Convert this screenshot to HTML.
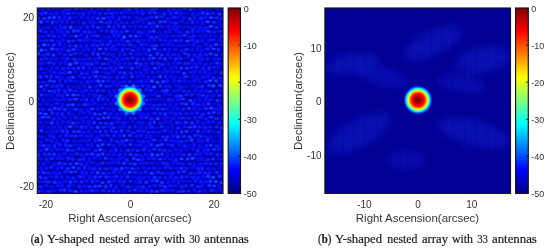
<!DOCTYPE html><html><head><meta charset="utf-8"><title>Figure</title>
<style>html,body{margin:0;padding:0;background:#fff}body{width:550px;height:252px;overflow:hidden}svg{display:block}.t{font-family:"Liberation Sans",sans-serif;font-size:10px;fill:#333333}.c{font-family:"Liberation Sans",sans-serif;font-size:9px;fill:#333333}.l{font-family:"Liberation Sans",sans-serif;font-size:11.45px;fill:#333333}.cap{font-family:"Liberation Serif",serif;font-size:12px;fill:#1c1c1c;stroke:#1c1c1c;stroke-width:0.2px}.cap .b{font-weight:bold}</style></head><body>
<svg width="550" height="252" viewBox="0 0 550 252">
<defs>
<linearGradient id="cb" x1="0" y1="0" x2="0" y2="1"><stop offset="0.0000" stop-color="#800000"/><stop offset="0.0312" stop-color="#9f0000"/><stop offset="0.0625" stop-color="#bf0000"/><stop offset="0.0938" stop-color="#df0000"/><stop offset="0.1250" stop-color="#ff0000"/><stop offset="0.1562" stop-color="#ff2000"/><stop offset="0.1875" stop-color="#ff4000"/><stop offset="0.2188" stop-color="#ff6000"/><stop offset="0.2500" stop-color="#ff8000"/><stop offset="0.2812" stop-color="#ff9f00"/><stop offset="0.3125" stop-color="#ffbf00"/><stop offset="0.3438" stop-color="#ffdf00"/><stop offset="0.3750" stop-color="#ffff00"/><stop offset="0.4062" stop-color="#dfff20"/><stop offset="0.4375" stop-color="#bfff40"/><stop offset="0.4688" stop-color="#9fff60"/><stop offset="0.5000" stop-color="#80ff80"/><stop offset="0.5312" stop-color="#60ff9f"/><stop offset="0.5625" stop-color="#40ffbf"/><stop offset="0.5938" stop-color="#20ffdf"/><stop offset="0.6250" stop-color="#00ffff"/><stop offset="0.6562" stop-color="#00dfff"/><stop offset="0.6875" stop-color="#00bfff"/><stop offset="0.7188" stop-color="#009fff"/><stop offset="0.7500" stop-color="#0080ff"/><stop offset="0.7812" stop-color="#0060ff"/><stop offset="0.8125" stop-color="#0040ff"/><stop offset="0.8438" stop-color="#0020ff"/><stop offset="0.8750" stop-color="#0000ff"/><stop offset="0.9062" stop-color="#0000df"/><stop offset="0.9375" stop-color="#0000bf"/><stop offset="0.9688" stop-color="#00009f"/><stop offset="1.0000" stop-color="#000080"/></linearGradient>
<radialGradient id="bg1" cx="0.5" cy="0.5" r="0.5"><stop offset="0.0000" stop-color="#800000"/><stop offset="0.1419" stop-color="#8c0000"/><stop offset="0.2452" stop-color="#c00000"/><stop offset="0.3484" stop-color="#f00000"/><stop offset="0.4387" stop-color="#ff2000"/><stop offset="0.5226" stop-color="#ff8000"/><stop offset="0.6065" stop-color="#ffff00"/><stop offset="0.6774" stop-color="#80ff80"/><stop offset="0.7484" stop-color="#00ffff"/><stop offset="0.8129" stop-color="#0080ff"/><stop offset="0.8710" stop-color="#0030ff"/><stop offset="0.9226" stop-color="#0a14e6" stop-opacity="0.6"/><stop offset="1" stop-color="#0a14e6" stop-opacity="0"/></radialGradient>
<radialGradient id="bg2" cx="0.5" cy="0.5" r="0.5"><stop offset="0.0000" stop-color="#800000"/><stop offset="0.1419" stop-color="#8c0000"/><stop offset="0.2452" stop-color="#c00000"/><stop offset="0.3484" stop-color="#f00000"/><stop offset="0.4387" stop-color="#ff2000"/><stop offset="0.5226" stop-color="#ff8000"/><stop offset="0.6065" stop-color="#ffff00"/><stop offset="0.6774" stop-color="#80ff80"/><stop offset="0.7484" stop-color="#00ffff"/><stop offset="0.8129" stop-color="#0080ff"/><stop offset="0.8710" stop-color="#0030ff"/><stop offset="0.9226" stop-color="#000094" stop-opacity="0.6"/><stop offset="1" stop-color="#000094" stop-opacity="0"/></radialGradient>
<filter id="bl" x="-5%" y="-5%" width="110%" height="110%"><feGaussianBlur stdDeviation="0.6"/></filter>
<filter id="bl2" x="-5%" y="-5%" width="110%" height="110%"><feGaussianBlur stdDeviation="4"/></filter>
<pattern id="vs" width="2.2" height="10" patternUnits="userSpaceOnUse"><rect width="1.1" height="10" fill="#000094"/></pattern>
<clipPath id="cpa"><rect x="37.3" y="8" width="185.7" height="185.4"/></clipPath>
<clipPath id="cpb"><rect x="324.9" y="8" width="185.6" height="185.4"/></clipPath>
</defs>
<rect width="550" height="252" fill="#fff"/>
<g clip-path="url(#cpa)">
<rect x="36.3" y="7" width="187.7" height="187.4" fill="#0000a8"/>
<g filter="url(#bl)">
<g fill="#0a10ff"><ellipse cx="37.9" cy="8.2" rx="2.7" ry="2.0" opacity="0.77"/><ellipse cx="42.8" cy="8.8" rx="2.4" ry="2.3" opacity="0.86"/><ellipse cx="48.5" cy="9.0" rx="2.7" ry="2.0" opacity="0.90"/><ellipse cx="53.8" cy="8.1" rx="2.3" ry="2.3" opacity="0.88"/><ellipse cx="59.0" cy="8.0" rx="2.6" ry="2.1" opacity="0.85"/><ellipse cx="65.7" cy="9.2" rx="2.6" ry="2.0" opacity="0.85"/><ellipse cx="69.9" cy="8.7" rx="2.0" ry="2.7" opacity="0.86"/><ellipse cx="76.7" cy="8.5" rx="2.9" ry="1.9" opacity="0.94"/><ellipse cx="81.7" cy="8.0" rx="3.0" ry="1.8" opacity="0.89"/><ellipse cx="85.9" cy="8.7" rx="2.2" ry="2.4" opacity="0.76"/><ellipse cx="91.5" cy="8.3" rx="2.2" ry="2.4" opacity="0.88"/><ellipse cx="98.3" cy="8.4" rx="3.0" ry="1.8" opacity="0.84"/><ellipse cx="102.5" cy="8.8" rx="2.3" ry="2.3" opacity="0.85"/><ellipse cx="108.7" cy="8.8" rx="2.2" ry="2.4" opacity="0.88"/><ellipse cx="113.6" cy="8.6" rx="2.4" ry="2.2" opacity="0.84"/><ellipse cx="118.4" cy="7.9" rx="2.1" ry="2.5" opacity="0.77"/><ellipse cx="125.3" cy="9.0" rx="2.5" ry="2.1" opacity="0.83"/><ellipse cx="129.3" cy="9.4" rx="2.8" ry="1.9" opacity="0.94"/><ellipse cx="136.0" cy="8.2" rx="2.7" ry="2.0" opacity="0.94"/><ellipse cx="141.7" cy="9.5" rx="2.1" ry="2.5" opacity="0.80"/><ellipse cx="146.7" cy="8.9" rx="2.4" ry="2.3" opacity="0.80"/><ellipse cx="152.5" cy="9.4" rx="2.9" ry="1.9" opacity="0.90"/><ellipse cx="156.2" cy="8.4" rx="3.2" ry="1.7" opacity="0.91"/><ellipse cx="162.2" cy="8.3" rx="2.4" ry="2.2" opacity="0.81"/><ellipse cx="168.5" cy="9.4" rx="1.9" ry="2.9" opacity="0.85"/><ellipse cx="173.7" cy="8.8" rx="2.5" ry="2.2" opacity="0.87"/><ellipse cx="179.4" cy="9.2" rx="2.3" ry="2.3" opacity="0.79"/><ellipse cx="184.6" cy="8.2" rx="2.9" ry="1.8" opacity="1.00"/><ellipse cx="190.2" cy="9.1" rx="2.7" ry="2.0" opacity="0.97"/><ellipse cx="194.4" cy="8.3" rx="2.1" ry="2.6" opacity="0.81"/><ellipse cx="200.9" cy="8.5" rx="2.9" ry="1.8" opacity="0.83"/><ellipse cx="206.4" cy="8.8" rx="2.2" ry="2.5" opacity="0.84"/><ellipse cx="210.4" cy="7.9" rx="2.7" ry="2.0" opacity="0.83"/><ellipse cx="216.5" cy="8.5" rx="3.0" ry="1.8" opacity="0.89"/><ellipse cx="222.3" cy="8.8" rx="3.0" ry="1.8" opacity="0.88"/><ellipse cx="35.8" cy="13.3" rx="3.0" ry="1.8" opacity="0.83"/><ellipse cx="41.6" cy="14.1" rx="3.0" ry="1.8" opacity="0.89"/><ellipse cx="45.5" cy="12.9" rx="3.1" ry="1.8" opacity="0.93"/><ellipse cx="51.1" cy="14.0" rx="3.0" ry="1.8" opacity="0.85"/><ellipse cx="56.5" cy="13.2" rx="2.4" ry="2.3" opacity="0.81"/><ellipse cx="62.9" cy="12.5" rx="2.2" ry="2.5" opacity="0.81"/><ellipse cx="68.1" cy="13.4" rx="2.9" ry="1.9" opacity="0.92"/><ellipse cx="73.8" cy="12.9" rx="3.2" ry="1.7" opacity="0.87"/><ellipse cx="78.8" cy="13.7" rx="2.9" ry="1.9" opacity="0.78"/><ellipse cx="83.3" cy="14.1" rx="2.2" ry="2.4" opacity="0.87"/><ellipse cx="89.2" cy="13.4" rx="2.3" ry="2.3" opacity="0.79"/><ellipse cx="94.4" cy="12.6" rx="2.4" ry="2.3" opacity="0.79"/><ellipse cx="99.9" cy="13.8" rx="2.5" ry="2.2" opacity="0.91"/><ellipse cx="106.1" cy="13.4" rx="3.1" ry="1.7" opacity="0.89"/><ellipse cx="111.7" cy="13.2" rx="3.0" ry="1.8" opacity="0.88"/><ellipse cx="116.3" cy="13.1" rx="2.2" ry="2.4" opacity="0.76"/><ellipse cx="121.5" cy="12.7" rx="2.9" ry="1.8" opacity="0.88"/><ellipse cx="127.2" cy="12.7" rx="3.1" ry="1.7" opacity="0.84"/><ellipse cx="132.4" cy="13.1" rx="2.7" ry="2.0" opacity="0.85"/><ellipse cx="137.7" cy="12.6" rx="2.2" ry="2.4" opacity="0.76"/><ellipse cx="143.0" cy="13.5" rx="2.8" ry="2.0" opacity="0.86"/><ellipse cx="149.8" cy="12.7" rx="2.2" ry="2.4" opacity="0.87"/><ellipse cx="154.9" cy="12.7" rx="3.0" ry="1.8" opacity="0.91"/><ellipse cx="160.0" cy="13.7" rx="2.4" ry="2.2" opacity="0.84"/><ellipse cx="164.4" cy="14.0" rx="2.7" ry="2.0" opacity="0.89"/><ellipse cx="170.9" cy="13.4" rx="2.2" ry="2.4" opacity="0.85"/><ellipse cx="176.3" cy="12.8" rx="2.6" ry="2.1" opacity="0.90"/><ellipse cx="181.5" cy="13.6" rx="2.5" ry="2.2" opacity="0.80"/><ellipse cx="186.3" cy="13.5" rx="2.6" ry="2.1" opacity="0.81"/><ellipse cx="192.4" cy="13.7" rx="2.6" ry="2.0" opacity="0.85"/><ellipse cx="198.4" cy="14.1" rx="2.9" ry="1.9" opacity="0.81"/><ellipse cx="202.8" cy="12.9" rx="2.4" ry="2.3" opacity="0.90"/><ellipse cx="207.6" cy="13.9" rx="2.8" ry="1.9" opacity="0.94"/><ellipse cx="212.8" cy="13.3" rx="2.5" ry="2.2" opacity="0.89"/><ellipse cx="219.6" cy="14.0" rx="2.9" ry="1.9" opacity="0.94"/><ellipse cx="225.4" cy="13.5" rx="2.2" ry="2.4" opacity="0.82"/><ellipse cx="37.5" cy="18.5" rx="2.4" ry="2.2" opacity="0.93"/><ellipse cx="44.4" cy="18.6" rx="3.1" ry="1.7" opacity="0.98"/><ellipse cx="49.4" cy="17.8" rx="2.6" ry="2.1" opacity="0.97"/><ellipse cx="54.1" cy="17.5" rx="2.4" ry="2.2" opacity="0.95"/><ellipse cx="59.2" cy="17.3" rx="2.1" ry="2.6" opacity="0.88"/><ellipse cx="64.6" cy="17.3" rx="2.3" ry="2.4" opacity="0.79"/><ellipse cx="70.2" cy="18.0" rx="2.7" ry="2.0" opacity="0.89"/><ellipse cx="75.2" cy="17.5" rx="2.8" ry="1.9" opacity="0.80"/><ellipse cx="82.1" cy="17.4" rx="2.6" ry="2.1" opacity="0.78"/><ellipse cx="87.6" cy="18.5" rx="2.2" ry="2.4" opacity="0.75"/><ellipse cx="92.9" cy="17.9" rx="2.5" ry="2.1" opacity="0.78"/><ellipse cx="98.2" cy="18.5" rx="2.4" ry="2.3" opacity="0.90"/><ellipse cx="103.4" cy="18.2" rx="2.9" ry="1.9" opacity="0.95"/><ellipse cx="108.7" cy="17.5" rx="2.8" ry="1.9" opacity="0.84"/><ellipse cx="113.1" cy="17.1" rx="2.1" ry="2.5" opacity="0.85"/><ellipse cx="119.1" cy="18.7" rx="2.1" ry="2.6" opacity="0.87"/><ellipse cx="124.3" cy="17.0" rx="2.6" ry="2.1" opacity="0.86"/><ellipse cx="129.2" cy="17.6" rx="2.5" ry="2.1" opacity="0.89"/><ellipse cx="136.2" cy="17.6" rx="2.4" ry="2.2" opacity="0.79"/><ellipse cx="140.4" cy="18.7" rx="2.4" ry="2.3" opacity="0.76"/><ellipse cx="146.5" cy="18.7" rx="2.4" ry="2.3" opacity="0.81"/><ellipse cx="151.0" cy="17.1" rx="3.0" ry="1.8" opacity="0.85"/><ellipse cx="156.7" cy="17.3" rx="2.4" ry="2.3" opacity="1.00"/><ellipse cx="161.8" cy="17.0" rx="3.1" ry="1.7" opacity="0.88"/><ellipse cx="168.4" cy="18.5" rx="2.6" ry="2.1" opacity="0.78"/><ellipse cx="174.0" cy="17.3" rx="2.2" ry="2.4" opacity="0.88"/><ellipse cx="177.8" cy="17.1" rx="2.8" ry="1.9" opacity="0.78"/><ellipse cx="183.7" cy="17.5" rx="2.6" ry="2.1" opacity="0.88"/><ellipse cx="189.9" cy="18.6" rx="2.3" ry="2.3" opacity="0.92"/><ellipse cx="194.6" cy="17.5" rx="1.8" ry="3.0" opacity="0.81"/><ellipse cx="200.7" cy="18.3" rx="2.7" ry="2.0" opacity="0.87"/><ellipse cx="204.8" cy="17.4" rx="2.4" ry="2.2" opacity="0.83"/><ellipse cx="211.1" cy="17.6" rx="3.2" ry="1.7" opacity="1.00"/><ellipse cx="216.8" cy="17.8" rx="2.9" ry="1.9" opacity="0.91"/><ellipse cx="221.1" cy="18.5" rx="2.5" ry="2.1" opacity="0.88"/><ellipse cx="34.9" cy="23.1" rx="2.5" ry="2.1" opacity="0.82"/><ellipse cx="40.9" cy="22.0" rx="3.1" ry="1.7" opacity="0.94"/><ellipse cx="47.0" cy="21.6" rx="2.5" ry="2.1" opacity="0.87"/><ellipse cx="52.4" cy="22.4" rx="1.8" ry="3.0" opacity="0.92"/><ellipse cx="56.9" cy="21.8" rx="2.7" ry="2.0" opacity="0.79"/><ellipse cx="62.0" cy="21.6" rx="2.3" ry="2.3" opacity="0.84"/><ellipse cx="67.1" cy="21.7" rx="1.9" ry="2.8" opacity="0.84"/><ellipse cx="72.9" cy="22.1" rx="2.9" ry="1.9" opacity="0.85"/><ellipse cx="78.5" cy="21.9" rx="2.2" ry="2.4" opacity="0.80"/><ellipse cx="84.0" cy="23.0" rx="2.1" ry="2.6" opacity="0.88"/><ellipse cx="90.2" cy="21.7" rx="2.0" ry="2.6" opacity="0.81"/><ellipse cx="94.5" cy="22.5" rx="2.6" ry="2.0" opacity="0.83"/><ellipse cx="101.1" cy="21.9" rx="3.2" ry="1.7" opacity="0.98"/><ellipse cx="106.4" cy="22.7" rx="3.0" ry="1.8" opacity="0.88"/><ellipse cx="110.5" cy="21.9" rx="2.1" ry="2.5" opacity="0.85"/><ellipse cx="115.7" cy="22.6" rx="1.9" ry="2.9" opacity="0.75"/><ellipse cx="122.1" cy="22.5" rx="2.6" ry="2.1" opacity="0.79"/><ellipse cx="127.2" cy="22.7" rx="2.3" ry="2.3" opacity="0.85"/><ellipse cx="133.2" cy="22.4" rx="2.4" ry="2.2" opacity="0.86"/><ellipse cx="138.1" cy="21.6" rx="2.8" ry="1.9" opacity="0.76"/><ellipse cx="143.5" cy="21.6" rx="1.8" ry="3.0" opacity="0.80"/><ellipse cx="149.5" cy="23.3" rx="2.4" ry="2.3" opacity="0.91"/><ellipse cx="153.7" cy="23.0" rx="2.6" ry="2.1" opacity="0.87"/><ellipse cx="160.3" cy="21.8" rx="2.5" ry="2.1" opacity="1.00"/><ellipse cx="164.5" cy="21.8" rx="3.0" ry="1.8" opacity="0.92"/><ellipse cx="170.7" cy="22.2" rx="2.7" ry="2.0" opacity="0.84"/><ellipse cx="175.7" cy="23.0" rx="2.7" ry="2.0" opacity="0.89"/><ellipse cx="181.7" cy="21.6" rx="2.8" ry="1.9" opacity="0.81"/><ellipse cx="186.9" cy="22.7" rx="2.4" ry="2.3" opacity="0.79"/><ellipse cx="192.3" cy="22.3" rx="2.3" ry="2.3" opacity="0.90"/><ellipse cx="197.2" cy="21.7" rx="2.7" ry="2.0" opacity="0.77"/><ellipse cx="202.4" cy="22.7" rx="1.8" ry="3.0" opacity="0.78"/><ellipse cx="207.7" cy="21.7" rx="2.9" ry="1.9" opacity="0.96"/><ellipse cx="213.8" cy="22.2" rx="3.2" ry="1.7" opacity="0.94"/><ellipse cx="219.2" cy="22.3" rx="1.8" ry="2.9" opacity="0.82"/><ellipse cx="224.6" cy="23.2" rx="2.7" ry="2.0" opacity="0.79"/><ellipse cx="38.5" cy="27.6" rx="2.2" ry="2.5" opacity="0.81"/><ellipse cx="44.3" cy="27.5" rx="3.1" ry="1.8" opacity="0.83"/><ellipse cx="48.9" cy="27.4" rx="2.4" ry="2.3" opacity="0.85"/><ellipse cx="54.8" cy="27.6" rx="2.7" ry="2.0" opacity="0.81"/><ellipse cx="60.3" cy="27.0" rx="1.8" ry="3.0" opacity="0.84"/><ellipse cx="64.7" cy="27.4" rx="2.5" ry="2.2" opacity="0.88"/><ellipse cx="70.8" cy="27.3" rx="2.7" ry="2.0" opacity="0.97"/><ellipse cx="76.4" cy="27.1" rx="2.9" ry="1.9" opacity="0.85"/><ellipse cx="80.7" cy="27.8" rx="2.4" ry="2.2" opacity="0.79"/><ellipse cx="87.1" cy="27.2" rx="2.2" ry="2.4" opacity="0.86"/><ellipse cx="92.9" cy="26.2" rx="1.8" ry="3.0" opacity="0.90"/><ellipse cx="98.2" cy="27.6" rx="2.8" ry="1.9" opacity="0.93"/><ellipse cx="102.5" cy="26.7" rx="2.6" ry="2.1" opacity="0.83"/><ellipse cx="108.8" cy="26.8" rx="2.7" ry="2.0" opacity="0.93"/><ellipse cx="113.7" cy="27.5" rx="2.0" ry="2.7" opacity="0.85"/><ellipse cx="118.6" cy="26.1" rx="1.8" ry="3.0" opacity="0.86"/><ellipse cx="124.0" cy="27.0" rx="2.5" ry="2.2" opacity="0.92"/><ellipse cx="130.0" cy="26.3" rx="3.1" ry="1.8" opacity="0.85"/><ellipse cx="135.2" cy="26.8" rx="1.8" ry="3.0" opacity="0.82"/><ellipse cx="140.3" cy="26.6" rx="2.5" ry="2.1" opacity="0.83"/><ellipse cx="145.7" cy="26.9" rx="2.8" ry="1.9" opacity="0.86"/><ellipse cx="152.2" cy="27.3" rx="2.6" ry="2.1" opacity="0.81"/><ellipse cx="157.1" cy="26.3" rx="2.6" ry="2.1" opacity="0.96"/><ellipse cx="161.8" cy="26.4" rx="2.7" ry="2.0" opacity="0.85"/><ellipse cx="168.2" cy="26.3" rx="2.5" ry="2.1" opacity="0.78"/><ellipse cx="173.7" cy="27.4" rx="2.0" ry="2.7" opacity="0.77"/><ellipse cx="178.1" cy="26.8" rx="2.9" ry="1.9" opacity="0.82"/><ellipse cx="184.0" cy="27.2" rx="2.9" ry="1.9" opacity="0.84"/><ellipse cx="189.5" cy="27.4" rx="2.9" ry="1.8" opacity="0.84"/><ellipse cx="195.1" cy="27.3" rx="2.0" ry="2.7" opacity="0.81"/><ellipse cx="200.1" cy="27.5" rx="2.4" ry="2.2" opacity="0.84"/><ellipse cx="205.9" cy="27.8" rx="2.9" ry="1.9" opacity="0.86"/><ellipse cx="211.1" cy="26.4" rx="2.8" ry="1.9" opacity="0.97"/><ellipse cx="216.4" cy="27.3" rx="2.7" ry="2.0" opacity="0.91"/><ellipse cx="222.3" cy="26.3" rx="2.2" ry="2.4" opacity="0.83"/><ellipse cx="35.3" cy="30.7" rx="2.8" ry="1.9" opacity="0.80"/><ellipse cx="40.5" cy="31.1" rx="2.7" ry="2.0" opacity="0.91"/><ellipse cx="45.6" cy="32.0" rx="2.8" ry="1.9" opacity="0.90"/><ellipse cx="51.9" cy="32.1" rx="2.5" ry="2.2" opacity="0.84"/><ellipse cx="57.7" cy="31.1" rx="2.1" ry="2.6" opacity="0.78"/><ellipse cx="61.6" cy="31.9" rx="2.5" ry="2.2" opacity="0.79"/><ellipse cx="67.8" cy="31.8" rx="3.0" ry="1.8" opacity="0.87"/><ellipse cx="73.8" cy="30.9" rx="2.3" ry="2.3" opacity="0.98"/><ellipse cx="78.0" cy="30.9" rx="2.6" ry="2.1" opacity="0.93"/><ellipse cx="84.8" cy="31.7" rx="2.9" ry="1.8" opacity="0.88"/><ellipse cx="89.6" cy="32.0" rx="2.0" ry="2.7" opacity="0.88"/><ellipse cx="94.1" cy="31.5" rx="2.6" ry="2.0" opacity="0.83"/><ellipse cx="101.0" cy="30.7" rx="2.8" ry="1.9" opacity="0.87"/><ellipse cx="106.5" cy="30.8" rx="2.3" ry="2.3" opacity="0.88"/><ellipse cx="112.0" cy="31.6" rx="2.2" ry="2.4" opacity="0.88"/><ellipse cx="116.3" cy="31.5" rx="2.4" ry="2.3" opacity="0.87"/><ellipse cx="121.5" cy="32.1" rx="2.4" ry="2.2" opacity="0.86"/><ellipse cx="127.0" cy="31.2" rx="2.9" ry="1.9" opacity="0.93"/><ellipse cx="132.8" cy="30.7" rx="2.5" ry="2.2" opacity="0.84"/><ellipse cx="138.8" cy="31.8" rx="2.8" ry="1.9" opacity="0.89"/><ellipse cx="143.4" cy="32.0" rx="2.2" ry="2.4" opacity="0.77"/><ellipse cx="149.6" cy="31.8" rx="2.9" ry="1.9" opacity="0.87"/><ellipse cx="154.0" cy="31.4" rx="2.3" ry="2.3" opacity="0.92"/><ellipse cx="159.8" cy="32.3" rx="2.7" ry="2.0" opacity="0.79"/><ellipse cx="165.9" cy="32.4" rx="2.3" ry="2.4" opacity="0.82"/><ellipse cx="170.0" cy="30.9" rx="1.9" ry="2.8" opacity="0.75"/><ellipse cx="176.7" cy="30.8" rx="2.2" ry="2.5" opacity="0.79"/><ellipse cx="180.8" cy="32.0" rx="2.9" ry="1.8" opacity="0.82"/><ellipse cx="187.3" cy="32.0" rx="3.0" ry="1.8" opacity="0.93"/><ellipse cx="192.5" cy="30.7" rx="1.8" ry="2.9" opacity="0.89"/><ellipse cx="198.1" cy="31.5" rx="2.7" ry="2.0" opacity="0.81"/><ellipse cx="203.2" cy="30.9" rx="2.7" ry="2.0" opacity="0.80"/><ellipse cx="208.2" cy="31.3" rx="2.9" ry="1.8" opacity="0.91"/><ellipse cx="214.1" cy="32.1" rx="3.2" ry="1.7" opacity="0.89"/><ellipse cx="219.8" cy="31.3" rx="3.0" ry="1.8" opacity="0.86"/><ellipse cx="224.4" cy="31.7" rx="2.2" ry="2.4" opacity="0.88"/><ellipse cx="37.8" cy="36.7" rx="3.0" ry="1.8" opacity="0.85"/><ellipse cx="43.1" cy="36.6" rx="2.9" ry="1.9" opacity="0.82"/><ellipse cx="48.9" cy="35.6" rx="3.0" ry="1.8" opacity="0.89"/><ellipse cx="53.9" cy="36.2" rx="2.6" ry="2.0" opacity="0.88"/><ellipse cx="59.2" cy="36.5" rx="2.5" ry="2.1" opacity="0.83"/><ellipse cx="64.6" cy="35.3" rx="2.3" ry="2.4" opacity="0.86"/><ellipse cx="70.3" cy="36.1" rx="3.1" ry="1.7" opacity="0.83"/><ellipse cx="76.0" cy="36.2" rx="2.7" ry="2.0" opacity="0.97"/><ellipse cx="81.0" cy="35.3" rx="2.4" ry="2.3" opacity="0.82"/><ellipse cx="86.9" cy="36.8" rx="1.8" ry="2.9" opacity="0.90"/><ellipse cx="93.0" cy="35.7" rx="3.0" ry="1.8" opacity="0.83"/><ellipse cx="97.4" cy="36.0" rx="3.1" ry="1.7" opacity="0.91"/><ellipse cx="103.7" cy="36.8" rx="3.0" ry="1.8" opacity="0.80"/><ellipse cx="108.7" cy="37.0" rx="2.9" ry="1.9" opacity="0.77"/><ellipse cx="114.1" cy="35.7" rx="2.3" ry="2.4" opacity="0.85"/><ellipse cx="118.6" cy="35.6" rx="2.2" ry="2.5" opacity="0.86"/><ellipse cx="124.1" cy="36.9" rx="2.4" ry="2.3" opacity="0.98"/><ellipse cx="130.2" cy="36.0" rx="2.8" ry="1.9" opacity="0.99"/><ellipse cx="135.8" cy="36.2" rx="2.5" ry="2.2" opacity="0.94"/><ellipse cx="140.5" cy="35.5" rx="1.8" ry="2.9" opacity="0.81"/><ellipse cx="147.1" cy="35.3" rx="2.4" ry="2.3" opacity="0.84"/><ellipse cx="151.4" cy="37.0" rx="2.3" ry="2.3" opacity="0.89"/><ellipse cx="156.6" cy="37.0" rx="2.7" ry="2.0" opacity="0.91"/><ellipse cx="161.8" cy="36.0" rx="2.8" ry="1.9" opacity="0.80"/><ellipse cx="167.2" cy="36.6" rx="2.4" ry="2.2" opacity="0.77"/><ellipse cx="173.4" cy="36.1" rx="2.7" ry="2.0" opacity="0.78"/><ellipse cx="179.2" cy="36.2" rx="2.8" ry="1.9" opacity="0.80"/><ellipse cx="184.4" cy="35.3" rx="3.1" ry="1.7" opacity="0.93"/><ellipse cx="189.4" cy="36.8" rx="3.0" ry="1.8" opacity="0.87"/><ellipse cx="193.9" cy="36.1" rx="2.3" ry="2.3" opacity="0.86"/><ellipse cx="200.6" cy="35.9" rx="2.9" ry="1.8" opacity="0.75"/><ellipse cx="205.6" cy="36.1" rx="2.2" ry="2.5" opacity="0.82"/><ellipse cx="210.5" cy="35.5" rx="1.8" ry="3.0" opacity="0.81"/><ellipse cx="215.7" cy="36.5" rx="2.9" ry="1.9" opacity="0.78"/><ellipse cx="221.8" cy="36.5" rx="1.9" ry="2.8" opacity="0.88"/><ellipse cx="35.1" cy="40.0" rx="2.7" ry="2.0" opacity="0.76"/><ellipse cx="40.3" cy="40.8" rx="3.0" ry="1.8" opacity="0.81"/><ellipse cx="46.1" cy="40.5" rx="2.7" ry="2.0" opacity="0.90"/><ellipse cx="51.4" cy="40.5" rx="3.0" ry="1.8" opacity="0.90"/><ellipse cx="57.9" cy="41.4" rx="2.7" ry="2.0" opacity="0.81"/><ellipse cx="62.6" cy="39.9" rx="2.5" ry="2.2" opacity="0.83"/><ellipse cx="68.7" cy="41.1" rx="2.9" ry="1.8" opacity="0.91"/><ellipse cx="72.9" cy="41.0" rx="3.2" ry="1.7" opacity="0.92"/><ellipse cx="79.5" cy="40.3" rx="2.4" ry="2.3" opacity="0.91"/><ellipse cx="84.0" cy="40.7" rx="2.3" ry="2.3" opacity="0.77"/><ellipse cx="89.3" cy="40.3" rx="2.7" ry="2.0" opacity="0.75"/><ellipse cx="95.1" cy="40.8" rx="2.8" ry="1.9" opacity="0.79"/><ellipse cx="100.4" cy="40.9" rx="2.6" ry="2.1" opacity="0.85"/><ellipse cx="104.8" cy="40.4" rx="2.8" ry="1.9" opacity="0.83"/><ellipse cx="110.7" cy="41.5" rx="2.3" ry="2.3" opacity="0.87"/><ellipse cx="116.3" cy="40.5" rx="2.4" ry="2.3" opacity="0.76"/><ellipse cx="122.3" cy="40.0" rx="2.8" ry="1.9" opacity="0.83"/><ellipse cx="127.9" cy="41.2" rx="3.0" ry="1.8" opacity="0.95"/><ellipse cx="133.4" cy="40.0" rx="3.0" ry="1.8" opacity="0.85"/><ellipse cx="138.0" cy="41.2" rx="2.5" ry="2.1" opacity="0.88"/><ellipse cx="143.3" cy="40.7" rx="2.9" ry="1.9" opacity="0.79"/><ellipse cx="148.9" cy="40.5" rx="2.3" ry="2.3" opacity="0.79"/><ellipse cx="154.4" cy="39.9" rx="3.0" ry="1.8" opacity="0.85"/><ellipse cx="160.4" cy="39.8" rx="2.8" ry="1.9" opacity="0.88"/><ellipse cx="165.1" cy="40.7" rx="2.5" ry="2.1" opacity="0.82"/><ellipse cx="170.2" cy="41.5" rx="2.3" ry="2.4" opacity="0.82"/><ellipse cx="175.7" cy="40.8" rx="3.0" ry="1.8" opacity="0.90"/><ellipse cx="181.0" cy="40.7" rx="2.5" ry="2.1" opacity="0.86"/><ellipse cx="187.4" cy="41.0" rx="3.1" ry="1.7" opacity="1.00"/><ellipse cx="192.1" cy="40.1" rx="2.8" ry="2.0" opacity="0.89"/><ellipse cx="197.3" cy="41.2" rx="2.2" ry="2.5" opacity="0.86"/><ellipse cx="202.4" cy="40.6" rx="2.7" ry="2.0" opacity="0.78"/><ellipse cx="209.2" cy="40.8" rx="2.4" ry="2.3" opacity="0.79"/><ellipse cx="213.0" cy="39.9" rx="3.1" ry="1.7" opacity="0.88"/><ellipse cx="219.6" cy="40.3" rx="2.4" ry="2.2" opacity="0.84"/><ellipse cx="223.8" cy="41.4" rx="2.6" ry="2.1" opacity="0.80"/><ellipse cx="37.4" cy="45.9" rx="2.6" ry="2.1" opacity="0.93"/><ellipse cx="44.2" cy="44.9" rx="2.6" ry="2.1" opacity="0.98"/><ellipse cx="48.5" cy="45.0" rx="2.6" ry="2.1" opacity="0.87"/><ellipse cx="53.8" cy="44.9" rx="2.4" ry="2.2" opacity="0.92"/><ellipse cx="59.6" cy="44.4" rx="2.2" ry="2.5" opacity="0.87"/><ellipse cx="64.4" cy="45.5" rx="1.9" ry="2.8" opacity="0.77"/><ellipse cx="70.2" cy="45.8" rx="3.0" ry="1.8" opacity="0.86"/><ellipse cx="75.8" cy="46.0" rx="2.8" ry="1.9" opacity="0.95"/><ellipse cx="81.0" cy="45.9" rx="2.4" ry="2.2" opacity="0.82"/><ellipse cx="86.3" cy="45.9" rx="2.0" ry="2.7" opacity="0.82"/><ellipse cx="92.7" cy="45.0" rx="2.5" ry="2.2" opacity="0.85"/><ellipse cx="97.3" cy="45.5" rx="2.6" ry="2.1" opacity="0.89"/><ellipse cx="102.5" cy="44.5" rx="2.7" ry="2.0" opacity="0.90"/><ellipse cx="107.7" cy="44.8" rx="2.8" ry="1.9" opacity="0.88"/><ellipse cx="113.3" cy="45.8" rx="2.3" ry="2.3" opacity="0.85"/><ellipse cx="118.4" cy="44.4" rx="2.5" ry="2.2" opacity="0.77"/><ellipse cx="123.8" cy="44.9" rx="3.0" ry="1.8" opacity="0.81"/><ellipse cx="130.4" cy="44.8" rx="2.7" ry="2.0" opacity="0.92"/><ellipse cx="134.6" cy="45.8" rx="2.5" ry="2.2" opacity="0.79"/><ellipse cx="141.3" cy="44.7" rx="2.3" ry="2.4" opacity="0.86"/><ellipse cx="145.8" cy="44.5" rx="3.0" ry="1.8" opacity="0.82"/><ellipse cx="152.0" cy="45.8" rx="2.2" ry="2.4" opacity="0.87"/><ellipse cx="156.3" cy="45.7" rx="3.1" ry="1.8" opacity="0.93"/><ellipse cx="162.5" cy="44.7" rx="2.6" ry="2.0" opacity="0.85"/><ellipse cx="168.1" cy="44.7" rx="2.6" ry="2.1" opacity="0.84"/><ellipse cx="172.9" cy="44.8" rx="2.7" ry="2.0" opacity="0.77"/><ellipse cx="179.2" cy="45.3" rx="2.8" ry="1.9" opacity="0.79"/><ellipse cx="183.9" cy="45.7" rx="2.6" ry="2.1" opacity="0.83"/><ellipse cx="188.9" cy="44.4" rx="2.9" ry="1.8" opacity="0.82"/><ellipse cx="194.1" cy="44.9" rx="2.3" ry="2.3" opacity="0.81"/><ellipse cx="199.3" cy="46.1" rx="2.8" ry="1.9" opacity="0.76"/><ellipse cx="205.7" cy="44.5" rx="2.4" ry="2.3" opacity="0.84"/><ellipse cx="211.2" cy="46.0" rx="2.5" ry="2.1" opacity="0.88"/><ellipse cx="216.0" cy="44.6" rx="3.1" ry="1.7" opacity="0.97"/><ellipse cx="221.5" cy="44.6" rx="2.5" ry="2.1" opacity="0.84"/><ellipse cx="35.3" cy="50.3" rx="2.7" ry="2.0" opacity="0.77"/><ellipse cx="41.5" cy="50.1" rx="2.7" ry="2.0" opacity="0.99"/><ellipse cx="45.5" cy="50.1" rx="3.2" ry="1.7" opacity="0.92"/><ellipse cx="52.1" cy="48.9" rx="2.9" ry="1.8" opacity="0.97"/><ellipse cx="57.0" cy="49.5" rx="2.9" ry="1.9" opacity="0.86"/><ellipse cx="62.6" cy="49.5" rx="2.5" ry="2.2" opacity="0.75"/><ellipse cx="68.7" cy="50.5" rx="3.0" ry="1.8" opacity="0.90"/><ellipse cx="73.5" cy="49.4" rx="2.8" ry="1.9" opacity="0.94"/><ellipse cx="77.9" cy="49.2" rx="2.3" ry="2.3" opacity="0.83"/><ellipse cx="83.9" cy="49.9" rx="2.7" ry="2.0" opacity="0.82"/><ellipse cx="88.8" cy="49.2" rx="2.3" ry="2.4" opacity="0.84"/><ellipse cx="94.5" cy="49.7" rx="2.0" ry="2.7" opacity="0.84"/><ellipse cx="100.1" cy="49.0" rx="2.8" ry="1.9" opacity="0.99"/><ellipse cx="106.1" cy="49.0" rx="2.4" ry="2.2" opacity="0.92"/><ellipse cx="111.6" cy="49.0" rx="2.2" ry="2.5" opacity="0.83"/><ellipse cx="116.0" cy="49.4" rx="2.9" ry="1.8" opacity="0.81"/><ellipse cx="122.6" cy="49.9" rx="2.3" ry="2.3" opacity="0.88"/><ellipse cx="127.9" cy="49.1" rx="3.1" ry="1.7" opacity="0.89"/><ellipse cx="132.8" cy="50.3" rx="2.9" ry="1.8" opacity="0.92"/><ellipse cx="138.2" cy="49.1" rx="1.9" ry="2.9" opacity="0.76"/><ellipse cx="143.6" cy="49.4" rx="2.3" ry="2.3" opacity="0.80"/><ellipse cx="149.0" cy="50.1" rx="2.2" ry="2.5" opacity="0.93"/><ellipse cx="154.8" cy="48.9" rx="2.9" ry="1.9" opacity="0.95"/><ellipse cx="159.5" cy="50.4" rx="2.6" ry="2.0" opacity="0.88"/><ellipse cx="164.5" cy="49.5" rx="2.5" ry="2.1" opacity="0.89"/><ellipse cx="169.6" cy="49.7" rx="2.3" ry="2.3" opacity="0.77"/><ellipse cx="175.5" cy="49.3" rx="2.7" ry="2.0" opacity="0.78"/><ellipse cx="182.1" cy="50.6" rx="2.9" ry="1.8" opacity="0.85"/><ellipse cx="186.5" cy="49.4" rx="3.2" ry="1.7" opacity="0.92"/><ellipse cx="192.1" cy="50.0" rx="2.1" ry="2.6" opacity="0.84"/><ellipse cx="197.5" cy="49.5" rx="2.2" ry="2.5" opacity="0.77"/><ellipse cx="202.0" cy="50.4" rx="2.7" ry="2.0" opacity="0.83"/><ellipse cx="207.7" cy="49.0" rx="2.9" ry="1.9" opacity="0.86"/><ellipse cx="213.9" cy="49.0" rx="3.2" ry="1.7" opacity="0.94"/><ellipse cx="218.3" cy="49.7" rx="2.2" ry="2.5" opacity="0.89"/><ellipse cx="224.0" cy="49.6" rx="2.9" ry="1.8" opacity="0.85"/><ellipse cx="38.4" cy="53.5" rx="2.2" ry="2.5" opacity="0.94"/><ellipse cx="43.9" cy="55.1" rx="3.0" ry="1.8" opacity="0.89"/><ellipse cx="48.2" cy="54.1" rx="2.6" ry="2.1" opacity="0.92"/><ellipse cx="53.5" cy="55.1" rx="2.2" ry="2.4" opacity="0.94"/><ellipse cx="59.2" cy="53.7" rx="2.9" ry="1.9" opacity="0.76"/><ellipse cx="65.3" cy="54.5" rx="2.7" ry="2.0" opacity="0.84"/><ellipse cx="71.1" cy="54.8" rx="3.1" ry="1.7" opacity="0.90"/><ellipse cx="75.3" cy="53.4" rx="3.0" ry="1.8" opacity="0.89"/><ellipse cx="80.7" cy="53.5" rx="2.6" ry="2.0" opacity="0.76"/><ellipse cx="86.2" cy="55.1" rx="2.3" ry="2.3" opacity="0.76"/><ellipse cx="93.0" cy="53.7" rx="2.4" ry="2.2" opacity="0.88"/><ellipse cx="98.1" cy="54.2" rx="2.3" ry="2.3" opacity="0.96"/><ellipse cx="103.7" cy="53.5" rx="3.2" ry="1.7" opacity="0.93"/><ellipse cx="108.0" cy="54.2" rx="2.9" ry="1.9" opacity="0.83"/><ellipse cx="113.4" cy="55.2" rx="2.3" ry="2.3" opacity="0.84"/><ellipse cx="119.8" cy="53.9" rx="1.8" ry="2.9" opacity="0.81"/><ellipse cx="124.9" cy="54.5" rx="3.0" ry="1.8" opacity="0.85"/><ellipse cx="130.7" cy="53.7" rx="2.6" ry="2.0" opacity="0.95"/><ellipse cx="136.1" cy="53.7" rx="2.4" ry="2.3" opacity="0.78"/><ellipse cx="140.1" cy="54.0" rx="2.9" ry="1.8" opacity="0.85"/><ellipse cx="146.5" cy="53.5" rx="2.1" ry="2.6" opacity="0.79"/><ellipse cx="150.7" cy="55.2" rx="2.3" ry="2.3" opacity="0.94"/><ellipse cx="157.3" cy="53.7" rx="2.4" ry="2.2" opacity="0.95"/><ellipse cx="161.9" cy="55.1" rx="2.5" ry="2.1" opacity="0.96"/><ellipse cx="167.8" cy="54.1" rx="2.2" ry="2.5" opacity="0.83"/><ellipse cx="173.5" cy="54.4" rx="3.0" ry="1.8" opacity="0.85"/><ellipse cx="178.5" cy="55.2" rx="2.1" ry="2.6" opacity="0.81"/><ellipse cx="184.9" cy="53.4" rx="2.6" ry="2.1" opacity="0.93"/><ellipse cx="188.7" cy="54.9" rx="2.3" ry="2.3" opacity="0.92"/><ellipse cx="194.5" cy="55.1" rx="2.9" ry="1.8" opacity="0.86"/><ellipse cx="200.4" cy="54.7" rx="2.5" ry="2.1" opacity="0.85"/><ellipse cx="205.8" cy="54.4" rx="2.4" ry="2.2" opacity="0.87"/><ellipse cx="211.0" cy="53.8" rx="2.8" ry="1.9" opacity="0.97"/><ellipse cx="215.8" cy="54.9" rx="3.1" ry="1.8" opacity="0.95"/><ellipse cx="222.4" cy="54.9" rx="2.2" ry="2.4" opacity="0.80"/><ellipse cx="35.2" cy="59.4" rx="2.3" ry="2.4" opacity="0.82"/><ellipse cx="41.8" cy="59.2" rx="2.9" ry="1.8" opacity="0.87"/><ellipse cx="46.3" cy="58.4" rx="2.7" ry="2.0" opacity="0.88"/><ellipse cx="51.1" cy="59.2" rx="2.4" ry="2.2" opacity="0.84"/><ellipse cx="56.4" cy="59.1" rx="2.6" ry="2.1" opacity="0.79"/><ellipse cx="62.7" cy="58.6" rx="2.5" ry="2.1" opacity="0.81"/><ellipse cx="67.5" cy="58.7" rx="2.5" ry="2.1" opacity="0.91"/><ellipse cx="74.1" cy="59.2" rx="2.7" ry="2.0" opacity="0.92"/><ellipse cx="78.7" cy="59.6" rx="2.8" ry="1.9" opacity="0.81"/><ellipse cx="84.0" cy="59.5" rx="2.9" ry="1.8" opacity="0.82"/><ellipse cx="89.5" cy="58.9" rx="2.8" ry="1.9" opacity="0.85"/><ellipse cx="95.4" cy="59.3" rx="2.3" ry="2.4" opacity="0.80"/><ellipse cx="99.6" cy="58.1" rx="2.4" ry="2.3" opacity="0.92"/><ellipse cx="106.0" cy="58.7" rx="3.0" ry="1.8" opacity="0.97"/><ellipse cx="110.2" cy="59.7" rx="2.5" ry="2.2" opacity="0.80"/><ellipse cx="117.1" cy="59.0" rx="2.2" ry="2.4" opacity="0.81"/><ellipse cx="122.6" cy="59.4" rx="2.3" ry="2.4" opacity="0.81"/><ellipse cx="127.4" cy="58.6" rx="2.8" ry="1.9" opacity="0.89"/><ellipse cx="132.8" cy="58.0" rx="2.7" ry="2.0" opacity="0.89"/><ellipse cx="137.7" cy="59.2" rx="2.6" ry="2.1" opacity="0.86"/><ellipse cx="143.4" cy="59.1" rx="2.2" ry="2.4" opacity="0.87"/><ellipse cx="149.4" cy="58.8" rx="2.2" ry="2.4" opacity="0.87"/><ellipse cx="153.8" cy="58.1" rx="3.1" ry="1.7" opacity="0.92"/><ellipse cx="160.0" cy="58.2" rx="2.4" ry="2.3" opacity="0.92"/><ellipse cx="164.8" cy="59.0" rx="2.5" ry="2.2" opacity="0.91"/><ellipse cx="170.3" cy="58.0" rx="2.4" ry="2.3" opacity="0.84"/><ellipse cx="175.8" cy="59.2" rx="2.3" ry="2.4" opacity="0.87"/><ellipse cx="180.9" cy="58.6" rx="3.0" ry="1.8" opacity="0.88"/><ellipse cx="186.8" cy="58.1" rx="3.1" ry="1.7" opacity="0.85"/><ellipse cx="192.3" cy="59.7" rx="1.9" ry="2.8" opacity="0.92"/><ellipse cx="197.9" cy="58.3" rx="2.2" ry="2.4" opacity="0.80"/><ellipse cx="202.2" cy="58.9" rx="2.1" ry="2.6" opacity="0.85"/><ellipse cx="207.6" cy="59.0" rx="2.8" ry="1.9" opacity="0.85"/><ellipse cx="214.3" cy="59.5" rx="2.4" ry="2.2" opacity="0.85"/><ellipse cx="218.4" cy="58.8" rx="2.7" ry="2.0" opacity="0.87"/><ellipse cx="223.8" cy="58.4" rx="1.8" ry="2.9" opacity="0.84"/><ellipse cx="39.0" cy="63.4" rx="2.8" ry="1.9" opacity="0.84"/><ellipse cx="42.8" cy="63.2" rx="3.1" ry="1.7" opacity="0.84"/><ellipse cx="49.1" cy="62.9" rx="2.9" ry="1.8" opacity="0.91"/><ellipse cx="53.6" cy="63.6" rx="2.5" ry="2.2" opacity="0.87"/><ellipse cx="60.6" cy="63.2" rx="2.4" ry="2.2" opacity="0.76"/><ellipse cx="65.5" cy="62.8" rx="2.4" ry="2.3" opacity="0.79"/><ellipse cx="70.3" cy="64.3" rx="2.7" ry="2.0" opacity="0.99"/><ellipse cx="76.2" cy="62.9" rx="3.0" ry="1.8" opacity="0.99"/><ellipse cx="82.2" cy="63.7" rx="2.9" ry="1.9" opacity="0.82"/><ellipse cx="87.5" cy="63.8" rx="2.7" ry="2.0" opacity="0.88"/><ellipse cx="91.8" cy="64.2" rx="2.3" ry="2.4" opacity="0.89"/><ellipse cx="97.1" cy="62.9" rx="2.7" ry="2.0" opacity="0.81"/><ellipse cx="103.3" cy="63.8" rx="3.1" ry="1.8" opacity="0.92"/><ellipse cx="107.7" cy="63.7" rx="2.7" ry="2.0" opacity="0.81"/><ellipse cx="114.3" cy="62.5" rx="2.3" ry="2.4" opacity="0.75"/><ellipse cx="119.1" cy="63.6" rx="2.4" ry="2.3" opacity="0.81"/><ellipse cx="125.2" cy="63.6" rx="2.5" ry="2.2" opacity="0.82"/><ellipse cx="129.9" cy="63.7" rx="3.0" ry="1.8" opacity="0.89"/><ellipse cx="136.2" cy="63.2" rx="2.8" ry="1.9" opacity="0.94"/><ellipse cx="140.8" cy="64.3" rx="2.3" ry="2.3" opacity="0.88"/><ellipse cx="146.1" cy="64.0" rx="2.3" ry="2.4" opacity="0.79"/><ellipse cx="152.3" cy="63.4" rx="3.0" ry="1.8" opacity="0.90"/><ellipse cx="157.8" cy="63.2" rx="2.7" ry="2.0" opacity="0.90"/><ellipse cx="162.2" cy="64.3" rx="2.9" ry="1.9" opacity="0.90"/><ellipse cx="168.2" cy="63.8" rx="2.3" ry="2.3" opacity="0.79"/><ellipse cx="173.9" cy="62.8" rx="2.2" ry="2.4" opacity="0.84"/><ellipse cx="179.1" cy="63.0" rx="3.0" ry="1.8" opacity="0.86"/><ellipse cx="184.8" cy="63.8" rx="2.5" ry="2.2" opacity="0.90"/><ellipse cx="188.8" cy="63.4" rx="2.9" ry="1.8" opacity="0.88"/><ellipse cx="194.6" cy="64.2" rx="2.5" ry="2.2" opacity="0.82"/><ellipse cx="199.7" cy="63.1" rx="2.4" ry="2.2" opacity="0.76"/><ellipse cx="205.4" cy="64.2" rx="3.0" ry="1.8" opacity="0.78"/><ellipse cx="211.6" cy="63.6" rx="2.4" ry="2.2" opacity="0.84"/><ellipse cx="216.9" cy="63.0" rx="2.8" ry="1.9" opacity="0.93"/><ellipse cx="221.0" cy="64.0" rx="3.0" ry="1.8" opacity="0.80"/><ellipse cx="35.0" cy="67.2" rx="2.8" ry="1.9" opacity="0.85"/><ellipse cx="41.2" cy="68.8" rx="2.9" ry="1.8" opacity="0.87"/><ellipse cx="46.1" cy="68.5" rx="3.1" ry="1.7" opacity="0.81"/><ellipse cx="51.7" cy="68.3" rx="2.1" ry="2.5" opacity="0.78"/><ellipse cx="56.9" cy="68.0" rx="2.7" ry="2.0" opacity="0.84"/><ellipse cx="63.0" cy="68.6" rx="2.8" ry="1.9" opacity="0.86"/><ellipse cx="68.5" cy="68.2" rx="2.8" ry="1.9" opacity="0.85"/><ellipse cx="73.5" cy="68.5" rx="2.5" ry="2.1" opacity="0.89"/><ellipse cx="78.4" cy="68.3" rx="2.1" ry="2.5" opacity="0.94"/><ellipse cx="83.3" cy="67.9" rx="2.2" ry="2.4" opacity="0.90"/><ellipse cx="89.2" cy="67.6" rx="1.9" ry="2.9" opacity="0.77"/><ellipse cx="95.5" cy="68.5" rx="1.9" ry="2.9" opacity="0.75"/><ellipse cx="100.3" cy="67.8" rx="3.0" ry="1.8" opacity="0.88"/><ellipse cx="105.2" cy="68.6" rx="3.1" ry="1.7" opacity="0.90"/><ellipse cx="110.4" cy="67.9" rx="2.6" ry="2.1" opacity="0.85"/><ellipse cx="115.9" cy="68.4" rx="2.4" ry="2.3" opacity="0.81"/><ellipse cx="121.4" cy="67.5" rx="3.0" ry="1.8" opacity="0.90"/><ellipse cx="127.7" cy="67.2" rx="3.1" ry="1.8" opacity="0.84"/><ellipse cx="132.1" cy="68.2" rx="2.3" ry="2.3" opacity="0.93"/><ellipse cx="138.0" cy="67.2" rx="2.9" ry="1.9" opacity="0.80"/><ellipse cx="144.4" cy="68.7" rx="1.9" ry="2.9" opacity="0.82"/><ellipse cx="148.2" cy="68.1" rx="2.2" ry="2.4" opacity="0.77"/><ellipse cx="155.0" cy="68.3" rx="2.7" ry="2.0" opacity="0.92"/><ellipse cx="159.0" cy="67.1" rx="2.0" ry="2.7" opacity="0.87"/><ellipse cx="164.3" cy="68.7" rx="2.5" ry="2.2" opacity="0.76"/><ellipse cx="171.2" cy="67.9" rx="2.4" ry="2.2" opacity="0.77"/><ellipse cx="175.7" cy="67.2" rx="2.4" ry="2.3" opacity="0.79"/><ellipse cx="181.5" cy="68.2" rx="2.3" ry="2.3" opacity="0.91"/><ellipse cx="187.0" cy="68.3" rx="3.0" ry="1.8" opacity="0.95"/><ellipse cx="191.3" cy="67.5" rx="2.6" ry="2.1" opacity="0.87"/><ellipse cx="196.7" cy="67.2" rx="2.4" ry="2.2" opacity="0.89"/><ellipse cx="203.2" cy="68.7" rx="2.2" ry="2.4" opacity="0.88"/><ellipse cx="209.2" cy="68.3" rx="2.4" ry="2.3" opacity="0.88"/><ellipse cx="214.4" cy="67.1" rx="3.1" ry="1.7" opacity="0.87"/><ellipse cx="218.3" cy="67.1" rx="2.1" ry="2.6" opacity="0.80"/><ellipse cx="224.9" cy="67.1" rx="2.1" ry="2.6" opacity="0.86"/><ellipse cx="37.5" cy="73.4" rx="2.3" ry="2.4" opacity="0.81"/><ellipse cx="44.2" cy="73.1" rx="2.6" ry="2.1" opacity="0.85"/><ellipse cx="49.5" cy="71.6" rx="2.9" ry="1.8" opacity="0.80"/><ellipse cx="54.4" cy="72.4" rx="2.8" ry="2.0" opacity="0.84"/><ellipse cx="60.4" cy="72.9" rx="2.9" ry="1.9" opacity="0.85"/><ellipse cx="65.1" cy="72.9" rx="2.5" ry="2.2" opacity="0.81"/><ellipse cx="69.9" cy="72.4" rx="3.1" ry="1.7" opacity="0.96"/><ellipse cx="75.6" cy="72.0" rx="2.5" ry="2.1" opacity="0.84"/><ellipse cx="81.9" cy="73.2" rx="2.3" ry="2.4" opacity="0.88"/><ellipse cx="86.9" cy="73.3" rx="2.7" ry="2.0" opacity="0.83"/><ellipse cx="93.0" cy="72.3" rx="1.8" ry="3.0" opacity="0.85"/><ellipse cx="96.7" cy="72.1" rx="2.4" ry="2.2" opacity="0.94"/><ellipse cx="103.5" cy="72.0" rx="3.0" ry="1.8" opacity="0.80"/><ellipse cx="108.0" cy="73.3" rx="2.8" ry="1.9" opacity="0.86"/><ellipse cx="113.0" cy="71.6" rx="2.3" ry="2.4" opacity="0.76"/><ellipse cx="120.0" cy="72.8" rx="2.3" ry="2.3" opacity="0.87"/><ellipse cx="124.5" cy="72.9" rx="2.5" ry="2.1" opacity="0.94"/><ellipse cx="130.6" cy="73.0" rx="2.3" ry="2.3" opacity="0.90"/><ellipse cx="135.6" cy="72.8" rx="2.3" ry="2.3" opacity="0.82"/><ellipse cx="140.6" cy="72.8" rx="2.4" ry="2.2" opacity="0.79"/><ellipse cx="146.8" cy="71.8" rx="1.9" ry="2.8" opacity="0.80"/><ellipse cx="152.1" cy="72.1" rx="2.3" ry="2.3" opacity="0.84"/><ellipse cx="157.5" cy="72.0" rx="2.7" ry="2.0" opacity="0.83"/><ellipse cx="162.7" cy="72.4" rx="2.8" ry="1.9" opacity="0.79"/><ellipse cx="167.3" cy="71.7" rx="2.6" ry="2.1" opacity="0.76"/><ellipse cx="172.5" cy="71.8" rx="2.4" ry="2.3" opacity="0.77"/><ellipse cx="177.9" cy="71.7" rx="3.0" ry="1.8" opacity="0.86"/><ellipse cx="184.1" cy="73.2" rx="2.4" ry="2.2" opacity="1.00"/><ellipse cx="190.1" cy="72.0" rx="3.1" ry="1.7" opacity="0.86"/><ellipse cx="194.5" cy="72.0" rx="2.3" ry="2.3" opacity="0.83"/><ellipse cx="200.2" cy="71.9" rx="2.0" ry="2.6" opacity="0.84"/><ellipse cx="205.1" cy="72.5" rx="2.3" ry="2.3" opacity="0.85"/><ellipse cx="210.8" cy="73.2" rx="2.8" ry="1.9" opacity="0.82"/><ellipse cx="215.6" cy="72.0" rx="2.4" ry="2.2" opacity="0.86"/><ellipse cx="221.6" cy="72.8" rx="2.4" ry="2.2" opacity="0.90"/><ellipse cx="36.4" cy="77.3" rx="2.4" ry="2.3" opacity="0.88"/><ellipse cx="40.6" cy="76.9" rx="2.2" ry="2.4" opacity="0.90"/><ellipse cx="46.5" cy="76.6" rx="3.0" ry="1.8" opacity="0.92"/><ellipse cx="51.1" cy="76.4" rx="1.8" ry="3.0" opacity="0.89"/><ellipse cx="57.0" cy="76.9" rx="2.9" ry="1.8" opacity="0.86"/><ellipse cx="61.7" cy="77.8" rx="2.4" ry="2.2" opacity="0.75"/><ellipse cx="68.7" cy="77.7" rx="2.9" ry="1.8" opacity="0.86"/><ellipse cx="72.8" cy="77.3" rx="3.1" ry="1.7" opacity="0.94"/><ellipse cx="78.8" cy="76.5" rx="2.5" ry="2.2" opacity="0.83"/><ellipse cx="84.1" cy="77.4" rx="2.7" ry="2.0" opacity="0.86"/><ellipse cx="89.5" cy="77.4" rx="2.3" ry="2.3" opacity="0.85"/><ellipse cx="95.7" cy="76.5" rx="3.0" ry="1.8" opacity="0.93"/><ellipse cx="100.8" cy="76.4" rx="2.6" ry="2.1" opacity="0.86"/><ellipse cx="104.9" cy="77.2" rx="2.6" ry="2.1" opacity="0.93"/><ellipse cx="110.2" cy="77.4" rx="3.0" ry="1.8" opacity="0.82"/><ellipse cx="117.1" cy="77.3" rx="1.8" ry="3.0" opacity="0.85"/><ellipse cx="122.5" cy="77.2" rx="2.7" ry="2.0" opacity="0.90"/><ellipse cx="126.9" cy="76.3" rx="1.8" ry="2.9" opacity="0.82"/><ellipse cx="132.2" cy="76.6" rx="2.3" ry="2.3" opacity="0.96"/><ellipse cx="137.8" cy="77.1" rx="2.6" ry="2.1" opacity="0.82"/><ellipse cx="142.7" cy="76.3" rx="2.7" ry="2.0" opacity="0.76"/><ellipse cx="148.5" cy="77.6" rx="2.1" ry="2.6" opacity="0.82"/><ellipse cx="155.1" cy="77.2" rx="2.9" ry="1.9" opacity="0.83"/><ellipse cx="160.1" cy="76.6" rx="2.4" ry="2.2" opacity="0.97"/><ellipse cx="165.6" cy="76.6" rx="2.0" ry="2.7" opacity="0.87"/><ellipse cx="170.7" cy="76.6" rx="2.6" ry="2.0" opacity="0.81"/><ellipse cx="175.1" cy="77.5" rx="2.7" ry="2.0" opacity="0.79"/><ellipse cx="181.5" cy="77.8" rx="2.8" ry="1.9" opacity="0.83"/><ellipse cx="186.1" cy="76.6" rx="3.0" ry="1.8" opacity="0.95"/><ellipse cx="192.5" cy="76.3" rx="2.2" ry="2.4" opacity="0.79"/><ellipse cx="196.9" cy="77.8" rx="2.3" ry="2.4" opacity="0.82"/><ellipse cx="202.9" cy="77.1" rx="2.6" ry="2.0" opacity="0.86"/><ellipse cx="208.3" cy="76.6" rx="2.5" ry="2.1" opacity="0.84"/><ellipse cx="213.6" cy="77.8" rx="2.4" ry="2.2" opacity="0.95"/><ellipse cx="220.0" cy="77.8" rx="2.8" ry="1.9" opacity="0.86"/><ellipse cx="224.4" cy="76.3" rx="1.8" ry="3.0" opacity="0.77"/><ellipse cx="37.8" cy="82.1" rx="2.4" ry="2.2" opacity="0.80"/><ellipse cx="43.7" cy="82.2" rx="3.0" ry="1.8" opacity="0.86"/><ellipse cx="49.8" cy="80.9" rx="3.1" ry="1.7" opacity="0.95"/><ellipse cx="54.0" cy="81.5" rx="2.3" ry="2.3" opacity="0.91"/><ellipse cx="59.5" cy="81.1" rx="1.8" ry="3.0" opacity="0.82"/><ellipse cx="65.8" cy="81.3" rx="2.2" ry="2.5" opacity="0.85"/><ellipse cx="70.7" cy="80.7" rx="3.1" ry="1.7" opacity="0.87"/><ellipse cx="75.6" cy="81.4" rx="2.7" ry="2.0" opacity="0.84"/><ellipse cx="81.6" cy="82.3" rx="3.0" ry="1.8" opacity="0.78"/><ellipse cx="87.7" cy="82.0" rx="2.4" ry="2.2" opacity="0.87"/><ellipse cx="92.3" cy="81.3" rx="2.9" ry="1.9" opacity="0.83"/><ellipse cx="98.3" cy="81.0" rx="2.9" ry="1.9" opacity="0.97"/><ellipse cx="102.9" cy="81.3" rx="3.1" ry="1.7" opacity="1.00"/><ellipse cx="108.1" cy="80.7" rx="2.4" ry="2.3" opacity="0.86"/><ellipse cx="113.6" cy="82.1" rx="2.7" ry="2.0" opacity="0.81"/><ellipse cx="119.1" cy="82.3" rx="2.9" ry="1.8" opacity="0.79"/><ellipse cx="123.9" cy="81.8" rx="2.7" ry="2.0" opacity="0.84"/><ellipse cx="129.8" cy="81.4" rx="2.5" ry="2.2" opacity="0.90"/><ellipse cx="135.8" cy="81.5" rx="2.9" ry="1.8" opacity="0.84"/><ellipse cx="141.3" cy="81.1" rx="2.6" ry="2.1" opacity="0.89"/><ellipse cx="145.8" cy="81.3" rx="2.7" ry="2.0" opacity="0.79"/><ellipse cx="151.9" cy="81.0" rx="2.7" ry="2.0" opacity="0.98"/><ellipse cx="157.5" cy="82.3" rx="2.5" ry="2.1" opacity="1.00"/><ellipse cx="163.2" cy="81.6" rx="2.4" ry="2.3" opacity="0.94"/><ellipse cx="167.4" cy="81.2" rx="2.1" ry="2.6" opacity="0.85"/><ellipse cx="173.6" cy="81.1" rx="2.3" ry="2.3" opacity="0.82"/><ellipse cx="179.3" cy="81.1" rx="2.8" ry="1.9" opacity="0.86"/><ellipse cx="184.8" cy="80.8" rx="2.4" ry="2.2" opacity="0.86"/><ellipse cx="189.3" cy="81.8" rx="3.0" ry="1.8" opacity="0.83"/><ellipse cx="194.3" cy="81.0" rx="2.2" ry="2.5" opacity="0.83"/><ellipse cx="199.7" cy="80.9" rx="2.0" ry="2.6" opacity="0.79"/><ellipse cx="205.6" cy="81.5" rx="3.0" ry="1.8" opacity="0.88"/><ellipse cx="210.4" cy="80.8" rx="2.7" ry="2.0" opacity="1.00"/><ellipse cx="216.2" cy="81.0" rx="2.3" ry="2.3" opacity="0.97"/><ellipse cx="222.6" cy="81.4" rx="2.7" ry="2.0" opacity="0.84"/><ellipse cx="35.9" cy="87.0" rx="2.9" ry="1.9" opacity="0.81"/><ellipse cx="41.1" cy="86.5" rx="2.7" ry="2.0" opacity="0.96"/><ellipse cx="46.8" cy="85.3" rx="2.8" ry="1.9" opacity="0.93"/><ellipse cx="52.5" cy="86.4" rx="2.6" ry="2.1" opacity="0.87"/><ellipse cx="56.9" cy="85.9" rx="2.4" ry="2.2" opacity="0.85"/><ellipse cx="61.6" cy="85.6" rx="2.3" ry="2.3" opacity="0.86"/><ellipse cx="68.3" cy="86.9" rx="1.8" ry="3.0" opacity="0.84"/><ellipse cx="73.7" cy="86.8" rx="3.1" ry="1.7" opacity="0.80"/><ellipse cx="78.9" cy="87.0" rx="2.3" ry="2.4" opacity="0.77"/><ellipse cx="84.5" cy="86.4" rx="2.3" ry="2.3" opacity="0.76"/><ellipse cx="89.8" cy="87.0" rx="2.6" ry="2.1" opacity="0.90"/><ellipse cx="95.8" cy="86.5" rx="2.3" ry="2.3" opacity="0.82"/><ellipse cx="100.7" cy="85.4" rx="2.3" ry="2.3" opacity="0.97"/><ellipse cx="106.4" cy="86.3" rx="3.1" ry="1.7" opacity="0.90"/><ellipse cx="110.5" cy="85.9" rx="2.9" ry="1.9" opacity="0.78"/><ellipse cx="116.5" cy="85.3" rx="2.8" ry="1.9" opacity="0.81"/><ellipse cx="122.3" cy="86.0" rx="3.0" ry="1.8" opacity="0.89"/><ellipse cx="128.0" cy="86.7" rx="3.2" ry="1.7" opacity="0.91"/><ellipse cx="132.9" cy="85.5" rx="2.6" ry="2.1" opacity="0.86"/><ellipse cx="137.5" cy="86.6" rx="2.7" ry="2.0" opacity="0.88"/><ellipse cx="142.8" cy="85.7" rx="2.6" ry="2.1" opacity="0.87"/><ellipse cx="148.2" cy="86.1" rx="2.8" ry="2.0" opacity="0.82"/><ellipse cx="154.1" cy="86.9" rx="2.7" ry="2.0" opacity="1.00"/><ellipse cx="160.4" cy="86.0" rx="2.4" ry="2.2" opacity="0.96"/><ellipse cx="166.0" cy="86.2" rx="2.8" ry="1.9" opacity="0.83"/><ellipse cx="170.0" cy="86.7" rx="2.3" ry="2.4" opacity="0.82"/><ellipse cx="176.6" cy="85.3" rx="2.8" ry="1.9" opacity="0.81"/><ellipse cx="181.0" cy="86.9" rx="3.0" ry="1.8" opacity="0.79"/><ellipse cx="186.1" cy="86.2" rx="3.2" ry="1.7" opacity="0.81"/><ellipse cx="192.6" cy="85.7" rx="3.0" ry="1.8" opacity="0.79"/><ellipse cx="198.3" cy="86.6" rx="2.9" ry="1.9" opacity="0.82"/><ellipse cx="202.2" cy="86.9" rx="1.9" ry="2.8" opacity="0.87"/><ellipse cx="209.1" cy="85.5" rx="2.6" ry="2.1" opacity="0.91"/><ellipse cx="213.3" cy="85.9" rx="2.9" ry="1.9" opacity="0.99"/><ellipse cx="220.0" cy="85.5" rx="2.6" ry="2.1" opacity="0.98"/><ellipse cx="223.8" cy="85.8" rx="3.0" ry="1.8" opacity="0.86"/><ellipse cx="38.3" cy="91.4" rx="2.7" ry="2.0" opacity="0.83"/><ellipse cx="44.4" cy="90.2" rx="2.3" ry="2.3" opacity="0.86"/><ellipse cx="49.6" cy="91.0" rx="3.2" ry="1.7" opacity="0.97"/><ellipse cx="54.3" cy="91.5" rx="2.2" ry="2.5" opacity="0.85"/><ellipse cx="58.9" cy="90.2" rx="2.3" ry="2.4" opacity="0.87"/><ellipse cx="64.9" cy="91.5" rx="2.2" ry="2.4" opacity="0.86"/><ellipse cx="70.2" cy="90.1" rx="3.1" ry="1.7" opacity="0.90"/><ellipse cx="75.4" cy="91.1" rx="3.1" ry="1.7" opacity="0.87"/><ellipse cx="81.6" cy="91.2" rx="2.7" ry="2.0" opacity="0.84"/><ellipse cx="86.0" cy="90.6" rx="2.4" ry="2.2" opacity="0.86"/><ellipse cx="92.0" cy="90.4" rx="2.8" ry="1.9" opacity="0.80"/><ellipse cx="97.5" cy="90.7" rx="2.4" ry="2.2" opacity="0.92"/><ellipse cx="103.3" cy="90.6" rx="3.2" ry="1.7" opacity="0.91"/><ellipse cx="109.1" cy="91.1" rx="2.4" ry="2.2" opacity="0.81"/><ellipse cx="114.4" cy="91.0" rx="2.2" ry="2.4" opacity="0.84"/><ellipse cx="119.6" cy="90.7" rx="2.6" ry="2.1" opacity="0.85"/><ellipse cx="124.1" cy="90.5" rx="2.8" ry="1.9" opacity="0.79"/><ellipse cx="129.7" cy="90.3" rx="2.7" ry="2.0" opacity="0.86"/><ellipse cx="135.5" cy="91.6" rx="2.7" ry="2.0" opacity="0.81"/><ellipse cx="140.2" cy="91.0" rx="2.4" ry="2.2" opacity="0.87"/><ellipse cx="146.2" cy="90.0" rx="2.7" ry="2.0" opacity="0.86"/><ellipse cx="150.9" cy="90.4" rx="2.8" ry="1.9" opacity="0.87"/><ellipse cx="156.6" cy="91.6" rx="2.4" ry="2.2" opacity="0.83"/><ellipse cx="163.1" cy="90.9" rx="2.9" ry="1.9" opacity="0.93"/><ellipse cx="167.0" cy="90.4" rx="2.5" ry="2.2" opacity="0.92"/><ellipse cx="174.0" cy="91.0" rx="2.4" ry="2.3" opacity="0.83"/><ellipse cx="178.6" cy="90.4" rx="2.7" ry="2.0" opacity="0.84"/><ellipse cx="183.9" cy="91.0" rx="2.6" ry="2.1" opacity="0.89"/><ellipse cx="188.9" cy="91.5" rx="2.6" ry="2.1" opacity="0.86"/><ellipse cx="195.2" cy="90.2" rx="2.5" ry="2.2" opacity="0.81"/><ellipse cx="200.7" cy="91.1" rx="2.8" ry="1.9" opacity="0.78"/><ellipse cx="205.9" cy="90.9" rx="2.2" ry="2.4" opacity="0.81"/><ellipse cx="210.2" cy="91.5" rx="3.1" ry="1.7" opacity="0.93"/><ellipse cx="216.9" cy="91.1" rx="2.6" ry="2.1" opacity="0.88"/><ellipse cx="222.5" cy="90.6" rx="3.0" ry="1.8" opacity="0.82"/><ellipse cx="34.9" cy="94.9" rx="2.5" ry="2.2" opacity="0.87"/><ellipse cx="41.4" cy="95.0" rx="2.6" ry="2.0" opacity="0.91"/><ellipse cx="46.1" cy="95.0" rx="3.0" ry="1.8" opacity="0.85"/><ellipse cx="50.8" cy="95.6" rx="2.4" ry="2.2" opacity="0.81"/><ellipse cx="57.8" cy="94.8" rx="2.2" ry="2.5" opacity="0.83"/><ellipse cx="62.2" cy="95.5" rx="2.4" ry="2.3" opacity="0.84"/><ellipse cx="67.6" cy="95.1" rx="2.3" ry="2.3" opacity="0.94"/><ellipse cx="73.5" cy="95.0" rx="3.1" ry="1.7" opacity="0.95"/><ellipse cx="77.9" cy="95.0" rx="2.9" ry="1.8" opacity="0.91"/><ellipse cx="83.4" cy="94.8" rx="1.8" ry="3.0" opacity="0.84"/><ellipse cx="89.4" cy="94.7" rx="2.3" ry="2.4" opacity="0.75"/><ellipse cx="94.8" cy="95.3" rx="2.7" ry="2.0" opacity="0.86"/><ellipse cx="100.1" cy="95.9" rx="2.7" ry="2.0" opacity="0.93"/><ellipse cx="105.0" cy="96.1" rx="2.9" ry="1.9" opacity="0.80"/><ellipse cx="110.8" cy="94.9" rx="2.6" ry="2.1" opacity="0.80"/><ellipse cx="116.2" cy="95.1" rx="2.8" ry="2.0" opacity="0.85"/><ellipse cx="121.8" cy="95.8" rx="2.2" ry="2.4" opacity="0.89"/><ellipse cx="127.3" cy="95.2" rx="2.9" ry="1.9" opacity="0.85"/><ellipse cx="132.9" cy="94.7" rx="2.8" ry="1.9" opacity="0.89"/><ellipse cx="137.8" cy="95.6" rx="2.9" ry="1.9" opacity="0.88"/><ellipse cx="143.6" cy="95.7" rx="3.0" ry="1.8" opacity="0.81"/><ellipse cx="149.2" cy="94.5" rx="3.0" ry="1.8" opacity="0.75"/><ellipse cx="154.7" cy="94.8" rx="3.0" ry="1.8" opacity="0.82"/><ellipse cx="158.8" cy="96.0" rx="3.0" ry="1.8" opacity="0.92"/><ellipse cx="164.8" cy="94.4" rx="2.3" ry="2.4" opacity="0.77"/><ellipse cx="169.8" cy="94.6" rx="3.0" ry="1.8" opacity="0.78"/><ellipse cx="176.6" cy="96.1" rx="2.4" ry="2.2" opacity="0.89"/><ellipse cx="180.6" cy="96.0" rx="3.0" ry="1.8" opacity="0.92"/><ellipse cx="186.6" cy="94.7" rx="3.0" ry="1.8" opacity="0.92"/><ellipse cx="191.6" cy="94.7" rx="2.7" ry="2.0" opacity="0.88"/><ellipse cx="198.2" cy="95.0" rx="2.8" ry="1.9" opacity="0.80"/><ellipse cx="202.7" cy="95.3" rx="2.6" ry="2.1" opacity="0.88"/><ellipse cx="208.0" cy="95.8" rx="2.8" ry="1.9" opacity="0.81"/><ellipse cx="213.5" cy="95.4" rx="2.3" ry="2.3" opacity="0.86"/><ellipse cx="219.3" cy="95.5" rx="2.5" ry="2.1" opacity="0.89"/><ellipse cx="224.4" cy="95.6" rx="2.3" ry="2.4" opacity="0.77"/><ellipse cx="38.2" cy="99.2" rx="2.1" ry="2.5" opacity="0.88"/><ellipse cx="43.6" cy="99.9" rx="1.8" ry="3.1" opacity="0.86"/><ellipse cx="49.5" cy="99.9" rx="3.0" ry="1.8" opacity="0.81"/><ellipse cx="54.8" cy="99.3" rx="2.5" ry="2.1" opacity="0.84"/><ellipse cx="59.2" cy="99.9" rx="2.9" ry="1.9" opacity="0.76"/><ellipse cx="64.4" cy="99.3" rx="2.3" ry="2.4" opacity="0.81"/><ellipse cx="70.2" cy="99.4" rx="3.0" ry="1.8" opacity="0.91"/><ellipse cx="75.7" cy="99.1" rx="3.2" ry="1.7" opacity="1.00"/><ellipse cx="82.2" cy="99.6" rx="3.0" ry="1.8" opacity="0.80"/><ellipse cx="86.7" cy="99.7" rx="2.1" ry="2.6" opacity="0.88"/><ellipse cx="92.5" cy="99.9" rx="2.4" ry="2.2" opacity="0.82"/><ellipse cx="98.3" cy="99.0" rx="1.7" ry="3.1" opacity="0.90"/><ellipse cx="102.9" cy="99.1" rx="3.0" ry="1.8" opacity="0.89"/><ellipse cx="107.5" cy="99.7" rx="2.1" ry="2.5" opacity="0.84"/><ellipse cx="113.5" cy="99.9" rx="1.9" ry="2.8" opacity="0.76"/><ellipse cx="120.0" cy="98.9" rx="2.3" ry="2.3" opacity="0.83"/><ellipse cx="124.6" cy="99.6" rx="2.5" ry="2.1" opacity="0.89"/><ellipse cx="130.8" cy="99.5" rx="2.7" ry="2.0" opacity="1.00"/><ellipse cx="135.3" cy="100.5" rx="2.9" ry="1.9" opacity="0.88"/><ellipse cx="141.6" cy="100.5" rx="2.1" ry="2.6" opacity="0.85"/><ellipse cx="146.4" cy="100.2" rx="2.3" ry="2.4" opacity="0.88"/><ellipse cx="150.9" cy="99.8" rx="2.2" ry="2.4" opacity="0.77"/><ellipse cx="156.3" cy="99.3" rx="3.1" ry="1.7" opacity="0.81"/><ellipse cx="162.0" cy="99.3" rx="2.9" ry="1.8" opacity="0.77"/><ellipse cx="168.6" cy="99.6" rx="2.4" ry="2.3" opacity="0.87"/><ellipse cx="172.8" cy="99.8" rx="2.4" ry="2.2" opacity="0.81"/><ellipse cx="178.2" cy="99.4" rx="2.9" ry="1.9" opacity="0.82"/><ellipse cx="183.5" cy="99.1" rx="3.0" ry="1.8" opacity="0.94"/><ellipse cx="190.3" cy="100.5" rx="2.5" ry="2.1" opacity="1.00"/><ellipse cx="195.1" cy="100.4" rx="1.8" ry="2.9" opacity="0.80"/><ellipse cx="199.8" cy="100.0" rx="1.9" ry="2.8" opacity="0.81"/><ellipse cx="205.9" cy="99.1" rx="1.9" ry="2.8" opacity="0.84"/><ellipse cx="210.9" cy="99.6" rx="2.9" ry="1.9" opacity="0.89"/><ellipse cx="217.2" cy="100.6" rx="2.7" ry="2.0" opacity="0.93"/><ellipse cx="222.6" cy="100.4" rx="2.9" ry="1.9" opacity="0.78"/><ellipse cx="35.2" cy="104.1" rx="2.9" ry="1.9" opacity="0.87"/><ellipse cx="40.4" cy="104.1" rx="2.9" ry="1.9" opacity="0.79"/><ellipse cx="46.9" cy="104.0" rx="2.6" ry="2.1" opacity="0.85"/><ellipse cx="50.8" cy="105.0" rx="3.0" ry="1.8" opacity="0.77"/><ellipse cx="56.7" cy="103.5" rx="2.7" ry="2.0" opacity="0.85"/><ellipse cx="62.3" cy="105.2" rx="1.9" ry="2.9" opacity="0.78"/><ellipse cx="68.3" cy="104.9" rx="2.9" ry="1.8" opacity="0.90"/><ellipse cx="72.7" cy="104.7" rx="2.9" ry="1.8" opacity="0.98"/><ellipse cx="78.4" cy="105.1" rx="2.6" ry="2.1" opacity="0.83"/><ellipse cx="84.9" cy="104.6" rx="2.8" ry="1.9" opacity="0.91"/><ellipse cx="88.8" cy="104.6" rx="2.8" ry="1.9" opacity="0.78"/><ellipse cx="94.2" cy="103.7" rx="3.0" ry="1.8" opacity="0.81"/><ellipse cx="100.2" cy="104.9" rx="3.2" ry="1.7" opacity="0.83"/><ellipse cx="104.9" cy="104.3" rx="2.7" ry="2.0" opacity="0.85"/><ellipse cx="111.3" cy="103.9" rx="2.5" ry="2.1" opacity="0.82"/><ellipse cx="116.5" cy="104.0" rx="2.4" ry="2.3" opacity="0.90"/><ellipse cx="121.8" cy="105.0" rx="2.9" ry="1.9" opacity="0.94"/><ellipse cx="126.9" cy="104.6" rx="2.7" ry="2.0" opacity="0.91"/><ellipse cx="133.2" cy="104.5" rx="3.1" ry="1.7" opacity="0.92"/><ellipse cx="138.4" cy="103.9" rx="2.9" ry="1.8" opacity="0.92"/><ellipse cx="144.0" cy="104.6" rx="3.0" ry="1.8" opacity="0.83"/><ellipse cx="149.6" cy="104.5" rx="2.6" ry="2.1" opacity="0.75"/><ellipse cx="154.7" cy="105.2" rx="2.8" ry="1.9" opacity="0.86"/><ellipse cx="159.4" cy="105.0" rx="2.3" ry="2.3" opacity="0.91"/><ellipse cx="164.6" cy="104.7" rx="2.5" ry="2.2" opacity="0.85"/><ellipse cx="170.0" cy="104.4" rx="1.9" ry="2.9" opacity="0.79"/><ellipse cx="176.0" cy="104.8" rx="2.4" ry="2.2" opacity="0.78"/><ellipse cx="182.1" cy="103.7" rx="2.7" ry="2.0" opacity="0.90"/><ellipse cx="186.0" cy="104.0" rx="2.4" ry="2.2" opacity="0.95"/><ellipse cx="192.7" cy="103.8" rx="2.2" ry="2.4" opacity="0.95"/><ellipse cx="198.0" cy="104.8" rx="3.0" ry="1.8" opacity="0.89"/><ellipse cx="203.2" cy="104.7" rx="2.2" ry="2.4" opacity="0.83"/><ellipse cx="208.4" cy="103.7" rx="2.4" ry="2.2" opacity="0.91"/><ellipse cx="214.2" cy="104.0" rx="3.0" ry="1.8" opacity="0.84"/><ellipse cx="218.8" cy="105.0" rx="2.9" ry="1.9" opacity="0.78"/><ellipse cx="224.8" cy="103.6" rx="2.9" ry="1.8" opacity="0.84"/><ellipse cx="37.7" cy="109.4" rx="2.7" ry="2.0" opacity="0.90"/><ellipse cx="43.2" cy="109.3" rx="2.6" ry="2.1" opacity="0.87"/><ellipse cx="49.8" cy="109.7" rx="3.1" ry="1.8" opacity="0.91"/><ellipse cx="54.9" cy="108.3" rx="2.6" ry="2.1" opacity="0.92"/><ellipse cx="59.1" cy="109.1" rx="2.8" ry="2.0" opacity="0.89"/><ellipse cx="65.1" cy="109.6" rx="2.6" ry="2.1" opacity="0.90"/><ellipse cx="71.3" cy="108.7" rx="3.0" ry="1.8" opacity="0.82"/><ellipse cx="75.8" cy="109.5" rx="2.8" ry="1.9" opacity="0.92"/><ellipse cx="80.7" cy="109.8" rx="2.6" ry="2.1" opacity="0.82"/><ellipse cx="87.5" cy="109.7" rx="2.4" ry="2.3" opacity="0.80"/><ellipse cx="92.2" cy="109.0" rx="2.6" ry="2.1" opacity="0.91"/><ellipse cx="97.8" cy="109.0" rx="2.5" ry="2.1" opacity="0.85"/><ellipse cx="102.5" cy="108.1" rx="3.0" ry="1.8" opacity="0.87"/><ellipse cx="108.5" cy="109.0" rx="2.8" ry="1.9" opacity="0.79"/><ellipse cx="113.6" cy="109.7" rx="2.2" ry="2.4" opacity="0.80"/><ellipse cx="119.5" cy="108.4" rx="2.2" ry="2.4" opacity="0.82"/><ellipse cx="124.8" cy="108.5" rx="2.4" ry="2.2" opacity="0.82"/><ellipse cx="130.6" cy="108.8" rx="3.1" ry="1.7" opacity="0.88"/><ellipse cx="134.8" cy="109.8" rx="2.8" ry="1.9" opacity="0.87"/><ellipse cx="139.9" cy="108.8" rx="2.8" ry="1.9" opacity="0.87"/><ellipse cx="146.6" cy="108.6" rx="2.9" ry="1.9" opacity="0.84"/><ellipse cx="152.3" cy="108.1" rx="2.9" ry="1.9" opacity="0.85"/><ellipse cx="157.5" cy="108.9" rx="2.5" ry="2.1" opacity="0.94"/><ellipse cx="162.9" cy="109.1" rx="2.9" ry="1.9" opacity="0.92"/><ellipse cx="167.3" cy="108.6" rx="2.5" ry="2.2" opacity="0.77"/><ellipse cx="173.3" cy="108.3" rx="1.9" ry="2.8" opacity="0.76"/><ellipse cx="177.9" cy="108.5" rx="2.9" ry="1.8" opacity="0.81"/><ellipse cx="183.6" cy="109.3" rx="2.6" ry="2.1" opacity="0.91"/><ellipse cx="189.1" cy="108.4" rx="2.3" ry="2.3" opacity="0.94"/><ellipse cx="194.4" cy="108.4" rx="2.3" ry="2.3" opacity="0.81"/><ellipse cx="199.8" cy="109.0" rx="2.6" ry="2.0" opacity="0.79"/><ellipse cx="206.0" cy="108.6" rx="2.7" ry="2.0" opacity="0.90"/><ellipse cx="211.2" cy="108.2" rx="2.3" ry="2.3" opacity="0.98"/><ellipse cx="216.1" cy="108.9" rx="2.9" ry="1.9" opacity="0.86"/><ellipse cx="221.0" cy="108.5" rx="2.0" ry="2.7" opacity="0.79"/><ellipse cx="36.0" cy="112.7" rx="2.3" ry="2.3" opacity="0.90"/><ellipse cx="40.6" cy="113.3" rx="3.1" ry="1.8" opacity="0.90"/><ellipse cx="45.6" cy="114.1" rx="2.9" ry="1.9" opacity="1.00"/><ellipse cx="52.1" cy="113.1" rx="1.9" ry="2.9" opacity="0.89"/><ellipse cx="57.0" cy="114.0" rx="2.2" ry="2.5" opacity="0.84"/><ellipse cx="62.4" cy="114.3" rx="2.2" ry="2.4" opacity="0.89"/><ellipse cx="68.7" cy="113.3" rx="2.2" ry="2.5" opacity="0.88"/><ellipse cx="72.6" cy="114.3" rx="2.5" ry="2.2" opacity="0.83"/><ellipse cx="79.0" cy="113.6" rx="1.8" ry="3.1" opacity="0.83"/><ellipse cx="84.0" cy="112.7" rx="3.0" ry="1.8" opacity="0.75"/><ellipse cx="89.9" cy="112.6" rx="2.1" ry="2.6" opacity="0.83"/><ellipse cx="94.9" cy="114.0" rx="2.6" ry="2.1" opacity="0.92"/><ellipse cx="100.4" cy="114.2" rx="3.2" ry="1.7" opacity="0.94"/><ellipse cx="105.0" cy="113.3" rx="2.7" ry="2.0" opacity="0.96"/><ellipse cx="110.7" cy="113.9" rx="2.7" ry="2.0" opacity="0.86"/><ellipse cx="117.0" cy="114.3" rx="2.3" ry="2.4" opacity="0.77"/><ellipse cx="122.3" cy="113.7" rx="2.7" ry="2.0" opacity="0.82"/><ellipse cx="127.6" cy="113.7" rx="3.0" ry="1.8" opacity="0.86"/><ellipse cx="132.6" cy="113.6" rx="2.7" ry="2.0" opacity="0.84"/><ellipse cx="138.5" cy="113.3" rx="2.5" ry="2.1" opacity="0.83"/><ellipse cx="142.6" cy="114.1" rx="2.6" ry="2.1" opacity="0.79"/><ellipse cx="148.1" cy="114.2" rx="2.4" ry="2.2" opacity="0.82"/><ellipse cx="154.8" cy="113.4" rx="3.0" ry="1.8" opacity="0.87"/><ellipse cx="160.6" cy="113.8" rx="2.4" ry="2.3" opacity="0.88"/><ellipse cx="165.1" cy="114.2" rx="2.3" ry="2.4" opacity="0.91"/><ellipse cx="170.9" cy="112.8" rx="2.7" ry="2.0" opacity="0.80"/><ellipse cx="175.8" cy="114.0" rx="2.5" ry="2.2" opacity="0.85"/><ellipse cx="180.6" cy="113.3" rx="2.1" ry="2.6" opacity="0.87"/><ellipse cx="186.4" cy="113.7" rx="2.6" ry="2.1" opacity="0.87"/><ellipse cx="191.7" cy="113.3" rx="2.4" ry="2.2" opacity="0.78"/><ellipse cx="197.0" cy="113.1" rx="2.5" ry="2.1" opacity="0.85"/><ellipse cx="202.8" cy="114.2" rx="2.6" ry="2.0" opacity="0.91"/><ellipse cx="209.0" cy="113.2" rx="2.7" ry="2.0" opacity="0.90"/><ellipse cx="213.8" cy="112.6" rx="2.4" ry="2.2" opacity="0.94"/><ellipse cx="218.8" cy="113.0" rx="2.6" ry="2.1" opacity="0.86"/><ellipse cx="224.8" cy="112.8" rx="2.4" ry="2.2" opacity="0.78"/><ellipse cx="38.8" cy="118.2" rx="3.0" ry="1.8" opacity="0.83"/><ellipse cx="43.3" cy="117.2" rx="3.1" ry="1.8" opacity="0.92"/><ellipse cx="48.6" cy="117.3" rx="3.1" ry="1.7" opacity="0.96"/><ellipse cx="53.7" cy="118.9" rx="2.1" ry="2.5" opacity="0.87"/><ellipse cx="59.2" cy="118.2" rx="2.3" ry="2.3" opacity="0.83"/><ellipse cx="64.5" cy="117.4" rx="2.6" ry="2.1" opacity="0.82"/><ellipse cx="71.0" cy="118.7" rx="1.8" ry="3.0" opacity="0.78"/><ellipse cx="75.7" cy="117.4" rx="2.4" ry="2.2" opacity="0.91"/><ellipse cx="81.7" cy="118.5" rx="2.8" ry="1.9" opacity="0.77"/><ellipse cx="86.1" cy="117.4" rx="2.5" ry="2.1" opacity="0.76"/><ellipse cx="92.3" cy="117.8" rx="2.5" ry="2.2" opacity="0.79"/><ellipse cx="98.3" cy="118.8" rx="2.9" ry="1.8" opacity="0.93"/><ellipse cx="103.7" cy="117.7" rx="2.4" ry="2.2" opacity="0.94"/><ellipse cx="108.1" cy="117.4" rx="2.5" ry="2.1" opacity="0.93"/><ellipse cx="114.4" cy="117.7" rx="2.8" ry="1.9" opacity="0.83"/><ellipse cx="118.9" cy="118.3" rx="2.8" ry="1.9" opacity="0.87"/><ellipse cx="125.1" cy="117.6" rx="1.8" ry="3.1" opacity="0.79"/><ellipse cx="130.6" cy="118.1" rx="2.7" ry="2.0" opacity="0.87"/><ellipse cx="134.7" cy="118.3" rx="2.8" ry="1.9" opacity="0.89"/><ellipse cx="141.3" cy="117.4" rx="2.3" ry="2.3" opacity="0.86"/><ellipse cx="146.2" cy="117.6" rx="2.8" ry="1.9" opacity="0.88"/><ellipse cx="151.4" cy="118.7" rx="2.7" ry="2.0" opacity="0.89"/><ellipse cx="157.7" cy="118.4" rx="2.5" ry="2.2" opacity="1.00"/><ellipse cx="163.3" cy="118.3" rx="2.3" ry="2.3" opacity="0.83"/><ellipse cx="167.5" cy="117.6" rx="2.9" ry="1.8" opacity="0.78"/><ellipse cx="173.3" cy="117.9" rx="2.5" ry="2.2" opacity="0.83"/><ellipse cx="179.4" cy="118.4" rx="2.3" ry="2.3" opacity="0.76"/><ellipse cx="183.3" cy="117.9" rx="3.2" ry="1.7" opacity="0.92"/><ellipse cx="188.6" cy="118.1" rx="2.8" ry="1.9" opacity="0.88"/><ellipse cx="195.2" cy="117.9" rx="2.2" ry="2.4" opacity="0.78"/><ellipse cx="200.4" cy="117.4" rx="2.9" ry="1.9" opacity="0.88"/><ellipse cx="206.0" cy="118.9" rx="2.5" ry="2.1" opacity="0.78"/><ellipse cx="211.2" cy="117.3" rx="3.1" ry="1.7" opacity="0.92"/><ellipse cx="216.6" cy="118.6" rx="3.0" ry="1.8" opacity="0.92"/><ellipse cx="222.7" cy="118.1" rx="2.2" ry="2.4" opacity="0.85"/><ellipse cx="35.6" cy="123.3" rx="2.4" ry="2.2" opacity="0.90"/><ellipse cx="40.5" cy="122.3" rx="2.9" ry="1.9" opacity="0.84"/><ellipse cx="46.7" cy="122.3" rx="3.2" ry="1.7" opacity="0.84"/><ellipse cx="51.6" cy="123.1" rx="2.7" ry="2.0" opacity="0.96"/><ellipse cx="57.4" cy="123.2" rx="1.9" ry="2.9" opacity="0.84"/><ellipse cx="62.6" cy="121.9" rx="2.3" ry="2.3" opacity="0.82"/><ellipse cx="68.1" cy="122.4" rx="2.8" ry="1.9" opacity="0.78"/><ellipse cx="72.9" cy="123.1" rx="2.5" ry="2.1" opacity="0.96"/><ellipse cx="77.8" cy="122.4" rx="3.1" ry="1.7" opacity="0.87"/><ellipse cx="83.6" cy="122.4" rx="2.5" ry="2.2" opacity="0.80"/><ellipse cx="88.9" cy="122.4" rx="1.9" ry="2.9" opacity="0.80"/><ellipse cx="94.2" cy="122.8" rx="2.3" ry="2.3" opacity="0.92"/><ellipse cx="100.5" cy="123.0" rx="3.0" ry="1.8" opacity="0.91"/><ellipse cx="105.8" cy="123.3" rx="2.6" ry="2.1" opacity="0.92"/><ellipse cx="111.4" cy="123.4" rx="2.6" ry="2.1" opacity="0.91"/><ellipse cx="117.4" cy="121.8" rx="2.8" ry="1.9" opacity="0.82"/><ellipse cx="122.7" cy="122.9" rx="2.2" ry="2.4" opacity="0.76"/><ellipse cx="126.4" cy="122.6" rx="3.1" ry="1.8" opacity="0.84"/><ellipse cx="132.8" cy="122.1" rx="2.5" ry="2.1" opacity="0.81"/><ellipse cx="138.8" cy="122.6" rx="2.7" ry="2.0" opacity="0.80"/><ellipse cx="142.8" cy="123.1" rx="2.6" ry="2.1" opacity="0.82"/><ellipse cx="149.8" cy="123.3" rx="1.9" ry="2.8" opacity="0.89"/><ellipse cx="154.5" cy="122.2" rx="1.9" ry="2.8" opacity="0.95"/><ellipse cx="160.6" cy="123.3" rx="2.7" ry="2.0" opacity="0.85"/><ellipse cx="165.6" cy="121.9" rx="2.9" ry="1.8" opacity="0.78"/><ellipse cx="170.5" cy="122.1" rx="2.2" ry="2.5" opacity="0.77"/><ellipse cx="176.8" cy="122.4" rx="2.7" ry="2.0" opacity="0.87"/><ellipse cx="180.5" cy="123.0" rx="2.6" ry="2.1" opacity="0.83"/><ellipse cx="185.9" cy="122.4" rx="2.8" ry="1.9" opacity="0.96"/><ellipse cx="191.9" cy="123.0" rx="2.5" ry="2.2" opacity="0.92"/><ellipse cx="197.6" cy="121.8" rx="2.4" ry="2.3" opacity="0.79"/><ellipse cx="203.3" cy="123.0" rx="2.8" ry="1.9" opacity="0.79"/><ellipse cx="208.5" cy="122.1" rx="2.5" ry="2.2" opacity="0.86"/><ellipse cx="213.1" cy="122.1" rx="2.6" ry="2.0" opacity="0.85"/><ellipse cx="219.3" cy="122.7" rx="2.2" ry="2.4" opacity="0.87"/><ellipse cx="224.0" cy="122.8" rx="2.1" ry="2.6" opacity="0.75"/><ellipse cx="37.8" cy="126.9" rx="2.4" ry="2.2" opacity="0.75"/><ellipse cx="43.3" cy="126.9" rx="2.3" ry="2.3" opacity="0.84"/><ellipse cx="48.5" cy="127.8" rx="3.0" ry="1.8" opacity="0.82"/><ellipse cx="53.7" cy="127.1" rx="2.5" ry="2.2" opacity="0.77"/><ellipse cx="60.1" cy="127.3" rx="2.4" ry="2.2" opacity="0.80"/><ellipse cx="65.8" cy="127.8" rx="1.9" ry="2.8" opacity="0.80"/><ellipse cx="70.3" cy="126.6" rx="3.0" ry="1.8" opacity="0.98"/><ellipse cx="76.3" cy="126.6" rx="3.0" ry="1.8" opacity="0.85"/><ellipse cx="81.6" cy="127.1" rx="2.4" ry="2.3" opacity="0.91"/><ellipse cx="86.0" cy="126.8" rx="2.4" ry="2.3" opacity="0.85"/><ellipse cx="91.5" cy="127.2" rx="2.8" ry="1.9" opacity="0.76"/><ellipse cx="97.8" cy="127.2" rx="2.6" ry="2.1" opacity="0.93"/><ellipse cx="103.5" cy="127.2" rx="3.2" ry="1.7" opacity="0.91"/><ellipse cx="108.3" cy="126.6" rx="2.8" ry="1.9" opacity="0.80"/><ellipse cx="113.7" cy="127.5" rx="3.0" ry="1.8" opacity="0.89"/><ellipse cx="120.0" cy="127.0" rx="2.6" ry="2.1" opacity="0.76"/><ellipse cx="124.3" cy="126.4" rx="2.4" ry="2.3" opacity="0.82"/><ellipse cx="129.7" cy="127.1" rx="2.5" ry="2.2" opacity="0.91"/><ellipse cx="135.1" cy="126.8" rx="1.8" ry="2.9" opacity="0.90"/><ellipse cx="140.6" cy="126.9" rx="2.7" ry="2.0" opacity="0.83"/><ellipse cx="146.5" cy="127.3" rx="2.2" ry="2.4" opacity="0.79"/><ellipse cx="151.7" cy="127.2" rx="2.5" ry="2.1" opacity="0.87"/><ellipse cx="156.6" cy="127.8" rx="2.8" ry="1.9" opacity="0.84"/><ellipse cx="161.6" cy="126.9" rx="3.0" ry="1.8" opacity="0.90"/><ellipse cx="167.7" cy="127.8" rx="2.3" ry="2.3" opacity="0.78"/><ellipse cx="172.4" cy="126.5" rx="1.8" ry="2.9" opacity="0.84"/><ellipse cx="178.2" cy="127.9" rx="2.7" ry="2.0" opacity="0.87"/><ellipse cx="184.7" cy="126.5" rx="2.8" ry="1.9" opacity="0.85"/><ellipse cx="189.8" cy="127.2" rx="3.1" ry="1.7" opacity="0.95"/><ellipse cx="194.7" cy="126.7" rx="2.3" ry="2.3" opacity="0.92"/><ellipse cx="199.5" cy="127.0" rx="2.3" ry="2.3" opacity="0.87"/><ellipse cx="204.9" cy="127.6" rx="2.4" ry="2.3" opacity="0.89"/><ellipse cx="210.2" cy="126.9" rx="2.9" ry="1.8" opacity="0.86"/><ellipse cx="216.5" cy="127.0" rx="2.9" ry="1.8" opacity="0.92"/><ellipse cx="222.0" cy="127.9" rx="2.3" ry="2.3" opacity="0.89"/><ellipse cx="35.7" cy="131.0" rx="2.7" ry="2.0" opacity="0.76"/><ellipse cx="41.5" cy="130.8" rx="2.5" ry="2.2" opacity="0.91"/><ellipse cx="47.0" cy="131.8" rx="2.9" ry="1.9" opacity="0.79"/><ellipse cx="52.2" cy="131.7" rx="1.9" ry="2.8" opacity="0.79"/><ellipse cx="56.4" cy="131.2" rx="2.5" ry="2.2" opacity="0.82"/><ellipse cx="62.6" cy="131.2" rx="2.5" ry="2.1" opacity="0.89"/><ellipse cx="67.3" cy="131.8" rx="1.9" ry="2.8" opacity="0.88"/><ellipse cx="73.9" cy="131.6" rx="2.6" ry="2.1" opacity="0.92"/><ellipse cx="78.7" cy="131.4" rx="3.0" ry="1.8" opacity="0.95"/><ellipse cx="83.2" cy="132.3" rx="2.6" ry="2.1" opacity="0.83"/><ellipse cx="88.9" cy="131.4" rx="2.0" ry="2.7" opacity="0.84"/><ellipse cx="95.2" cy="131.8" rx="3.0" ry="1.8" opacity="0.83"/><ellipse cx="100.3" cy="131.3" rx="1.9" ry="2.8" opacity="0.93"/><ellipse cx="105.7" cy="131.6" rx="2.3" ry="2.3" opacity="0.89"/><ellipse cx="111.1" cy="130.8" rx="2.0" ry="2.7" opacity="0.87"/><ellipse cx="115.9" cy="132.0" rx="2.7" ry="2.0" opacity="0.88"/><ellipse cx="121.6" cy="131.0" rx="2.5" ry="2.2" opacity="0.91"/><ellipse cx="128.0" cy="130.9" rx="2.6" ry="2.1" opacity="0.89"/><ellipse cx="133.0" cy="132.4" rx="3.1" ry="1.7" opacity="0.89"/><ellipse cx="138.5" cy="131.1" rx="3.0" ry="1.8" opacity="0.89"/><ellipse cx="143.4" cy="131.2" rx="2.3" ry="2.4" opacity="0.86"/><ellipse cx="148.5" cy="132.5" rx="2.2" ry="2.5" opacity="0.86"/><ellipse cx="153.5" cy="132.0" rx="2.9" ry="1.9" opacity="0.85"/><ellipse cx="159.4" cy="132.3" rx="3.0" ry="1.8" opacity="0.86"/><ellipse cx="164.8" cy="130.8" rx="2.8" ry="1.9" opacity="0.89"/><ellipse cx="170.8" cy="131.8" rx="2.9" ry="1.9" opacity="0.78"/><ellipse cx="176.4" cy="132.3" rx="2.1" ry="2.5" opacity="0.83"/><ellipse cx="182.0" cy="132.0" rx="1.8" ry="3.0" opacity="0.92"/><ellipse cx="186.7" cy="131.2" rx="2.7" ry="2.0" opacity="0.96"/><ellipse cx="192.1" cy="130.9" rx="2.7" ry="2.0" opacity="0.82"/><ellipse cx="198.0" cy="131.4" rx="2.2" ry="2.4" opacity="0.90"/><ellipse cx="203.2" cy="131.5" rx="2.6" ry="2.0" opacity="0.83"/><ellipse cx="209.0" cy="131.3" rx="2.8" ry="1.9" opacity="0.87"/><ellipse cx="213.5" cy="131.6" rx="2.9" ry="1.8" opacity="0.82"/><ellipse cx="219.2" cy="132.1" rx="3.1" ry="1.8" opacity="0.88"/><ellipse cx="224.6" cy="132.2" rx="1.9" ry="2.8" opacity="0.83"/><ellipse cx="37.9" cy="135.9" rx="2.5" ry="2.2" opacity="0.87"/><ellipse cx="42.8" cy="137.0" rx="3.1" ry="1.7" opacity="0.85"/><ellipse cx="49.8" cy="135.8" rx="2.4" ry="2.2" opacity="0.86"/><ellipse cx="53.6" cy="137.0" rx="2.2" ry="2.4" opacity="0.88"/><ellipse cx="60.3" cy="136.1" rx="2.0" ry="2.6" opacity="0.81"/><ellipse cx="66.0" cy="135.6" rx="2.5" ry="2.1" opacity="0.85"/><ellipse cx="71.4" cy="135.8" rx="2.8" ry="1.9" opacity="0.88"/><ellipse cx="75.6" cy="136.1" rx="2.9" ry="1.8" opacity="0.96"/><ellipse cx="80.8" cy="135.6" rx="3.0" ry="1.8" opacity="0.85"/><ellipse cx="87.1" cy="136.3" rx="2.8" ry="1.9" opacity="0.87"/><ellipse cx="91.5" cy="136.0" rx="2.0" ry="2.7" opacity="0.80"/><ellipse cx="98.1" cy="136.9" rx="2.7" ry="2.0" opacity="0.83"/><ellipse cx="102.5" cy="135.5" rx="3.2" ry="1.7" opacity="0.88"/><ellipse cx="107.5" cy="135.5" rx="2.8" ry="2.0" opacity="0.90"/><ellipse cx="113.9" cy="135.8" rx="2.7" ry="2.0" opacity="0.87"/><ellipse cx="119.8" cy="135.7" rx="2.2" ry="2.5" opacity="0.85"/><ellipse cx="124.1" cy="135.6" rx="2.4" ry="2.2" opacity="0.93"/><ellipse cx="130.0" cy="135.5" rx="2.7" ry="2.0" opacity="1.00"/><ellipse cx="136.1" cy="136.3" rx="2.4" ry="2.2" opacity="0.85"/><ellipse cx="140.9" cy="135.7" rx="2.3" ry="2.3" opacity="0.87"/><ellipse cx="146.5" cy="136.4" rx="2.0" ry="2.6" opacity="0.84"/><ellipse cx="150.8" cy="136.8" rx="2.1" ry="2.6" opacity="0.79"/><ellipse cx="157.1" cy="135.7" rx="3.0" ry="1.8" opacity="0.83"/><ellipse cx="162.8" cy="137.0" rx="2.6" ry="2.0" opacity="0.88"/><ellipse cx="167.4" cy="136.9" rx="2.5" ry="2.2" opacity="0.89"/><ellipse cx="173.1" cy="136.0" rx="2.7" ry="2.0" opacity="0.85"/><ellipse cx="177.9" cy="136.8" rx="2.2" ry="2.4" opacity="0.91"/><ellipse cx="184.2" cy="136.3" rx="2.8" ry="1.9" opacity="0.95"/><ellipse cx="189.7" cy="137.0" rx="2.6" ry="2.1" opacity="0.94"/><ellipse cx="195.5" cy="135.6" rx="2.6" ry="2.1" opacity="0.91"/><ellipse cx="200.6" cy="136.1" rx="2.5" ry="2.1" opacity="0.88"/><ellipse cx="205.4" cy="136.5" rx="3.0" ry="1.8" opacity="0.75"/><ellipse cx="211.1" cy="137.0" rx="2.5" ry="2.2" opacity="0.79"/><ellipse cx="217.0" cy="136.2" rx="2.8" ry="1.9" opacity="0.83"/><ellipse cx="221.5" cy="136.9" rx="2.0" ry="2.7" opacity="0.79"/><ellipse cx="35.5" cy="141.0" rx="2.5" ry="2.2" opacity="0.83"/><ellipse cx="41.1" cy="141.5" rx="2.4" ry="2.2" opacity="0.83"/><ellipse cx="46.9" cy="140.0" rx="2.8" ry="1.9" opacity="0.87"/><ellipse cx="51.3" cy="141.0" rx="2.7" ry="2.0" opacity="0.86"/><ellipse cx="56.8" cy="141.4" rx="1.8" ry="3.0" opacity="0.81"/><ellipse cx="63.3" cy="140.2" rx="2.3" ry="2.3" opacity="0.86"/><ellipse cx="67.2" cy="140.7" rx="2.7" ry="2.0" opacity="0.89"/><ellipse cx="74.0" cy="140.9" rx="2.6" ry="2.0" opacity="0.85"/><ellipse cx="79.2" cy="140.9" rx="3.0" ry="1.8" opacity="0.82"/><ellipse cx="84.3" cy="140.3" rx="2.8" ry="1.9" opacity="0.82"/><ellipse cx="88.9" cy="140.4" rx="2.7" ry="2.0" opacity="0.75"/><ellipse cx="95.3" cy="140.4" rx="1.9" ry="2.8" opacity="0.85"/><ellipse cx="99.9" cy="140.2" rx="2.7" ry="2.0" opacity="0.96"/><ellipse cx="104.8" cy="141.5" rx="2.8" ry="2.0" opacity="0.83"/><ellipse cx="111.4" cy="140.4" rx="2.2" ry="2.4" opacity="0.86"/><ellipse cx="117.1" cy="141.4" rx="2.4" ry="2.2" opacity="0.87"/><ellipse cx="122.4" cy="141.6" rx="2.8" ry="1.9" opacity="0.86"/><ellipse cx="126.8" cy="140.3" rx="2.9" ry="1.8" opacity="0.95"/><ellipse cx="131.8" cy="140.6" rx="2.7" ry="2.0" opacity="0.86"/><ellipse cx="138.6" cy="141.3" rx="3.0" ry="1.8" opacity="0.81"/><ellipse cx="143.4" cy="141.6" rx="2.4" ry="2.3" opacity="0.85"/><ellipse cx="148.4" cy="141.6" rx="2.8" ry="1.9" opacity="0.79"/><ellipse cx="154.3" cy="140.0" rx="2.8" ry="1.9" opacity="0.95"/><ellipse cx="160.1" cy="140.9" rx="2.8" ry="1.9" opacity="0.85"/><ellipse cx="165.8" cy="140.1" rx="2.5" ry="2.2" opacity="0.91"/><ellipse cx="171.4" cy="140.3" rx="2.6" ry="2.1" opacity="0.80"/><ellipse cx="176.2" cy="141.4" rx="3.0" ry="1.8" opacity="0.78"/><ellipse cx="181.3" cy="141.4" rx="2.9" ry="1.8" opacity="0.88"/><ellipse cx="186.3" cy="140.9" rx="2.8" ry="1.9" opacity="0.89"/><ellipse cx="191.5" cy="140.1" rx="2.3" ry="2.3" opacity="0.93"/><ellipse cx="198.4" cy="140.4" rx="2.0" ry="2.6" opacity="0.78"/><ellipse cx="202.5" cy="140.7" rx="2.3" ry="2.4" opacity="0.78"/><ellipse cx="207.6" cy="140.1" rx="1.8" ry="3.0" opacity="0.90"/><ellipse cx="213.3" cy="141.3" rx="3.2" ry="1.7" opacity="0.82"/><ellipse cx="219.8" cy="141.2" rx="2.8" ry="1.9" opacity="0.80"/><ellipse cx="224.8" cy="141.1" rx="2.4" ry="2.3" opacity="0.82"/><ellipse cx="38.4" cy="145.6" rx="2.9" ry="1.8" opacity="0.80"/><ellipse cx="43.6" cy="145.5" rx="2.8" ry="1.9" opacity="0.97"/><ellipse cx="49.0" cy="146.0" rx="2.8" ry="1.9" opacity="0.89"/><ellipse cx="54.7" cy="146.0" rx="1.9" ry="2.8" opacity="0.91"/><ellipse cx="59.8" cy="144.9" rx="2.5" ry="2.1" opacity="0.86"/><ellipse cx="66.0" cy="145.1" rx="2.2" ry="2.5" opacity="0.87"/><ellipse cx="70.5" cy="145.7" rx="3.0" ry="1.8" opacity="0.92"/><ellipse cx="75.7" cy="144.7" rx="2.9" ry="1.8" opacity="0.81"/><ellipse cx="80.9" cy="145.6" rx="2.9" ry="1.8" opacity="0.75"/><ellipse cx="87.5" cy="144.9" rx="2.3" ry="2.3" opacity="0.85"/><ellipse cx="91.8" cy="145.2" rx="2.0" ry="2.7" opacity="0.80"/><ellipse cx="98.4" cy="145.7" rx="2.4" ry="2.2" opacity="0.96"/><ellipse cx="102.4" cy="144.7" rx="2.6" ry="2.1" opacity="1.00"/><ellipse cx="108.9" cy="144.6" rx="2.9" ry="1.9" opacity="0.90"/><ellipse cx="113.8" cy="145.8" rx="2.4" ry="2.3" opacity="0.79"/><ellipse cx="119.6" cy="144.7" rx="2.1" ry="2.6" opacity="0.75"/><ellipse cx="125.1" cy="145.7" rx="2.3" ry="2.4" opacity="0.79"/><ellipse cx="130.4" cy="144.4" rx="2.7" ry="2.0" opacity="0.94"/><ellipse cx="135.4" cy="145.8" rx="2.7" ry="2.0" opacity="0.77"/><ellipse cx="140.5" cy="145.1" rx="2.8" ry="1.9" opacity="0.79"/><ellipse cx="146.1" cy="145.9" rx="2.8" ry="1.9" opacity="0.83"/><ellipse cx="151.4" cy="144.7" rx="2.8" ry="1.9" opacity="0.92"/><ellipse cx="157.7" cy="145.6" rx="3.0" ry="1.8" opacity="0.96"/><ellipse cx="161.8" cy="144.6" rx="2.9" ry="1.9" opacity="0.96"/><ellipse cx="168.5" cy="144.6" rx="2.7" ry="2.0" opacity="0.78"/><ellipse cx="172.4" cy="145.2" rx="2.2" ry="2.4" opacity="0.87"/><ellipse cx="179.4" cy="145.0" rx="2.4" ry="2.2" opacity="0.77"/><ellipse cx="184.4" cy="146.1" rx="2.7" ry="2.0" opacity="0.94"/><ellipse cx="188.7" cy="145.9" rx="2.8" ry="1.9" opacity="0.82"/><ellipse cx="194.0" cy="144.6" rx="2.3" ry="2.4" opacity="0.80"/><ellipse cx="200.0" cy="146.2" rx="2.2" ry="2.4" opacity="0.77"/><ellipse cx="206.4" cy="145.8" rx="2.5" ry="2.1" opacity="0.86"/><ellipse cx="210.9" cy="145.3" rx="2.4" ry="2.3" opacity="0.93"/><ellipse cx="216.9" cy="145.9" rx="3.0" ry="1.8" opacity="0.93"/><ellipse cx="221.2" cy="145.0" rx="1.8" ry="2.9" opacity="0.80"/><ellipse cx="36.3" cy="150.7" rx="3.0" ry="1.8" opacity="0.90"/><ellipse cx="41.2" cy="150.3" rx="2.7" ry="2.0" opacity="0.82"/><ellipse cx="46.6" cy="149.3" rx="2.6" ry="2.1" opacity="1.00"/><ellipse cx="51.6" cy="149.8" rx="2.5" ry="2.2" opacity="0.82"/><ellipse cx="57.8" cy="149.6" rx="2.9" ry="1.8" opacity="0.86"/><ellipse cx="62.6" cy="149.5" rx="2.7" ry="2.0" opacity="0.75"/><ellipse cx="67.8" cy="149.9" rx="2.5" ry="2.1" opacity="0.91"/><ellipse cx="72.8" cy="150.4" rx="3.2" ry="1.7" opacity="0.90"/><ellipse cx="78.6" cy="149.1" rx="2.6" ry="2.1" opacity="0.91"/><ellipse cx="83.6" cy="149.3" rx="2.2" ry="2.5" opacity="0.88"/><ellipse cx="88.6" cy="149.6" rx="3.0" ry="1.8" opacity="0.80"/><ellipse cx="95.5" cy="150.4" rx="2.6" ry="2.0" opacity="0.89"/><ellipse cx="100.3" cy="149.8" rx="2.7" ry="2.0" opacity="1.00"/><ellipse cx="105.1" cy="150.5" rx="2.7" ry="2.0" opacity="0.85"/><ellipse cx="110.8" cy="150.6" rx="2.5" ry="2.2" opacity="0.80"/><ellipse cx="115.8" cy="150.2" rx="1.9" ry="2.9" opacity="0.89"/><ellipse cx="121.4" cy="150.3" rx="2.2" ry="2.4" opacity="0.76"/><ellipse cx="128.1" cy="150.3" rx="3.2" ry="1.7" opacity="0.93"/><ellipse cx="132.9" cy="149.9" rx="2.6" ry="2.1" opacity="0.86"/><ellipse cx="137.5" cy="150.3" rx="2.8" ry="1.9" opacity="0.87"/><ellipse cx="144.0" cy="149.6" rx="2.2" ry="2.4" opacity="0.88"/><ellipse cx="149.1" cy="150.3" rx="2.2" ry="2.4" opacity="0.82"/><ellipse cx="154.2" cy="149.2" rx="2.5" ry="2.1" opacity="0.89"/><ellipse cx="159.6" cy="149.8" rx="3.0" ry="1.8" opacity="0.91"/><ellipse cx="164.2" cy="150.2" rx="3.0" ry="1.8" opacity="0.86"/><ellipse cx="169.9" cy="150.6" rx="2.5" ry="2.1" opacity="0.79"/><ellipse cx="175.9" cy="149.5" rx="2.8" ry="1.9" opacity="0.83"/><ellipse cx="181.1" cy="150.5" rx="2.3" ry="2.4" opacity="0.78"/><ellipse cx="186.7" cy="149.4" rx="2.4" ry="2.3" opacity="0.79"/><ellipse cx="192.8" cy="149.1" rx="2.7" ry="2.0" opacity="0.83"/><ellipse cx="197.8" cy="150.6" rx="2.3" ry="2.4" opacity="0.88"/><ellipse cx="203.7" cy="150.3" rx="1.9" ry="2.8" opacity="0.84"/><ellipse cx="208.0" cy="150.0" rx="2.8" ry="1.9" opacity="0.89"/><ellipse cx="214.3" cy="149.4" rx="2.9" ry="1.8" opacity="0.92"/><ellipse cx="218.9" cy="149.0" rx="2.3" ry="2.3" opacity="0.91"/><ellipse cx="224.0" cy="149.6" rx="2.6" ry="2.1" opacity="0.80"/><ellipse cx="38.3" cy="154.7" rx="2.0" ry="2.7" opacity="0.89"/><ellipse cx="44.4" cy="154.1" rx="1.9" ry="2.9" opacity="0.89"/><ellipse cx="49.0" cy="154.2" rx="2.9" ry="1.9" opacity="0.93"/><ellipse cx="54.0" cy="154.5" rx="1.8" ry="3.0" opacity="0.92"/><ellipse cx="59.4" cy="154.7" rx="2.5" ry="2.2" opacity="0.76"/><ellipse cx="64.9" cy="153.7" rx="2.8" ry="1.9" opacity="0.81"/><ellipse cx="71.5" cy="154.3" rx="2.8" ry="1.9" opacity="0.82"/><ellipse cx="76.7" cy="153.8" rx="3.0" ry="1.8" opacity="0.94"/><ellipse cx="81.8" cy="154.9" rx="2.8" ry="1.9" opacity="0.76"/><ellipse cx="87.0" cy="154.2" rx="3.0" ry="1.8" opacity="0.87"/><ellipse cx="92.1" cy="154.1" rx="2.6" ry="2.1" opacity="0.92"/><ellipse cx="98.4" cy="154.9" rx="3.1" ry="1.8" opacity="0.95"/><ellipse cx="103.0" cy="154.1" rx="2.6" ry="2.0" opacity="0.97"/><ellipse cx="108.7" cy="154.7" rx="2.9" ry="1.8" opacity="0.81"/><ellipse cx="113.8" cy="154.5" rx="2.6" ry="2.1" opacity="0.83"/><ellipse cx="119.6" cy="154.8" rx="2.5" ry="2.1" opacity="0.86"/><ellipse cx="125.1" cy="154.2" rx="1.9" ry="2.8" opacity="0.84"/><ellipse cx="130.7" cy="154.5" rx="3.0" ry="1.8" opacity="0.94"/><ellipse cx="136.1" cy="154.8" rx="2.7" ry="2.0" opacity="0.85"/><ellipse cx="141.0" cy="155.3" rx="2.8" ry="1.9" opacity="0.77"/><ellipse cx="146.4" cy="154.5" rx="2.8" ry="1.9" opacity="0.80"/><ellipse cx="152.1" cy="154.4" rx="2.2" ry="2.5" opacity="0.95"/><ellipse cx="157.6" cy="155.1" rx="2.7" ry="2.0" opacity="0.99"/><ellipse cx="162.2" cy="154.1" rx="2.3" ry="2.3" opacity="0.94"/><ellipse cx="167.4" cy="154.9" rx="2.0" ry="2.6" opacity="0.83"/><ellipse cx="172.8" cy="155.0" rx="2.0" ry="2.7" opacity="0.81"/><ellipse cx="177.7" cy="154.1" rx="2.7" ry="2.0" opacity="0.79"/><ellipse cx="183.6" cy="154.8" rx="3.0" ry="1.8" opacity="0.92"/><ellipse cx="189.5" cy="154.7" rx="2.3" ry="2.4" opacity="0.94"/><ellipse cx="195.5" cy="154.6" rx="2.6" ry="2.1" opacity="0.84"/><ellipse cx="199.9" cy="154.0" rx="2.4" ry="2.2" opacity="0.76"/><ellipse cx="206.4" cy="153.8" rx="2.7" ry="2.0" opacity="0.83"/><ellipse cx="211.3" cy="153.8" rx="2.9" ry="1.8" opacity="0.90"/><ellipse cx="217.2" cy="154.7" rx="2.4" ry="2.3" opacity="0.88"/><ellipse cx="222.3" cy="154.6" rx="2.8" ry="1.9" opacity="0.86"/><ellipse cx="35.3" cy="159.3" rx="2.6" ry="2.1" opacity="0.80"/><ellipse cx="40.4" cy="158.7" rx="2.7" ry="2.0" opacity="0.81"/><ellipse cx="46.4" cy="159.4" rx="2.5" ry="2.1" opacity="0.87"/><ellipse cx="51.3" cy="158.6" rx="2.9" ry="1.8" opacity="0.91"/><ellipse cx="57.9" cy="158.2" rx="2.9" ry="1.9" opacity="0.77"/><ellipse cx="62.5" cy="158.1" rx="2.9" ry="1.9" opacity="0.84"/><ellipse cx="68.3" cy="158.5" rx="2.2" ry="2.4" opacity="0.88"/><ellipse cx="72.5" cy="159.0" rx="2.4" ry="2.2" opacity="0.88"/><ellipse cx="79.6" cy="159.6" rx="2.8" ry="1.9" opacity="0.89"/><ellipse cx="83.7" cy="159.0" rx="2.2" ry="2.5" opacity="0.85"/><ellipse cx="89.6" cy="159.4" rx="1.8" ry="2.9" opacity="0.84"/><ellipse cx="94.4" cy="158.1" rx="2.7" ry="2.0" opacity="0.78"/><ellipse cx="100.2" cy="158.1" rx="2.4" ry="2.2" opacity="0.84"/><ellipse cx="105.6" cy="158.3" rx="2.6" ry="2.1" opacity="0.93"/><ellipse cx="111.6" cy="158.9" rx="2.8" ry="1.9" opacity="0.77"/><ellipse cx="117.2" cy="159.6" rx="2.9" ry="1.9" opacity="0.82"/><ellipse cx="121.5" cy="158.1" rx="3.0" ry="1.8" opacity="0.79"/><ellipse cx="127.0" cy="159.8" rx="2.4" ry="2.2" opacity="0.91"/><ellipse cx="133.6" cy="158.5" rx="2.4" ry="2.3" opacity="0.95"/><ellipse cx="138.0" cy="159.8" rx="3.0" ry="1.8" opacity="0.93"/><ellipse cx="142.6" cy="159.3" rx="2.4" ry="2.3" opacity="0.78"/><ellipse cx="149.0" cy="158.2" rx="3.0" ry="1.8" opacity="0.82"/><ellipse cx="154.2" cy="158.4" rx="3.0" ry="1.8" opacity="0.88"/><ellipse cx="160.0" cy="159.2" rx="2.9" ry="1.9" opacity="0.94"/><ellipse cx="164.4" cy="158.4" rx="3.0" ry="1.8" opacity="0.81"/><ellipse cx="170.5" cy="159.0" rx="2.9" ry="1.8" opacity="0.79"/><ellipse cx="176.0" cy="159.8" rx="2.0" ry="2.7" opacity="0.88"/><ellipse cx="181.6" cy="158.7" rx="3.0" ry="1.8" opacity="0.94"/><ellipse cx="187.5" cy="159.1" rx="2.4" ry="2.3" opacity="0.97"/><ellipse cx="192.4" cy="158.3" rx="2.8" ry="1.9" opacity="0.97"/><ellipse cx="198.3" cy="159.3" rx="2.8" ry="1.9" opacity="0.81"/><ellipse cx="202.3" cy="158.9" rx="2.3" ry="2.4" opacity="0.81"/><ellipse cx="207.8" cy="159.7" rx="2.8" ry="1.9" opacity="0.86"/><ellipse cx="213.1" cy="158.9" rx="2.6" ry="2.1" opacity="0.91"/><ellipse cx="219.1" cy="158.8" rx="3.0" ry="1.8" opacity="0.79"/><ellipse cx="224.1" cy="158.9" rx="2.9" ry="1.9" opacity="0.75"/><ellipse cx="37.7" cy="163.2" rx="2.7" ry="2.0" opacity="0.79"/><ellipse cx="43.6" cy="164.1" rx="2.3" ry="2.3" opacity="0.87"/><ellipse cx="48.2" cy="162.7" rx="2.8" ry="1.9" opacity="0.84"/><ellipse cx="54.8" cy="164.0" rx="2.6" ry="2.1" opacity="0.77"/><ellipse cx="59.2" cy="163.2" rx="2.2" ry="2.5" opacity="0.90"/><ellipse cx="64.5" cy="163.7" rx="2.8" ry="1.9" opacity="0.89"/><ellipse cx="70.7" cy="163.9" rx="2.9" ry="1.8" opacity="0.91"/><ellipse cx="76.8" cy="163.6" rx="3.0" ry="1.8" opacity="1.00"/><ellipse cx="81.2" cy="164.2" rx="2.3" ry="2.3" opacity="0.87"/><ellipse cx="87.0" cy="163.3" rx="1.9" ry="2.8" opacity="0.84"/><ellipse cx="92.8" cy="162.8" rx="2.8" ry="1.9" opacity="0.79"/><ellipse cx="98.2" cy="164.3" rx="3.1" ry="1.7" opacity="0.83"/><ellipse cx="102.6" cy="163.2" rx="2.4" ry="2.2" opacity="0.92"/><ellipse cx="108.2" cy="163.3" rx="2.8" ry="1.9" opacity="0.82"/><ellipse cx="113.1" cy="162.6" rx="2.9" ry="1.9" opacity="0.77"/><ellipse cx="118.7" cy="162.6" rx="2.4" ry="2.2" opacity="0.86"/><ellipse cx="124.2" cy="163.3" rx="2.5" ry="2.2" opacity="0.93"/><ellipse cx="130.4" cy="163.5" rx="2.9" ry="1.9" opacity="0.90"/><ellipse cx="134.8" cy="164.2" rx="2.3" ry="2.3" opacity="0.94"/><ellipse cx="141.5" cy="163.2" rx="2.9" ry="1.8" opacity="0.79"/><ellipse cx="146.7" cy="163.3" rx="2.7" ry="2.0" opacity="0.84"/><ellipse cx="152.3" cy="163.4" rx="2.8" ry="1.9" opacity="0.77"/><ellipse cx="157.3" cy="163.1" rx="3.0" ry="1.8" opacity="0.83"/><ellipse cx="163.1" cy="163.3" rx="2.5" ry="2.2" opacity="0.89"/><ellipse cx="167.3" cy="163.9" rx="2.9" ry="1.9" opacity="0.87"/><ellipse cx="173.3" cy="162.7" rx="2.0" ry="2.7" opacity="0.78"/><ellipse cx="178.4" cy="163.4" rx="2.8" ry="1.9" opacity="0.82"/><ellipse cx="183.2" cy="164.4" rx="2.6" ry="2.1" opacity="0.87"/><ellipse cx="189.5" cy="163.7" rx="2.7" ry="2.0" opacity="0.89"/><ellipse cx="194.5" cy="164.1" rx="2.0" ry="2.7" opacity="0.84"/><ellipse cx="200.1" cy="164.1" rx="2.5" ry="2.2" opacity="0.82"/><ellipse cx="205.4" cy="163.2" rx="3.0" ry="1.8" opacity="0.85"/><ellipse cx="210.8" cy="163.8" rx="2.5" ry="2.1" opacity="0.86"/><ellipse cx="216.1" cy="163.6" rx="3.0" ry="1.8" opacity="0.89"/><ellipse cx="222.1" cy="163.8" rx="2.7" ry="2.0" opacity="0.86"/><ellipse cx="36.1" cy="168.4" rx="2.9" ry="1.8" opacity="0.89"/><ellipse cx="41.6" cy="168.6" rx="1.8" ry="2.9" opacity="0.84"/><ellipse cx="46.0" cy="168.2" rx="2.4" ry="2.2" opacity="0.86"/><ellipse cx="50.9" cy="167.3" rx="2.3" ry="2.4" opacity="0.90"/><ellipse cx="57.4" cy="168.3" rx="2.2" ry="2.4" opacity="0.75"/><ellipse cx="62.1" cy="167.5" rx="2.4" ry="2.2" opacity="0.87"/><ellipse cx="68.1" cy="168.7" rx="2.6" ry="2.1" opacity="0.91"/><ellipse cx="73.2" cy="167.5" rx="2.9" ry="1.8" opacity="1.00"/><ellipse cx="78.7" cy="168.4" rx="2.2" ry="2.4" opacity="0.88"/><ellipse cx="84.5" cy="167.4" rx="1.8" ry="2.9" opacity="0.89"/><ellipse cx="89.9" cy="167.9" rx="2.6" ry="2.1" opacity="0.81"/><ellipse cx="94.3" cy="168.8" rx="2.3" ry="2.3" opacity="0.89"/><ellipse cx="99.8" cy="168.5" rx="2.4" ry="2.2" opacity="0.90"/><ellipse cx="105.8" cy="168.8" rx="3.0" ry="1.8" opacity="0.88"/><ellipse cx="111.4" cy="168.3" rx="3.0" ry="1.8" opacity="0.81"/><ellipse cx="115.9" cy="168.9" rx="3.0" ry="1.8" opacity="0.89"/><ellipse cx="121.7" cy="168.6" rx="2.4" ry="2.3" opacity="0.93"/><ellipse cx="126.9" cy="167.9" rx="3.0" ry="1.8" opacity="0.88"/><ellipse cx="132.6" cy="168.5" rx="3.2" ry="1.7" opacity="1.00"/><ellipse cx="137.9" cy="168.5" rx="2.7" ry="2.0" opacity="0.81"/><ellipse cx="143.8" cy="167.3" rx="2.9" ry="1.9" opacity="0.78"/><ellipse cx="148.8" cy="168.7" rx="3.0" ry="1.8" opacity="0.81"/><ellipse cx="154.4" cy="168.3" rx="2.7" ry="2.0" opacity="0.87"/><ellipse cx="160.1" cy="167.9" rx="2.6" ry="2.0" opacity="0.84"/><ellipse cx="165.5" cy="167.3" rx="2.2" ry="2.4" opacity="0.86"/><ellipse cx="170.3" cy="167.8" rx="2.6" ry="2.1" opacity="0.86"/><ellipse cx="176.3" cy="168.0" rx="3.0" ry="1.8" opacity="0.83"/><ellipse cx="181.4" cy="168.2" rx="3.0" ry="1.8" opacity="0.90"/><ellipse cx="186.3" cy="168.2" rx="3.1" ry="1.7" opacity="0.88"/><ellipse cx="192.5" cy="167.5" rx="2.8" ry="1.9" opacity="0.83"/><ellipse cx="198.0" cy="168.5" rx="2.3" ry="2.3" opacity="0.85"/><ellipse cx="202.2" cy="168.9" rx="1.9" ry="2.8" opacity="0.88"/><ellipse cx="208.6" cy="168.5" rx="3.0" ry="1.8" opacity="0.80"/><ellipse cx="213.6" cy="168.8" rx="2.5" ry="2.1" opacity="0.86"/><ellipse cx="219.5" cy="167.2" rx="2.9" ry="1.9" opacity="0.83"/><ellipse cx="224.5" cy="167.5" rx="2.5" ry="2.1" opacity="0.87"/><ellipse cx="37.6" cy="172.4" rx="2.9" ry="1.9" opacity="0.90"/><ellipse cx="43.9" cy="172.7" rx="2.5" ry="2.1" opacity="0.93"/><ellipse cx="48.4" cy="173.1" rx="2.7" ry="2.0" opacity="0.89"/><ellipse cx="54.5" cy="172.4" rx="2.8" ry="1.9" opacity="0.79"/><ellipse cx="59.2" cy="173.3" rx="2.3" ry="2.3" opacity="0.78"/><ellipse cx="65.7" cy="171.8" rx="2.9" ry="1.9" opacity="0.88"/><ellipse cx="71.3" cy="172.2" rx="3.1" ry="1.7" opacity="0.95"/><ellipse cx="75.5" cy="171.7" rx="2.5" ry="2.1" opacity="0.91"/><ellipse cx="82.1" cy="172.5" rx="2.2" ry="2.5" opacity="0.85"/><ellipse cx="86.3" cy="173.0" rx="2.0" ry="2.7" opacity="0.80"/><ellipse cx="92.1" cy="172.7" rx="2.0" ry="2.7" opacity="0.85"/><ellipse cx="97.7" cy="172.8" rx="2.8" ry="1.9" opacity="0.94"/><ellipse cx="103.2" cy="173.2" rx="2.5" ry="2.2" opacity="0.90"/><ellipse cx="108.4" cy="173.4" rx="2.6" ry="2.1" opacity="0.78"/><ellipse cx="114.3" cy="172.1" rx="2.4" ry="2.3" opacity="0.85"/><ellipse cx="119.7" cy="172.1" rx="2.3" ry="2.3" opacity="0.76"/><ellipse cx="124.9" cy="172.8" rx="2.3" ry="2.4" opacity="0.83"/><ellipse cx="129.7" cy="172.4" rx="2.6" ry="2.1" opacity="0.96"/><ellipse cx="135.0" cy="172.2" rx="2.8" ry="1.9" opacity="0.89"/><ellipse cx="140.9" cy="172.9" rx="2.9" ry="1.9" opacity="0.75"/><ellipse cx="145.5" cy="172.1" rx="2.5" ry="2.2" opacity="0.87"/><ellipse cx="151.8" cy="173.4" rx="2.5" ry="2.1" opacity="0.93"/><ellipse cx="157.8" cy="172.1" rx="2.9" ry="1.9" opacity="0.94"/><ellipse cx="162.0" cy="173.3" rx="3.0" ry="1.8" opacity="0.93"/><ellipse cx="168.4" cy="173.4" rx="3.0" ry="1.8" opacity="0.80"/><ellipse cx="173.0" cy="173.3" rx="2.2" ry="2.4" opacity="0.85"/><ellipse cx="178.7" cy="172.3" rx="2.1" ry="2.5" opacity="0.90"/><ellipse cx="184.1" cy="171.7" rx="2.8" ry="1.9" opacity="0.92"/><ellipse cx="190.2" cy="173.4" rx="2.7" ry="2.0" opacity="0.89"/><ellipse cx="194.9" cy="173.5" rx="2.5" ry="2.1" opacity="0.76"/><ellipse cx="199.5" cy="172.6" rx="2.5" ry="2.2" opacity="0.87"/><ellipse cx="205.3" cy="172.9" rx="2.8" ry="1.9" opacity="0.87"/><ellipse cx="210.3" cy="172.7" rx="2.6" ry="2.1" opacity="0.85"/><ellipse cx="216.5" cy="172.4" rx="2.8" ry="1.9" opacity="0.95"/><ellipse cx="221.1" cy="172.2" rx="2.0" ry="2.7" opacity="0.82"/><ellipse cx="36.0" cy="177.1" rx="2.9" ry="1.9" opacity="0.83"/><ellipse cx="40.2" cy="177.2" rx="2.6" ry="2.1" opacity="0.93"/><ellipse cx="45.9" cy="177.9" rx="2.8" ry="2.0" opacity="0.90"/><ellipse cx="51.0" cy="176.6" rx="2.8" ry="1.9" opacity="0.84"/><ellipse cx="56.4" cy="176.7" rx="2.1" ry="2.5" opacity="0.86"/><ellipse cx="61.7" cy="177.2" rx="2.4" ry="2.2" opacity="0.75"/><ellipse cx="68.1" cy="177.6" rx="2.5" ry="2.1" opacity="0.83"/><ellipse cx="73.2" cy="177.9" rx="3.0" ry="1.8" opacity="0.89"/><ellipse cx="79.6" cy="176.8" rx="3.0" ry="1.8" opacity="0.92"/><ellipse cx="84.0" cy="177.0" rx="2.0" ry="2.7" opacity="0.81"/><ellipse cx="89.8" cy="177.5" rx="2.2" ry="2.4" opacity="0.79"/><ellipse cx="95.2" cy="177.0" rx="2.4" ry="2.2" opacity="0.89"/><ellipse cx="100.2" cy="176.7" rx="3.0" ry="1.8" opacity="0.94"/><ellipse cx="106.2" cy="177.0" rx="2.3" ry="2.4" opacity="0.92"/><ellipse cx="110.7" cy="177.0" rx="3.0" ry="1.8" opacity="0.78"/><ellipse cx="116.1" cy="176.3" rx="2.8" ry="1.9" opacity="0.89"/><ellipse cx="121.6" cy="177.3" rx="2.2" ry="2.4" opacity="0.78"/><ellipse cx="127.6" cy="176.8" rx="2.4" ry="2.2" opacity="0.92"/><ellipse cx="133.5" cy="176.9" rx="2.6" ry="2.0" opacity="0.84"/><ellipse cx="138.9" cy="178.0" rx="2.8" ry="1.9" opacity="0.82"/><ellipse cx="143.4" cy="177.9" rx="2.5" ry="2.1" opacity="0.79"/><ellipse cx="148.3" cy="176.7" rx="2.9" ry="1.8" opacity="0.78"/><ellipse cx="154.9" cy="177.2" rx="2.7" ry="2.0" opacity="0.96"/><ellipse cx="159.4" cy="177.4" rx="3.1" ry="1.7" opacity="0.88"/><ellipse cx="165.1" cy="177.8" rx="2.6" ry="2.0" opacity="0.84"/><ellipse cx="170.8" cy="177.1" rx="2.2" ry="2.5" opacity="0.83"/><ellipse cx="176.3" cy="177.6" rx="2.9" ry="1.9" opacity="0.86"/><ellipse cx="182.1" cy="177.1" rx="2.3" ry="2.3" opacity="0.89"/><ellipse cx="186.5" cy="176.7" rx="2.6" ry="2.0" opacity="0.90"/><ellipse cx="192.6" cy="177.4" rx="2.6" ry="2.0" opacity="0.87"/><ellipse cx="198.0" cy="177.7" rx="2.6" ry="2.0" opacity="0.85"/><ellipse cx="203.3" cy="176.9" rx="2.8" ry="1.9" opacity="0.76"/><ellipse cx="208.1" cy="176.3" rx="2.5" ry="2.2" opacity="0.95"/><ellipse cx="213.2" cy="177.5" rx="2.8" ry="1.9" opacity="1.00"/><ellipse cx="219.4" cy="176.5" rx="2.7" ry="2.0" opacity="0.94"/><ellipse cx="225.0" cy="177.3" rx="2.3" ry="2.4" opacity="0.82"/><ellipse cx="38.5" cy="181.4" rx="2.6" ry="2.1" opacity="0.84"/><ellipse cx="44.0" cy="181.6" rx="2.4" ry="2.2" opacity="0.89"/><ellipse cx="48.4" cy="181.9" rx="3.0" ry="1.8" opacity="0.95"/><ellipse cx="54.6" cy="182.3" rx="3.0" ry="1.8" opacity="0.93"/><ellipse cx="59.6" cy="182.1" rx="2.0" ry="2.7" opacity="0.81"/><ellipse cx="65.1" cy="181.3" rx="2.8" ry="1.9" opacity="0.82"/><ellipse cx="70.6" cy="182.0" rx="2.2" ry="2.5" opacity="0.92"/><ellipse cx="75.8" cy="181.4" rx="3.1" ry="1.7" opacity="0.90"/><ellipse cx="81.8" cy="181.8" rx="3.0" ry="1.8" opacity="0.89"/><ellipse cx="87.1" cy="181.1" rx="2.3" ry="2.4" opacity="0.75"/><ellipse cx="92.2" cy="181.6" rx="2.4" ry="2.3" opacity="0.91"/><ellipse cx="97.1" cy="181.3" rx="3.0" ry="1.8" opacity="0.86"/><ellipse cx="102.4" cy="182.5" rx="2.6" ry="2.0" opacity="1.00"/><ellipse cx="108.8" cy="181.8" rx="2.9" ry="1.8" opacity="0.95"/><ellipse cx="114.3" cy="181.0" rx="2.2" ry="2.4" opacity="0.83"/><ellipse cx="119.7" cy="181.2" rx="2.0" ry="2.6" opacity="0.85"/><ellipse cx="124.2" cy="181.6" rx="2.6" ry="2.1" opacity="0.88"/><ellipse cx="130.2" cy="181.1" rx="2.5" ry="2.1" opacity="0.92"/><ellipse cx="135.5" cy="182.0" rx="2.5" ry="2.1" opacity="0.84"/><ellipse cx="140.1" cy="181.9" rx="2.4" ry="2.3" opacity="0.88"/><ellipse cx="146.5" cy="182.2" rx="2.6" ry="2.1" opacity="0.91"/><ellipse cx="152.5" cy="180.9" rx="2.7" ry="2.0" opacity="0.87"/><ellipse cx="156.9" cy="180.8" rx="2.4" ry="2.2" opacity="0.98"/><ellipse cx="161.9" cy="182.5" rx="2.8" ry="1.9" opacity="0.93"/><ellipse cx="168.2" cy="182.0" rx="2.0" ry="2.6" opacity="0.83"/><ellipse cx="173.7" cy="181.0" rx="2.3" ry="2.3" opacity="0.78"/><ellipse cx="178.8" cy="182.1" rx="1.8" ry="2.9" opacity="0.83"/><ellipse cx="183.8" cy="181.2" rx="3.1" ry="1.7" opacity="0.84"/><ellipse cx="189.3" cy="181.5" rx="2.9" ry="1.8" opacity="0.80"/><ellipse cx="195.4" cy="180.9" rx="2.4" ry="2.2" opacity="0.87"/><ellipse cx="200.7" cy="181.8" rx="2.1" ry="2.5" opacity="0.85"/><ellipse cx="205.5" cy="182.0" rx="2.7" ry="2.0" opacity="0.82"/><ellipse cx="210.3" cy="181.3" rx="1.7" ry="3.2" opacity="1.00"/><ellipse cx="215.7" cy="181.7" rx="2.7" ry="2.0" opacity="1.00"/><ellipse cx="221.4" cy="182.6" rx="2.6" ry="2.0" opacity="0.92"/><ellipse cx="35.6" cy="187.1" rx="2.3" ry="2.3" opacity="0.90"/><ellipse cx="40.8" cy="186.8" rx="3.0" ry="1.8" opacity="0.86"/><ellipse cx="46.1" cy="185.8" rx="3.1" ry="1.7" opacity="0.86"/><ellipse cx="51.6" cy="187.1" rx="2.4" ry="2.3" opacity="0.84"/><ellipse cx="57.8" cy="186.1" rx="2.6" ry="2.0" opacity="0.77"/><ellipse cx="62.5" cy="185.5" rx="2.2" ry="2.4" opacity="0.82"/><ellipse cx="68.5" cy="186.4" rx="2.3" ry="2.4" opacity="0.86"/><ellipse cx="72.9" cy="185.6" rx="3.0" ry="1.8" opacity="0.84"/><ellipse cx="79.3" cy="186.6" rx="2.4" ry="2.3" opacity="0.88"/><ellipse cx="84.5" cy="185.9" rx="2.9" ry="1.8" opacity="0.81"/><ellipse cx="89.7" cy="186.7" rx="3.0" ry="1.8" opacity="0.90"/><ellipse cx="95.3" cy="186.4" rx="2.5" ry="2.2" opacity="0.92"/><ellipse cx="99.9" cy="186.1" rx="2.9" ry="1.9" opacity="0.95"/><ellipse cx="105.9" cy="186.5" rx="1.9" ry="2.8" opacity="0.96"/><ellipse cx="110.9" cy="185.7" rx="1.9" ry="2.8" opacity="0.90"/><ellipse cx="116.1" cy="186.9" rx="2.1" ry="2.6" opacity="0.77"/><ellipse cx="122.6" cy="185.4" rx="2.2" ry="2.4" opacity="0.81"/><ellipse cx="128.2" cy="186.9" rx="3.1" ry="1.7" opacity="0.93"/><ellipse cx="133.1" cy="186.4" rx="3.1" ry="1.7" opacity="0.84"/><ellipse cx="138.0" cy="186.9" rx="2.7" ry="2.0" opacity="0.81"/><ellipse cx="143.0" cy="186.9" rx="2.4" ry="2.2" opacity="0.89"/><ellipse cx="149.5" cy="186.5" rx="2.6" ry="2.0" opacity="0.80"/><ellipse cx="155.1" cy="185.4" rx="3.0" ry="1.8" opacity="0.86"/><ellipse cx="160.6" cy="185.6" rx="3.0" ry="1.8" opacity="0.89"/><ellipse cx="164.8" cy="186.6" rx="2.8" ry="2.0" opacity="0.92"/><ellipse cx="170.3" cy="185.7" rx="2.2" ry="2.5" opacity="0.86"/><ellipse cx="175.1" cy="185.7" rx="3.0" ry="1.8" opacity="0.79"/><ellipse cx="181.8" cy="186.7" rx="2.4" ry="2.3" opacity="0.88"/><ellipse cx="186.0" cy="185.8" rx="2.6" ry="2.1" opacity="0.87"/><ellipse cx="191.8" cy="185.4" rx="2.9" ry="1.9" opacity="0.90"/><ellipse cx="198.4" cy="186.6" rx="2.7" ry="2.0" opacity="0.88"/><ellipse cx="202.0" cy="185.7" rx="2.3" ry="2.3" opacity="0.84"/><ellipse cx="209.1" cy="185.7" rx="2.5" ry="2.1" opacity="0.92"/><ellipse cx="214.1" cy="185.9" rx="3.1" ry="1.7" opacity="0.96"/><ellipse cx="219.4" cy="186.6" rx="2.0" ry="2.7" opacity="0.86"/><ellipse cx="225.0" cy="185.7" rx="2.4" ry="2.3" opacity="0.86"/><ellipse cx="38.5" cy="191.4" rx="2.8" ry="1.9" opacity="0.89"/><ellipse cx="43.0" cy="190.3" rx="2.7" ry="2.0" opacity="0.81"/><ellipse cx="49.1" cy="191.4" rx="3.0" ry="1.8" opacity="0.93"/><ellipse cx="53.9" cy="190.3" rx="2.9" ry="1.9" opacity="0.75"/><ellipse cx="60.5" cy="190.0" rx="2.5" ry="2.1" opacity="0.87"/><ellipse cx="64.6" cy="190.1" rx="2.2" ry="2.4" opacity="0.91"/><ellipse cx="70.6" cy="190.4" rx="3.0" ry="1.8" opacity="0.88"/><ellipse cx="75.7" cy="191.6" rx="2.6" ry="2.1" opacity="1.00"/><ellipse cx="81.5" cy="190.8" rx="2.3" ry="2.3" opacity="0.85"/><ellipse cx="86.9" cy="191.3" rx="2.4" ry="2.3" opacity="0.83"/><ellipse cx="92.1" cy="190.6" rx="3.0" ry="1.8" opacity="0.88"/><ellipse cx="97.1" cy="190.8" rx="2.9" ry="1.8" opacity="0.82"/><ellipse cx="103.2" cy="190.4" rx="3.0" ry="1.8" opacity="0.92"/><ellipse cx="109.0" cy="191.3" rx="2.3" ry="2.4" opacity="0.87"/><ellipse cx="113.6" cy="191.2" rx="1.8" ry="3.0" opacity="0.88"/><ellipse cx="118.5" cy="191.6" rx="2.2" ry="2.4" opacity="0.83"/><ellipse cx="124.1" cy="191.3" rx="2.4" ry="2.3" opacity="0.84"/><ellipse cx="129.6" cy="190.9" rx="2.5" ry="2.2" opacity="0.89"/><ellipse cx="134.8" cy="190.1" rx="2.8" ry="1.9" opacity="0.91"/><ellipse cx="140.9" cy="190.7" rx="3.0" ry="1.8" opacity="0.81"/><ellipse cx="146.7" cy="190.1" rx="2.4" ry="2.2" opacity="0.79"/><ellipse cx="151.4" cy="191.1" rx="2.3" ry="2.3" opacity="0.90"/><ellipse cx="156.6" cy="191.5" rx="2.8" ry="1.9" opacity="0.92"/><ellipse cx="162.1" cy="190.4" rx="3.0" ry="1.8" opacity="0.92"/><ellipse cx="167.2" cy="190.2" rx="2.5" ry="2.1" opacity="0.81"/><ellipse cx="172.4" cy="190.5" rx="2.6" ry="2.1" opacity="0.76"/><ellipse cx="178.9" cy="191.6" rx="2.4" ry="2.2" opacity="0.87"/><ellipse cx="183.3" cy="191.3" rx="2.4" ry="2.2" opacity="0.91"/><ellipse cx="188.6" cy="191.4" rx="2.6" ry="2.1" opacity="0.88"/><ellipse cx="194.2" cy="189.9" rx="2.1" ry="2.6" opacity="0.82"/><ellipse cx="199.5" cy="191.5" rx="2.7" ry="2.0" opacity="0.90"/><ellipse cx="205.0" cy="191.3" rx="2.3" ry="2.3" opacity="0.80"/><ellipse cx="211.8" cy="190.3" rx="2.5" ry="2.2" opacity="0.89"/><ellipse cx="215.9" cy="190.2" rx="2.7" ry="2.0" opacity="0.83"/><ellipse cx="222.1" cy="190.3" rx="2.3" ry="2.3" opacity="0.82"/><ellipse cx="34.8" cy="194.5" rx="2.6" ry="2.1" opacity="0.75"/><ellipse cx="41.1" cy="195.0" rx="2.1" ry="2.5" opacity="0.83"/><ellipse cx="45.7" cy="194.7" rx="2.4" ry="2.2" opacity="0.84"/><ellipse cx="51.2" cy="195.4" rx="2.9" ry="1.9" opacity="0.83"/><ellipse cx="57.0" cy="194.8" rx="2.5" ry="2.1" opacity="0.84"/><ellipse cx="62.4" cy="196.0" rx="2.4" ry="2.3" opacity="0.80"/><ellipse cx="67.4" cy="195.5" rx="2.6" ry="2.1" opacity="0.91"/><ellipse cx="72.8" cy="194.5" rx="2.8" ry="1.9" opacity="0.98"/><ellipse cx="78.3" cy="194.8" rx="3.1" ry="1.8" opacity="0.98"/><ellipse cx="84.8" cy="195.1" rx="3.0" ry="1.8" opacity="0.84"/><ellipse cx="90.3" cy="195.5" rx="2.6" ry="2.1" opacity="0.86"/><ellipse cx="95.5" cy="196.0" rx="2.8" ry="1.9" opacity="0.80"/><ellipse cx="100.9" cy="194.9" rx="3.1" ry="1.8" opacity="0.82"/><ellipse cx="104.8" cy="194.6" rx="3.0" ry="1.8" opacity="0.86"/><ellipse cx="111.0" cy="194.9" rx="2.9" ry="1.9" opacity="0.77"/><ellipse cx="116.9" cy="195.4" rx="2.8" ry="1.9" opacity="0.79"/><ellipse cx="122.7" cy="194.7" rx="2.4" ry="2.3" opacity="0.80"/><ellipse cx="127.7" cy="196.1" rx="2.7" ry="2.0" opacity="0.88"/><ellipse cx="132.1" cy="194.9" rx="2.9" ry="1.9" opacity="0.98"/><ellipse cx="138.4" cy="196.2" rx="2.2" ry="2.4" opacity="0.80"/><ellipse cx="142.9" cy="195.2" rx="2.4" ry="2.2" opacity="0.85"/><ellipse cx="149.2" cy="196.0" rx="2.9" ry="1.9" opacity="0.88"/><ellipse cx="153.6" cy="195.1" rx="2.6" ry="2.1" opacity="0.82"/><ellipse cx="160.6" cy="195.8" rx="2.3" ry="2.4" opacity="0.91"/><ellipse cx="165.7" cy="195.3" rx="2.5" ry="2.1" opacity="0.82"/><ellipse cx="169.7" cy="195.3" rx="1.8" ry="3.0" opacity="0.89"/><ellipse cx="175.1" cy="194.8" rx="2.8" ry="1.9" opacity="0.87"/><ellipse cx="180.7" cy="194.6" rx="2.3" ry="2.3" opacity="0.98"/><ellipse cx="186.1" cy="194.6" rx="3.1" ry="1.7" opacity="0.95"/><ellipse cx="191.5" cy="195.0" rx="2.8" ry="1.9" opacity="0.94"/><ellipse cx="196.8" cy="196.0" rx="2.7" ry="2.0" opacity="0.79"/><ellipse cx="202.3" cy="194.8" rx="2.6" ry="2.0" opacity="0.77"/><ellipse cx="207.4" cy="195.2" rx="2.7" ry="2.0" opacity="0.78"/><ellipse cx="213.6" cy="195.5" rx="3.2" ry="1.7" opacity="0.92"/><ellipse cx="219.8" cy="194.7" rx="2.4" ry="2.3" opacity="0.78"/><ellipse cx="224.3" cy="195.2" rx="2.6" ry="2.1" opacity="0.88"/></g>
<g fill="#2058ff"><ellipse cx="42.8" cy="8.8" rx="1.6" ry="1.5" opacity="0.13"/><ellipse cx="48.5" cy="9.0" rx="1.5" ry="1.5" opacity="0.34"/><ellipse cx="53.8" cy="8.1" rx="1.6" ry="1.4" opacity="0.27"/><ellipse cx="59.0" cy="8.0" rx="1.7" ry="1.4" opacity="0.08"/><ellipse cx="65.7" cy="9.2" rx="1.8" ry="1.3" opacity="0.15"/><ellipse cx="69.9" cy="8.7" rx="1.6" ry="1.6" opacity="0.17"/><ellipse cx="76.7" cy="8.5" rx="1.9" ry="1.4" opacity="0.60"/><ellipse cx="81.7" cy="8.0" rx="1.7" ry="1.3" opacity="0.35"/><ellipse cx="91.5" cy="8.3" rx="1.6" ry="1.6" opacity="0.32"/><ellipse cx="98.3" cy="8.4" rx="1.6" ry="1.2" opacity="0.05"/><ellipse cx="102.5" cy="8.8" rx="1.5" ry="1.4" opacity="0.15"/><ellipse cx="108.7" cy="8.8" rx="1.7" ry="1.6" opacity="0.28"/><ellipse cx="113.6" cy="8.6" rx="1.5" ry="1.3" opacity="0.04"/><ellipse cx="129.3" cy="9.4" rx="1.5" ry="1.3" opacity="0.54"/><ellipse cx="136.0" cy="8.2" rx="1.7" ry="1.2" opacity="0.60"/><ellipse cx="152.5" cy="9.4" rx="1.7" ry="1.3" opacity="0.30"/><ellipse cx="156.2" cy="8.4" rx="2.0" ry="1.4" opacity="0.56"/><ellipse cx="168.5" cy="9.4" rx="1.5" ry="1.7" opacity="0.10"/><ellipse cx="173.7" cy="8.8" rx="1.8" ry="1.4" opacity="0.19"/><ellipse cx="184.6" cy="8.2" rx="1.8" ry="1.2" opacity="0.73"/><ellipse cx="190.2" cy="9.1" rx="1.8" ry="1.3" opacity="0.70"/><ellipse cx="216.5" cy="8.5" rx="1.8" ry="1.2" opacity="0.29"/><ellipse cx="222.3" cy="8.8" rx="1.8" ry="1.3" opacity="0.25"/><ellipse cx="41.6" cy="14.1" rx="1.6" ry="1.2" opacity="0.31"/><ellipse cx="45.5" cy="12.9" rx="1.6" ry="1.4" opacity="0.61"/><ellipse cx="51.1" cy="14.0" rx="1.8" ry="1.4" opacity="0.15"/><ellipse cx="68.1" cy="13.4" rx="1.5" ry="1.3" opacity="0.37"/><ellipse cx="73.8" cy="12.9" rx="1.7" ry="1.2" opacity="0.23"/><ellipse cx="83.3" cy="14.1" rx="1.4" ry="1.6" opacity="0.21"/><ellipse cx="99.9" cy="13.8" rx="1.4" ry="1.3" opacity="0.34"/><ellipse cx="106.1" cy="13.4" rx="1.9" ry="1.3" opacity="0.31"/><ellipse cx="111.7" cy="13.2" rx="1.9" ry="1.4" opacity="0.26"/><ellipse cx="121.5" cy="12.7" rx="1.6" ry="1.2" opacity="0.25"/><ellipse cx="127.2" cy="12.7" rx="1.8" ry="1.2" opacity="0.05"/><ellipse cx="132.4" cy="13.1" rx="1.6" ry="1.3" opacity="0.07"/><ellipse cx="143.0" cy="13.5" rx="1.9" ry="1.3" opacity="0.14"/><ellipse cx="149.8" cy="12.7" rx="1.7" ry="1.5" opacity="0.26"/><ellipse cx="154.9" cy="12.7" rx="1.9" ry="1.3" opacity="0.50"/><ellipse cx="164.4" cy="14.0" rx="1.7" ry="1.2" opacity="0.36"/><ellipse cx="170.9" cy="13.4" rx="1.5" ry="1.3" opacity="0.10"/><ellipse cx="176.3" cy="12.8" rx="1.7" ry="1.4" opacity="0.42"/><ellipse cx="192.4" cy="13.7" rx="1.5" ry="1.5" opacity="0.07"/><ellipse cx="202.8" cy="12.9" rx="1.5" ry="1.4" opacity="0.46"/><ellipse cx="207.6" cy="13.9" rx="1.9" ry="1.3" opacity="0.48"/><ellipse cx="212.8" cy="13.3" rx="1.5" ry="1.5" opacity="0.26"/><ellipse cx="219.6" cy="14.0" rx="1.6" ry="1.3" opacity="0.58"/><ellipse cx="37.5" cy="18.5" rx="1.6" ry="1.3" opacity="0.53"/><ellipse cx="44.4" cy="18.6" rx="1.8" ry="1.3" opacity="0.63"/><ellipse cx="49.4" cy="17.8" rx="1.8" ry="1.3" opacity="0.77"/><ellipse cx="54.1" cy="17.5" rx="1.5" ry="1.4" opacity="0.62"/><ellipse cx="59.2" cy="17.3" rx="1.7" ry="1.7" opacity="0.28"/><ellipse cx="70.2" cy="18.0" rx="1.7" ry="1.3" opacity="0.31"/><ellipse cx="98.2" cy="18.5" rx="1.6" ry="1.5" opacity="0.49"/><ellipse cx="103.4" cy="18.2" rx="1.9" ry="1.2" opacity="0.85"/><ellipse cx="113.1" cy="17.1" rx="1.6" ry="1.3" opacity="0.08"/><ellipse cx="119.1" cy="18.7" rx="1.4" ry="1.7" opacity="0.25"/><ellipse cx="124.3" cy="17.0" rx="1.7" ry="1.5" opacity="0.15"/><ellipse cx="129.2" cy="17.6" rx="1.7" ry="1.4" opacity="0.29"/><ellipse cx="151.0" cy="17.1" rx="1.9" ry="1.4" opacity="0.15"/><ellipse cx="156.7" cy="17.3" rx="1.5" ry="1.4" opacity="0.88"/><ellipse cx="161.8" cy="17.0" rx="2.0" ry="1.2" opacity="0.26"/><ellipse cx="174.0" cy="17.3" rx="1.7" ry="1.5" opacity="0.20"/><ellipse cx="183.7" cy="17.5" rx="1.6" ry="1.3" opacity="0.21"/><ellipse cx="189.9" cy="18.6" rx="1.6" ry="1.6" opacity="0.62"/><ellipse cx="200.7" cy="18.3" rx="1.6" ry="1.3" opacity="0.23"/><ellipse cx="211.1" cy="17.6" rx="1.6" ry="1.2" opacity="0.96"/><ellipse cx="216.8" cy="17.8" rx="1.8" ry="1.4" opacity="0.47"/><ellipse cx="221.1" cy="18.5" rx="1.5" ry="1.3" opacity="0.21"/><ellipse cx="40.9" cy="22.0" rx="1.8" ry="1.4" opacity="0.70"/><ellipse cx="47.0" cy="21.6" rx="1.7" ry="1.5" opacity="0.19"/><ellipse cx="52.4" cy="22.4" rx="1.5" ry="1.6" opacity="0.46"/><ellipse cx="62.0" cy="21.6" rx="1.5" ry="1.5" opacity="0.06"/><ellipse cx="67.1" cy="21.7" rx="1.4" ry="1.6" opacity="0.06"/><ellipse cx="72.9" cy="22.1" rx="1.7" ry="1.4" opacity="0.12"/><ellipse cx="84.0" cy="23.0" rx="1.4" ry="1.5" opacity="0.26"/><ellipse cx="101.1" cy="21.9" rx="1.6" ry="1.4" opacity="0.80"/><ellipse cx="106.4" cy="22.7" rx="1.7" ry="1.4" opacity="0.32"/><ellipse cx="110.5" cy="21.9" rx="1.4" ry="1.6" opacity="0.15"/><ellipse cx="127.2" cy="22.7" rx="1.6" ry="1.3" opacity="0.14"/><ellipse cx="133.2" cy="22.4" rx="1.6" ry="1.3" opacity="0.13"/><ellipse cx="149.5" cy="23.3" rx="1.6" ry="1.6" opacity="0.52"/><ellipse cx="153.7" cy="23.0" rx="1.5" ry="1.5" opacity="0.20"/><ellipse cx="160.3" cy="21.8" rx="1.6" ry="1.3" opacity="0.73"/><ellipse cx="164.5" cy="21.8" rx="1.9" ry="1.2" opacity="0.50"/><ellipse cx="170.7" cy="22.2" rx="1.5" ry="1.5" opacity="0.05"/><ellipse cx="175.7" cy="23.0" rx="1.8" ry="1.3" opacity="0.28"/><ellipse cx="192.3" cy="22.3" rx="1.6" ry="1.3" opacity="0.28"/><ellipse cx="207.7" cy="21.7" rx="1.6" ry="1.2" opacity="0.76"/><ellipse cx="213.8" cy="22.2" rx="1.7" ry="1.4" opacity="0.47"/><ellipse cx="48.9" cy="27.4" rx="1.4" ry="1.4" opacity="0.11"/><ellipse cx="60.3" cy="27.0" rx="1.6" ry="1.4" opacity="0.05"/><ellipse cx="64.7" cy="27.4" rx="1.6" ry="1.3" opacity="0.35"/><ellipse cx="70.8" cy="27.3" rx="1.8" ry="1.5" opacity="0.75"/><ellipse cx="76.4" cy="27.1" rx="1.9" ry="1.2" opacity="0.07"/><ellipse cx="87.1" cy="27.2" rx="1.5" ry="1.6" opacity="0.19"/><ellipse cx="92.9" cy="26.2" rx="1.4" ry="1.4" opacity="0.30"/><ellipse cx="98.2" cy="27.6" rx="1.5" ry="1.2" opacity="0.66"/><ellipse cx="108.8" cy="26.8" rx="1.7" ry="1.2" opacity="0.52"/><ellipse cx="113.7" cy="27.5" rx="1.6" ry="1.3" opacity="0.15"/><ellipse cx="118.6" cy="26.1" rx="1.4" ry="1.6" opacity="0.21"/><ellipse cx="124.0" cy="27.0" rx="1.5" ry="1.3" opacity="0.53"/><ellipse cx="130.0" cy="26.3" rx="1.9" ry="1.3" opacity="0.07"/><ellipse cx="145.7" cy="26.9" rx="1.6" ry="1.3" opacity="0.15"/><ellipse cx="157.1" cy="26.3" rx="1.6" ry="1.4" opacity="0.87"/><ellipse cx="161.8" cy="26.4" rx="1.6" ry="1.3" opacity="0.10"/><ellipse cx="184.0" cy="27.2" rx="1.8" ry="1.4" opacity="0.06"/><ellipse cx="189.5" cy="27.4" rx="1.9" ry="1.4" opacity="0.08"/><ellipse cx="200.1" cy="27.5" rx="1.6" ry="1.4" opacity="0.06"/><ellipse cx="205.9" cy="27.8" rx="1.7" ry="1.5" opacity="0.12"/><ellipse cx="211.1" cy="26.4" rx="1.7" ry="1.3" opacity="0.87"/><ellipse cx="216.4" cy="27.3" rx="1.5" ry="1.4" opacity="0.43"/><ellipse cx="40.5" cy="31.1" rx="1.8" ry="1.3" opacity="0.41"/><ellipse cx="45.6" cy="32.0" rx="1.6" ry="1.5" opacity="0.35"/><ellipse cx="51.9" cy="32.1" rx="1.5" ry="1.5" opacity="0.04"/><ellipse cx="67.8" cy="31.8" rx="1.5" ry="1.4" opacity="0.28"/><ellipse cx="73.8" cy="30.9" rx="1.8" ry="1.5" opacity="0.72"/><ellipse cx="78.0" cy="30.9" rx="1.8" ry="1.5" opacity="0.49"/><ellipse cx="84.8" cy="31.7" rx="1.9" ry="1.2" opacity="0.28"/><ellipse cx="89.6" cy="32.0" rx="1.4" ry="1.4" opacity="0.25"/><ellipse cx="101.0" cy="30.7" rx="1.9" ry="1.3" opacity="0.20"/><ellipse cx="106.5" cy="30.8" rx="1.6" ry="1.6" opacity="0.25"/><ellipse cx="112.0" cy="31.6" rx="1.6" ry="1.4" opacity="0.33"/><ellipse cx="116.3" cy="31.5" rx="1.6" ry="1.4" opacity="0.22"/><ellipse cx="121.5" cy="32.1" rx="1.8" ry="1.4" opacity="0.19"/><ellipse cx="127.0" cy="31.2" rx="1.5" ry="1.4" opacity="0.65"/><ellipse cx="132.8" cy="30.7" rx="1.7" ry="1.4" opacity="0.05"/><ellipse cx="138.8" cy="31.8" rx="1.8" ry="1.3" opacity="0.34"/><ellipse cx="149.6" cy="31.8" rx="1.6" ry="1.3" opacity="0.20"/><ellipse cx="154.0" cy="31.4" rx="1.4" ry="1.3" opacity="0.61"/><ellipse cx="187.3" cy="32.0" rx="2.0" ry="1.2" opacity="0.71"/><ellipse cx="192.5" cy="30.7" rx="1.4" ry="1.7" opacity="0.28"/><ellipse cx="208.2" cy="31.3" rx="1.6" ry="1.2" opacity="0.56"/><ellipse cx="214.1" cy="32.1" rx="1.9" ry="1.2" opacity="0.30"/><ellipse cx="219.8" cy="31.3" rx="1.6" ry="1.2" opacity="0.15"/><ellipse cx="224.4" cy="31.7" rx="1.7" ry="1.6" opacity="0.27"/><ellipse cx="37.8" cy="36.7" rx="1.5" ry="1.3" opacity="0.11"/><ellipse cx="48.9" cy="35.6" rx="1.5" ry="1.4" opacity="0.38"/><ellipse cx="53.9" cy="36.2" rx="1.7" ry="1.3" opacity="0.21"/><ellipse cx="64.6" cy="35.3" rx="1.7" ry="1.3" opacity="0.15"/><ellipse cx="76.0" cy="36.2" rx="1.8" ry="1.4" opacity="0.96"/><ellipse cx="86.9" cy="36.8" rx="1.5" ry="1.5" opacity="0.30"/><ellipse cx="97.4" cy="36.0" rx="1.5" ry="1.2" opacity="0.43"/><ellipse cx="114.1" cy="35.7" rx="1.5" ry="1.3" opacity="0.12"/><ellipse cx="118.6" cy="35.6" rx="1.4" ry="1.3" opacity="0.21"/><ellipse cx="124.1" cy="36.9" rx="1.4" ry="1.6" opacity="0.99"/><ellipse cx="130.2" cy="36.0" rx="1.5" ry="1.3" opacity="0.69"/><ellipse cx="135.8" cy="36.2" rx="1.5" ry="1.3" opacity="0.74"/><ellipse cx="147.1" cy="35.3" rx="1.5" ry="1.3" opacity="0.04"/><ellipse cx="151.4" cy="37.0" rx="1.7" ry="1.3" opacity="0.40"/><ellipse cx="156.6" cy="37.0" rx="1.4" ry="1.5" opacity="0.43"/><ellipse cx="184.4" cy="35.3" rx="1.8" ry="1.2" opacity="0.70"/><ellipse cx="189.4" cy="36.8" rx="1.6" ry="1.3" opacity="0.20"/><ellipse cx="193.9" cy="36.1" rx="1.7" ry="1.6" opacity="0.15"/><ellipse cx="221.8" cy="36.5" rx="1.4" ry="1.5" opacity="0.25"/><ellipse cx="46.1" cy="40.5" rx="1.8" ry="1.3" opacity="0.32"/><ellipse cx="51.4" cy="40.5" rx="1.9" ry="1.2" opacity="0.41"/><ellipse cx="68.7" cy="41.1" rx="1.9" ry="1.2" opacity="0.49"/><ellipse cx="72.9" cy="41.0" rx="1.7" ry="1.3" opacity="0.49"/><ellipse cx="79.5" cy="40.3" rx="1.8" ry="1.4" opacity="0.39"/><ellipse cx="100.4" cy="40.9" rx="1.6" ry="1.3" opacity="0.12"/><ellipse cx="110.7" cy="41.5" rx="1.7" ry="1.4" opacity="0.15"/><ellipse cx="127.9" cy="41.2" rx="1.7" ry="1.4" opacity="0.75"/><ellipse cx="133.4" cy="40.0" rx="1.8" ry="1.4" opacity="0.13"/><ellipse cx="138.0" cy="41.2" rx="1.6" ry="1.4" opacity="0.26"/><ellipse cx="154.4" cy="39.9" rx="2.0" ry="1.2" opacity="0.09"/><ellipse cx="160.4" cy="39.8" rx="1.8" ry="1.3" opacity="0.36"/><ellipse cx="175.7" cy="40.8" rx="1.7" ry="1.3" opacity="0.48"/><ellipse cx="181.0" cy="40.7" rx="1.8" ry="1.4" opacity="0.11"/><ellipse cx="187.4" cy="41.0" rx="1.6" ry="1.2" opacity="0.97"/><ellipse cx="192.1" cy="40.1" rx="1.9" ry="1.4" opacity="0.24"/><ellipse cx="197.3" cy="41.2" rx="1.7" ry="1.5" opacity="0.16"/><ellipse cx="213.0" cy="39.9" rx="1.9" ry="1.2" opacity="0.21"/><ellipse cx="37.4" cy="45.9" rx="1.5" ry="1.2" opacity="0.67"/><ellipse cx="44.2" cy="44.9" rx="1.9" ry="1.4" opacity="1.00"/><ellipse cx="48.5" cy="45.0" rx="1.6" ry="1.5" opacity="0.21"/><ellipse cx="53.8" cy="44.9" rx="1.5" ry="1.4" opacity="0.45"/><ellipse cx="59.6" cy="44.4" rx="1.4" ry="1.4" opacity="0.19"/><ellipse cx="70.2" cy="45.8" rx="1.6" ry="1.3" opacity="0.16"/><ellipse cx="75.8" cy="46.0" rx="1.7" ry="1.2" opacity="0.72"/><ellipse cx="92.7" cy="45.0" rx="1.4" ry="1.3" opacity="0.14"/><ellipse cx="97.3" cy="45.5" rx="1.6" ry="1.2" opacity="0.29"/><ellipse cx="102.5" cy="44.5" rx="1.8" ry="1.5" opacity="0.43"/><ellipse cx="107.7" cy="44.8" rx="1.7" ry="1.4" opacity="0.33"/><ellipse cx="113.3" cy="45.8" rx="1.7" ry="1.5" opacity="0.09"/><ellipse cx="130.4" cy="44.8" rx="1.8" ry="1.4" opacity="0.43"/><ellipse cx="141.3" cy="44.7" rx="1.5" ry="1.5" opacity="0.21"/><ellipse cx="152.0" cy="45.8" rx="1.5" ry="1.4" opacity="0.25"/><ellipse cx="156.3" cy="45.7" rx="1.8" ry="1.4" opacity="0.60"/><ellipse cx="162.5" cy="44.7" rx="1.6" ry="1.2" opacity="0.14"/><ellipse cx="205.7" cy="44.5" rx="1.4" ry="1.6" opacity="0.05"/><ellipse cx="211.2" cy="46.0" rx="1.4" ry="1.5" opacity="0.29"/><ellipse cx="216.0" cy="44.6" rx="1.9" ry="1.4" opacity="0.89"/><ellipse cx="41.5" cy="50.1" rx="1.5" ry="1.3" opacity="0.97"/><ellipse cx="45.5" cy="50.1" rx="1.6" ry="1.3" opacity="0.41"/><ellipse cx="52.1" cy="48.9" rx="1.6" ry="1.4" opacity="0.79"/><ellipse cx="57.0" cy="49.5" rx="1.6" ry="1.3" opacity="0.17"/><ellipse cx="68.7" cy="50.5" rx="1.9" ry="1.2" opacity="0.45"/><ellipse cx="73.5" cy="49.4" rx="1.6" ry="1.3" opacity="0.70"/><ellipse cx="88.8" cy="49.2" rx="1.5" ry="1.3" opacity="0.06"/><ellipse cx="94.5" cy="49.7" rx="1.5" ry="1.5" opacity="0.04"/><ellipse cx="100.1" cy="49.0" rx="1.8" ry="1.2" opacity="1.00"/><ellipse cx="106.1" cy="49.0" rx="1.6" ry="1.5" opacity="0.43"/><ellipse cx="122.6" cy="49.9" rx="1.5" ry="1.5" opacity="0.28"/><ellipse cx="127.9" cy="49.1" rx="1.5" ry="1.3" opacity="0.27"/><ellipse cx="132.8" cy="50.3" rx="1.6" ry="1.3" opacity="0.58"/><ellipse cx="149.0" cy="50.1" rx="1.4" ry="1.5" opacity="0.70"/><ellipse cx="154.8" cy="48.9" rx="1.7" ry="1.2" opacity="0.82"/><ellipse cx="159.5" cy="50.4" rx="1.8" ry="1.4" opacity="0.22"/><ellipse cx="164.5" cy="49.5" rx="1.4" ry="1.4" opacity="0.31"/><ellipse cx="182.1" cy="50.6" rx="1.9" ry="1.3" opacity="0.10"/><ellipse cx="186.5" cy="49.4" rx="1.7" ry="1.3" opacity="0.59"/><ellipse cx="192.1" cy="50.0" rx="1.5" ry="1.4" opacity="0.05"/><ellipse cx="207.7" cy="49.0" rx="1.9" ry="1.3" opacity="0.19"/><ellipse cx="213.9" cy="49.0" rx="2.0" ry="1.3" opacity="0.72"/><ellipse cx="218.3" cy="49.7" rx="1.4" ry="1.4" opacity="0.37"/><ellipse cx="224.0" cy="49.6" rx="1.6" ry="1.4" opacity="0.15"/><ellipse cx="38.4" cy="53.5" rx="1.4" ry="1.5" opacity="0.71"/><ellipse cx="43.9" cy="55.1" rx="1.7" ry="1.4" opacity="0.29"/><ellipse cx="48.2" cy="54.1" rx="1.7" ry="1.3" opacity="0.50"/><ellipse cx="53.5" cy="55.1" rx="1.6" ry="1.4" opacity="0.49"/><ellipse cx="65.3" cy="54.5" rx="1.8" ry="1.3" opacity="0.07"/><ellipse cx="71.1" cy="54.8" rx="1.7" ry="1.3" opacity="0.45"/><ellipse cx="75.3" cy="53.4" rx="2.0" ry="1.2" opacity="0.37"/><ellipse cx="93.0" cy="53.7" rx="1.6" ry="1.4" opacity="0.25"/><ellipse cx="98.1" cy="54.2" rx="1.4" ry="1.5" opacity="0.72"/><ellipse cx="103.7" cy="53.5" rx="1.9" ry="1.2" opacity="0.48"/><ellipse cx="113.4" cy="55.2" rx="1.7" ry="1.3" opacity="0.05"/><ellipse cx="124.9" cy="54.5" rx="1.9" ry="1.3" opacity="0.13"/><ellipse cx="130.7" cy="53.7" rx="1.5" ry="1.5" opacity="0.51"/><ellipse cx="140.1" cy="54.0" rx="1.5" ry="1.2" opacity="0.11"/><ellipse cx="150.7" cy="55.2" rx="1.4" ry="1.4" opacity="0.50"/><ellipse cx="157.3" cy="53.7" rx="1.6" ry="1.5" opacity="0.64"/><ellipse cx="161.9" cy="55.1" rx="1.5" ry="1.2" opacity="0.59"/><ellipse cx="173.5" cy="54.4" rx="1.9" ry="1.3" opacity="0.08"/><ellipse cx="184.9" cy="53.4" rx="1.6" ry="1.3" opacity="0.49"/><ellipse cx="188.7" cy="54.9" rx="1.5" ry="1.5" opacity="0.53"/><ellipse cx="194.5" cy="55.1" rx="1.8" ry="1.5" opacity="0.12"/><ellipse cx="200.4" cy="54.7" rx="1.7" ry="1.4" opacity="0.11"/><ellipse cx="205.8" cy="54.4" rx="1.6" ry="1.5" opacity="0.22"/><ellipse cx="211.0" cy="53.8" rx="1.7" ry="1.4" opacity="0.69"/><ellipse cx="215.8" cy="54.9" rx="2.0" ry="1.2" opacity="0.63"/><ellipse cx="41.8" cy="59.2" rx="1.6" ry="1.4" opacity="0.21"/><ellipse cx="46.3" cy="58.4" rx="1.5" ry="1.4" opacity="0.21"/><ellipse cx="67.5" cy="58.7" rx="1.7" ry="1.5" opacity="0.37"/><ellipse cx="74.1" cy="59.2" rx="1.8" ry="1.3" opacity="0.52"/><ellipse cx="89.5" cy="58.9" rx="1.5" ry="1.4" opacity="0.12"/><ellipse cx="99.6" cy="58.1" rx="1.7" ry="1.4" opacity="0.41"/><ellipse cx="106.0" cy="58.7" rx="1.6" ry="1.3" opacity="0.79"/><ellipse cx="127.4" cy="58.6" rx="1.9" ry="1.2" opacity="0.39"/><ellipse cx="132.8" cy="58.0" rx="1.6" ry="1.3" opacity="0.38"/><ellipse cx="137.7" cy="59.2" rx="1.6" ry="1.5" opacity="0.12"/><ellipse cx="143.4" cy="59.1" rx="1.4" ry="1.6" opacity="0.25"/><ellipse cx="149.4" cy="58.8" rx="1.7" ry="1.3" opacity="0.25"/><ellipse cx="153.8" cy="58.1" rx="1.9" ry="1.2" opacity="0.61"/><ellipse cx="160.0" cy="58.2" rx="1.5" ry="1.3" opacity="0.52"/><ellipse cx="164.8" cy="59.0" rx="1.5" ry="1.5" opacity="0.56"/><ellipse cx="170.3" cy="58.0" rx="1.4" ry="1.4" opacity="0.08"/><ellipse cx="175.8" cy="59.2" rx="1.8" ry="1.6" opacity="0.25"/><ellipse cx="180.9" cy="58.6" rx="1.8" ry="1.4" opacity="0.28"/><ellipse cx="186.8" cy="58.1" rx="1.6" ry="1.4" opacity="0.09"/><ellipse cx="192.3" cy="59.7" rx="1.4" ry="1.5" opacity="0.46"/><ellipse cx="202.2" cy="58.9" rx="1.5" ry="1.3" opacity="0.08"/><ellipse cx="207.6" cy="59.0" rx="1.6" ry="1.5" opacity="0.07"/><ellipse cx="214.3" cy="59.5" rx="1.5" ry="1.4" opacity="0.13"/><ellipse cx="218.4" cy="58.8" rx="1.5" ry="1.3" opacity="0.19"/><ellipse cx="39.0" cy="63.4" rx="1.8" ry="1.2" opacity="0.04"/><ellipse cx="49.1" cy="62.9" rx="1.6" ry="1.3" opacity="0.55"/><ellipse cx="53.6" cy="63.6" rx="1.6" ry="1.5" opacity="0.18"/><ellipse cx="70.3" cy="64.3" rx="1.8" ry="1.5" opacity="0.99"/><ellipse cx="76.2" cy="62.9" rx="1.9" ry="1.3" opacity="0.74"/><ellipse cx="87.5" cy="63.8" rx="1.8" ry="1.4" opacity="0.30"/><ellipse cx="91.8" cy="64.2" rx="1.7" ry="1.3" opacity="0.37"/><ellipse cx="103.3" cy="63.8" rx="2.0" ry="1.4" opacity="0.46"/><ellipse cx="129.9" cy="63.7" rx="1.9" ry="1.2" opacity="0.31"/><ellipse cx="136.2" cy="63.2" rx="1.6" ry="1.3" opacity="0.77"/><ellipse cx="140.8" cy="64.3" rx="1.4" ry="1.3" opacity="0.36"/><ellipse cx="152.3" cy="63.4" rx="1.5" ry="1.3" opacity="0.39"/><ellipse cx="157.8" cy="63.2" rx="1.8" ry="1.5" opacity="0.37"/><ellipse cx="162.2" cy="64.3" rx="1.7" ry="1.4" opacity="0.46"/><ellipse cx="173.9" cy="62.8" rx="1.6" ry="1.5" opacity="0.04"/><ellipse cx="179.1" cy="63.0" rx="1.9" ry="1.3" opacity="0.14"/><ellipse cx="184.8" cy="63.8" rx="1.8" ry="1.5" opacity="0.38"/><ellipse cx="188.8" cy="63.4" rx="1.6" ry="1.2" opacity="0.26"/><ellipse cx="211.6" cy="63.6" rx="1.6" ry="1.4" opacity="0.05"/><ellipse cx="216.9" cy="63.0" rx="1.8" ry="1.3" opacity="0.64"/><ellipse cx="35.0" cy="67.2" rx="1.8" ry="1.2" opacity="0.10"/><ellipse cx="41.2" cy="68.8" rx="2.0" ry="1.4" opacity="0.18"/><ellipse cx="56.9" cy="68.0" rx="1.7" ry="1.3" opacity="0.05"/><ellipse cx="63.0" cy="68.6" rx="1.9" ry="1.4" opacity="0.16"/><ellipse cx="68.5" cy="68.2" rx="1.8" ry="1.3" opacity="0.10"/><ellipse cx="73.5" cy="68.5" rx="1.7" ry="1.5" opacity="0.37"/><ellipse cx="78.4" cy="68.3" rx="1.6" ry="1.3" opacity="0.56"/><ellipse cx="83.3" cy="67.9" rx="1.4" ry="1.3" opacity="0.39"/><ellipse cx="100.3" cy="67.8" rx="1.7" ry="1.3" opacity="0.27"/><ellipse cx="105.2" cy="68.6" rx="2.0" ry="1.2" opacity="0.37"/><ellipse cx="110.4" cy="67.9" rx="1.5" ry="1.3" opacity="0.07"/><ellipse cx="121.4" cy="67.5" rx="2.0" ry="1.4" opacity="0.45"/><ellipse cx="127.7" cy="67.2" rx="1.8" ry="1.2" opacity="0.05"/><ellipse cx="132.1" cy="68.2" rx="1.5" ry="1.6" opacity="0.67"/><ellipse cx="155.0" cy="68.3" rx="1.6" ry="1.4" opacity="0.62"/><ellipse cx="159.0" cy="67.1" rx="1.6" ry="1.6" opacity="0.22"/><ellipse cx="181.5" cy="68.2" rx="1.4" ry="1.4" opacity="0.44"/><ellipse cx="187.0" cy="68.3" rx="1.6" ry="1.4" opacity="0.73"/><ellipse cx="191.3" cy="67.5" rx="1.8" ry="1.4" opacity="0.27"/><ellipse cx="196.7" cy="67.2" rx="1.5" ry="1.5" opacity="0.29"/><ellipse cx="203.2" cy="68.7" rx="1.4" ry="1.5" opacity="0.21"/><ellipse cx="209.2" cy="68.3" rx="1.4" ry="1.5" opacity="0.32"/><ellipse cx="214.4" cy="67.1" rx="1.8" ry="1.3" opacity="0.28"/><ellipse cx="224.9" cy="67.1" rx="1.6" ry="1.4" opacity="0.16"/><ellipse cx="44.2" cy="73.1" rx="1.5" ry="1.4" opacity="0.10"/><ellipse cx="54.4" cy="72.4" rx="1.8" ry="1.4" opacity="0.08"/><ellipse cx="60.4" cy="72.9" rx="1.9" ry="1.2" opacity="0.10"/><ellipse cx="69.9" cy="72.4" rx="2.0" ry="1.4" opacity="0.80"/><ellipse cx="75.6" cy="72.0" rx="1.8" ry="1.3" opacity="0.08"/><ellipse cx="81.9" cy="73.2" rx="1.5" ry="1.5" opacity="0.25"/><ellipse cx="93.0" cy="72.3" rx="1.4" ry="1.5" opacity="0.14"/><ellipse cx="96.7" cy="72.1" rx="1.7" ry="1.5" opacity="0.68"/><ellipse cx="108.0" cy="73.3" rx="1.8" ry="1.3" opacity="0.11"/><ellipse cx="120.0" cy="72.8" rx="1.5" ry="1.4" opacity="0.26"/><ellipse cx="124.5" cy="72.9" rx="1.4" ry="1.5" opacity="0.53"/><ellipse cx="130.6" cy="73.0" rx="1.7" ry="1.3" opacity="0.44"/><ellipse cx="152.1" cy="72.1" rx="1.7" ry="1.3" opacity="0.06"/><ellipse cx="177.9" cy="71.7" rx="1.5" ry="1.2" opacity="0.16"/><ellipse cx="184.1" cy="73.2" rx="1.6" ry="1.3" opacity="0.80"/><ellipse cx="190.1" cy="72.0" rx="1.9" ry="1.2" opacity="0.13"/><ellipse cx="200.2" cy="71.9" rx="1.5" ry="1.6" opacity="0.05"/><ellipse cx="205.1" cy="72.5" rx="1.8" ry="1.5" opacity="0.13"/><ellipse cx="215.6" cy="72.0" rx="1.7" ry="1.4" opacity="0.17"/><ellipse cx="221.6" cy="72.8" rx="1.6" ry="1.6" opacity="0.36"/><ellipse cx="36.4" cy="77.3" rx="1.6" ry="1.3" opacity="0.34"/><ellipse cx="40.6" cy="76.9" rx="1.4" ry="1.6" opacity="0.30"/><ellipse cx="46.5" cy="76.6" rx="1.6" ry="1.2" opacity="0.65"/><ellipse cx="51.1" cy="76.4" rx="1.4" ry="1.4" opacity="0.34"/><ellipse cx="57.0" cy="76.9" rx="1.6" ry="1.4" opacity="0.15"/><ellipse cx="68.7" cy="77.7" rx="1.8" ry="1.3" opacity="0.11"/><ellipse cx="72.8" cy="77.3" rx="1.6" ry="1.2" opacity="0.75"/><ellipse cx="84.1" cy="77.4" rx="1.8" ry="1.4" opacity="0.12"/><ellipse cx="89.5" cy="77.4" rx="1.7" ry="1.3" opacity="0.10"/><ellipse cx="95.7" cy="76.5" rx="1.9" ry="1.3" opacity="0.60"/><ellipse cx="100.8" cy="76.4" rx="1.5" ry="1.3" opacity="0.14"/><ellipse cx="104.9" cy="77.2" rx="1.6" ry="1.3" opacity="0.53"/><ellipse cx="117.1" cy="77.3" rx="1.5" ry="1.5" opacity="0.11"/><ellipse cx="122.5" cy="77.2" rx="1.5" ry="1.4" opacity="0.42"/><ellipse cx="132.2" cy="76.6" rx="1.7" ry="1.6" opacity="0.62"/><ellipse cx="160.1" cy="76.6" rx="1.5" ry="1.5" opacity="0.92"/><ellipse cx="165.6" cy="76.6" rx="1.4" ry="1.5" opacity="0.20"/><ellipse cx="186.1" cy="76.6" rx="1.9" ry="1.3" opacity="0.61"/><ellipse cx="202.9" cy="77.1" rx="1.5" ry="1.2" opacity="0.16"/><ellipse cx="208.3" cy="76.6" rx="1.7" ry="1.5" opacity="0.04"/><ellipse cx="213.6" cy="77.8" rx="1.7" ry="1.3" opacity="0.54"/><ellipse cx="220.0" cy="77.8" rx="1.5" ry="1.4" opacity="0.21"/><ellipse cx="43.7" cy="82.2" rx="1.7" ry="1.2" opacity="0.16"/><ellipse cx="49.8" cy="80.9" rx="1.8" ry="1.4" opacity="0.72"/><ellipse cx="54.0" cy="81.5" rx="1.8" ry="1.3" opacity="0.49"/><ellipse cx="65.8" cy="81.3" rx="1.5" ry="1.6" opacity="0.15"/><ellipse cx="70.7" cy="80.7" rx="1.7" ry="1.4" opacity="0.26"/><ellipse cx="75.6" cy="81.4" rx="1.6" ry="1.5" opacity="0.04"/><ellipse cx="87.7" cy="82.0" rx="1.6" ry="1.5" opacity="0.16"/><ellipse cx="98.3" cy="81.0" rx="1.5" ry="1.4" opacity="0.83"/><ellipse cx="102.9" cy="81.3" rx="1.7" ry="1.2" opacity="0.77"/><ellipse cx="108.1" cy="80.7" rx="1.7" ry="1.3" opacity="0.15"/><ellipse cx="123.9" cy="81.8" rx="1.8" ry="1.4" opacity="0.05"/><ellipse cx="129.8" cy="81.4" rx="1.4" ry="1.4" opacity="0.38"/><ellipse cx="135.8" cy="81.5" rx="1.7" ry="1.2" opacity="0.04"/><ellipse cx="141.3" cy="81.1" rx="1.7" ry="1.5" opacity="0.28"/><ellipse cx="151.9" cy="81.0" rx="1.5" ry="1.5" opacity="0.89"/><ellipse cx="157.5" cy="82.3" rx="1.6" ry="1.5" opacity="1.00"/><ellipse cx="163.2" cy="81.6" rx="1.7" ry="1.4" opacity="0.68"/><ellipse cx="167.4" cy="81.2" rx="1.3" ry="1.4" opacity="0.11"/><ellipse cx="179.3" cy="81.1" rx="1.8" ry="1.3" opacity="0.17"/><ellipse cx="184.8" cy="80.8" rx="1.7" ry="1.5" opacity="0.11"/><ellipse cx="205.6" cy="81.5" rx="1.6" ry="1.3" opacity="0.21"/><ellipse cx="210.4" cy="80.8" rx="1.6" ry="1.3" opacity="1.00"/><ellipse cx="216.2" cy="81.0" rx="1.7" ry="1.4" opacity="0.82"/><ellipse cx="41.1" cy="86.5" rx="1.5" ry="1.2" opacity="0.91"/><ellipse cx="46.8" cy="85.3" rx="1.9" ry="1.3" opacity="0.56"/><ellipse cx="52.5" cy="86.4" rx="1.8" ry="1.3" opacity="0.20"/><ellipse cx="56.9" cy="85.9" rx="1.7" ry="1.3" opacity="0.12"/><ellipse cx="61.6" cy="85.6" rx="1.4" ry="1.3" opacity="0.18"/><ellipse cx="68.3" cy="86.9" rx="1.6" ry="1.5" opacity="0.05"/><ellipse cx="89.8" cy="87.0" rx="1.5" ry="1.3" opacity="0.49"/><ellipse cx="100.7" cy="85.4" rx="1.7" ry="1.4" opacity="0.75"/><ellipse cx="106.4" cy="86.3" rx="2.0" ry="1.3" opacity="0.30"/><ellipse cx="122.3" cy="86.0" rx="1.7" ry="1.3" opacity="0.30"/><ellipse cx="128.0" cy="86.7" rx="1.7" ry="1.3" opacity="0.40"/><ellipse cx="132.9" cy="85.5" rx="1.5" ry="1.5" opacity="0.18"/><ellipse cx="137.5" cy="86.6" rx="1.9" ry="1.2" opacity="0.33"/><ellipse cx="142.8" cy="85.7" rx="1.5" ry="1.4" opacity="0.26"/><ellipse cx="154.1" cy="86.9" rx="1.8" ry="1.4" opacity="0.94"/><ellipse cx="160.4" cy="86.0" rx="1.5" ry="1.5" opacity="0.57"/><ellipse cx="202.2" cy="86.9" rx="1.5" ry="1.7" opacity="0.28"/><ellipse cx="209.1" cy="85.5" rx="1.5" ry="1.4" opacity="0.46"/><ellipse cx="213.3" cy="85.9" rx="1.9" ry="1.3" opacity="1.00"/><ellipse cx="220.0" cy="85.5" rx="1.6" ry="1.2" opacity="0.72"/><ellipse cx="223.8" cy="85.8" rx="1.7" ry="1.4" opacity="0.14"/><ellipse cx="44.4" cy="90.2" rx="1.5" ry="1.4" opacity="0.11"/><ellipse cx="49.6" cy="91.0" rx="1.9" ry="1.2" opacity="0.62"/><ellipse cx="54.3" cy="91.5" rx="1.7" ry="1.5" opacity="0.14"/><ellipse cx="58.9" cy="90.2" rx="1.5" ry="1.6" opacity="0.22"/><ellipse cx="64.9" cy="91.5" rx="1.7" ry="1.3" opacity="0.20"/><ellipse cx="70.2" cy="90.1" rx="2.0" ry="1.3" opacity="0.43"/><ellipse cx="75.4" cy="91.1" rx="1.6" ry="1.2" opacity="0.18"/><ellipse cx="81.6" cy="91.2" rx="1.6" ry="1.4" opacity="0.03"/><ellipse cx="86.0" cy="90.6" rx="1.5" ry="1.3" opacity="0.15"/><ellipse cx="97.5" cy="90.7" rx="1.4" ry="1.3" opacity="0.39"/><ellipse cx="103.3" cy="90.6" rx="1.6" ry="1.2" opacity="0.39"/><ellipse cx="114.4" cy="91.0" rx="1.5" ry="1.3" opacity="0.06"/><ellipse cx="119.6" cy="90.7" rx="1.5" ry="1.5" opacity="0.07"/><ellipse cx="129.7" cy="90.3" rx="1.7" ry="1.2" opacity="0.12"/><ellipse cx="140.2" cy="91.0" rx="1.7" ry="1.4" opacity="0.19"/><ellipse cx="146.2" cy="90.0" rx="1.5" ry="1.4" opacity="0.17"/><ellipse cx="150.9" cy="90.4" rx="1.8" ry="1.3" opacity="0.21"/><ellipse cx="163.1" cy="90.9" rx="1.7" ry="1.4" opacity="0.43"/><ellipse cx="167.0" cy="90.4" rx="1.7" ry="1.5" opacity="0.51"/><ellipse cx="178.6" cy="90.4" rx="1.6" ry="1.3" opacity="0.06"/><ellipse cx="183.9" cy="91.0" rx="1.7" ry="1.5" opacity="0.32"/><ellipse cx="188.9" cy="91.5" rx="1.7" ry="1.5" opacity="0.17"/><ellipse cx="210.2" cy="91.5" rx="1.6" ry="1.2" opacity="0.44"/><ellipse cx="216.9" cy="91.1" rx="1.7" ry="1.5" opacity="0.35"/><ellipse cx="34.9" cy="94.9" rx="1.8" ry="1.4" opacity="0.21"/><ellipse cx="41.4" cy="95.0" rx="1.7" ry="1.3" opacity="0.33"/><ellipse cx="46.1" cy="95.0" rx="1.9" ry="1.3" opacity="0.09"/><ellipse cx="67.6" cy="95.1" rx="1.5" ry="1.5" opacity="0.53"/><ellipse cx="73.5" cy="95.0" rx="1.9" ry="1.3" opacity="0.86"/><ellipse cx="77.9" cy="95.0" rx="1.8" ry="1.3" opacity="0.49"/><ellipse cx="94.8" cy="95.3" rx="1.5" ry="1.4" opacity="0.18"/><ellipse cx="100.1" cy="95.9" rx="1.7" ry="1.4" opacity="0.49"/><ellipse cx="116.2" cy="95.1" rx="1.7" ry="1.3" opacity="0.09"/><ellipse cx="121.8" cy="95.8" rx="1.7" ry="1.5" opacity="0.37"/><ellipse cx="127.3" cy="95.2" rx="1.6" ry="1.4" opacity="0.11"/><ellipse cx="132.9" cy="94.7" rx="1.7" ry="1.4" opacity="0.28"/><ellipse cx="137.8" cy="95.6" rx="1.6" ry="1.3" opacity="0.31"/><ellipse cx="158.8" cy="96.0" rx="1.9" ry="1.2" opacity="0.64"/><ellipse cx="176.6" cy="96.1" rx="1.7" ry="1.5" opacity="0.27"/><ellipse cx="180.6" cy="96.0" rx="1.9" ry="1.3" opacity="0.57"/><ellipse cx="186.6" cy="94.7" rx="1.6" ry="1.4" opacity="0.49"/><ellipse cx="191.6" cy="94.7" rx="1.5" ry="1.4" opacity="0.30"/><ellipse cx="202.7" cy="95.3" rx="1.8" ry="1.3" opacity="0.31"/><ellipse cx="213.5" cy="95.4" rx="1.5" ry="1.5" opacity="0.19"/><ellipse cx="219.3" cy="95.5" rx="1.8" ry="1.4" opacity="0.37"/><ellipse cx="38.2" cy="99.2" rx="1.4" ry="1.5" opacity="0.21"/><ellipse cx="43.6" cy="99.9" rx="1.6" ry="1.5" opacity="0.11"/><ellipse cx="54.8" cy="99.3" rx="1.5" ry="1.4" opacity="0.04"/><ellipse cx="70.2" cy="99.4" rx="1.6" ry="1.2" opacity="0.32"/><ellipse cx="75.7" cy="99.1" rx="1.6" ry="1.3" opacity="0.89"/><ellipse cx="86.7" cy="99.7" rx="1.5" ry="1.6" opacity="0.27"/><ellipse cx="98.3" cy="99.0" rx="1.5" ry="1.7" opacity="0.46"/><ellipse cx="102.9" cy="99.1" rx="1.8" ry="1.3" opacity="0.38"/><ellipse cx="107.5" cy="99.7" rx="1.6" ry="1.4" opacity="0.06"/><ellipse cx="124.6" cy="99.6" rx="1.6" ry="1.4" opacity="0.28"/><ellipse cx="130.8" cy="99.5" rx="1.6" ry="1.2" opacity="0.74"/><ellipse cx="135.3" cy="100.5" rx="1.6" ry="1.3" opacity="0.26"/><ellipse cx="141.6" cy="100.5" rx="1.5" ry="1.6" opacity="0.07"/><ellipse cx="146.4" cy="100.2" rx="1.7" ry="1.3" opacity="0.25"/><ellipse cx="168.6" cy="99.6" rx="1.7" ry="1.4" opacity="0.23"/><ellipse cx="183.5" cy="99.1" rx="1.7" ry="1.4" opacity="0.55"/><ellipse cx="190.3" cy="100.5" rx="1.7" ry="1.3" opacity="1.00"/><ellipse cx="205.9" cy="99.1" rx="1.4" ry="1.7" opacity="0.04"/><ellipse cx="210.9" cy="99.6" rx="1.8" ry="1.3" opacity="0.28"/><ellipse cx="217.2" cy="100.6" rx="1.6" ry="1.4" opacity="0.64"/><ellipse cx="35.2" cy="104.1" rx="1.6" ry="1.2" opacity="0.24"/><ellipse cx="46.9" cy="104.0" rx="1.4" ry="1.3" opacity="0.12"/><ellipse cx="56.7" cy="103.5" rx="1.6" ry="1.3" opacity="0.12"/><ellipse cx="68.3" cy="104.9" rx="1.8" ry="1.2" opacity="0.36"/><ellipse cx="72.7" cy="104.7" rx="1.9" ry="1.4" opacity="0.86"/><ellipse cx="84.9" cy="104.6" rx="1.7" ry="1.4" opacity="0.42"/><ellipse cx="104.9" cy="104.3" rx="1.6" ry="1.5" opacity="0.13"/><ellipse cx="116.5" cy="104.0" rx="1.4" ry="1.3" opacity="0.30"/><ellipse cx="121.8" cy="105.0" rx="1.8" ry="1.2" opacity="0.57"/><ellipse cx="126.9" cy="104.6" rx="1.6" ry="1.2" opacity="0.47"/><ellipse cx="133.2" cy="104.5" rx="1.9" ry="1.2" opacity="0.57"/><ellipse cx="138.4" cy="103.9" rx="1.8" ry="1.3" opacity="0.46"/><ellipse cx="154.7" cy="105.2" rx="1.8" ry="1.5" opacity="0.12"/><ellipse cx="159.4" cy="105.0" rx="1.7" ry="1.3" opacity="0.43"/><ellipse cx="164.6" cy="104.7" rx="1.8" ry="1.5" opacity="0.13"/><ellipse cx="182.1" cy="103.7" rx="1.5" ry="1.3" opacity="0.31"/><ellipse cx="186.0" cy="104.0" rx="1.6" ry="1.3" opacity="0.81"/><ellipse cx="192.7" cy="103.8" rx="1.7" ry="1.6" opacity="0.52"/><ellipse cx="198.0" cy="104.8" rx="1.9" ry="1.4" opacity="0.28"/><ellipse cx="208.4" cy="103.7" rx="1.7" ry="1.3" opacity="0.50"/><ellipse cx="214.2" cy="104.0" rx="1.9" ry="1.2" opacity="0.03"/><ellipse cx="224.8" cy="103.6" rx="1.7" ry="1.2" opacity="0.06"/><ellipse cx="37.7" cy="109.4" rx="1.5" ry="1.3" opacity="0.35"/><ellipse cx="43.2" cy="109.3" rx="1.7" ry="1.4" opacity="0.19"/><ellipse cx="49.8" cy="109.7" rx="1.6" ry="1.2" opacity="0.44"/><ellipse cx="54.9" cy="108.3" rx="1.8" ry="1.5" opacity="0.47"/><ellipse cx="59.1" cy="109.1" rx="1.7" ry="1.3" opacity="0.31"/><ellipse cx="65.1" cy="109.6" rx="1.5" ry="1.5" opacity="0.44"/><ellipse cx="75.8" cy="109.5" rx="1.6" ry="1.4" opacity="0.57"/><ellipse cx="92.2" cy="109.0" rx="1.6" ry="1.3" opacity="0.54"/><ellipse cx="97.8" cy="109.0" rx="1.6" ry="1.5" opacity="0.08"/><ellipse cx="102.5" cy="108.1" rx="1.6" ry="1.4" opacity="0.24"/><ellipse cx="130.6" cy="108.8" rx="1.9" ry="1.3" opacity="0.28"/><ellipse cx="134.8" cy="109.8" rx="1.6" ry="1.3" opacity="0.26"/><ellipse cx="139.9" cy="108.8" rx="1.6" ry="1.4" opacity="0.20"/><ellipse cx="146.6" cy="108.6" rx="1.7" ry="1.5" opacity="0.03"/><ellipse cx="152.3" cy="108.1" rx="1.6" ry="1.4" opacity="0.10"/><ellipse cx="157.5" cy="108.9" rx="1.4" ry="1.3" opacity="0.64"/><ellipse cx="162.9" cy="109.1" rx="1.7" ry="1.4" opacity="0.56"/><ellipse cx="183.6" cy="109.3" rx="1.8" ry="1.2" opacity="0.39"/><ellipse cx="189.1" cy="108.4" rx="1.5" ry="1.3" opacity="0.75"/><ellipse cx="206.0" cy="108.6" rx="1.6" ry="1.2" opacity="0.46"/><ellipse cx="211.2" cy="108.2" rx="1.5" ry="1.4" opacity="0.96"/><ellipse cx="216.1" cy="108.9" rx="2.0" ry="1.2" opacity="0.20"/><ellipse cx="36.0" cy="112.7" rx="1.7" ry="1.4" opacity="0.48"/><ellipse cx="40.6" cy="113.3" rx="1.6" ry="1.3" opacity="0.48"/><ellipse cx="45.6" cy="114.1" rx="2.0" ry="1.2" opacity="1.00"/><ellipse cx="52.1" cy="113.1" rx="1.6" ry="1.5" opacity="0.38"/><ellipse cx="57.0" cy="114.0" rx="1.4" ry="1.6" opacity="0.06"/><ellipse cx="62.4" cy="114.3" rx="1.7" ry="1.5" opacity="0.23"/><ellipse cx="68.7" cy="113.3" rx="1.7" ry="1.4" opacity="0.22"/><ellipse cx="94.9" cy="114.0" rx="1.5" ry="1.4" opacity="0.55"/><ellipse cx="100.4" cy="114.2" rx="1.5" ry="1.2" opacity="0.56"/><ellipse cx="105.0" cy="113.3" rx="1.8" ry="1.4" opacity="0.83"/><ellipse cx="110.7" cy="113.9" rx="1.5" ry="1.3" opacity="0.16"/><ellipse cx="127.6" cy="113.7" rx="1.6" ry="1.3" opacity="0.15"/><ellipse cx="132.6" cy="113.6" rx="1.9" ry="1.2" opacity="0.04"/><ellipse cx="154.8" cy="113.4" rx="1.9" ry="1.2" opacity="0.25"/><ellipse cx="160.6" cy="113.8" rx="1.4" ry="1.5" opacity="0.30"/><ellipse cx="165.1" cy="114.2" rx="1.5" ry="1.3" opacity="0.56"/><ellipse cx="175.8" cy="114.0" rx="1.8" ry="1.3" opacity="0.10"/><ellipse cx="180.6" cy="113.3" rx="1.4" ry="1.5" opacity="0.16"/><ellipse cx="186.4" cy="113.7" rx="1.6" ry="1.5" opacity="0.20"/><ellipse cx="197.0" cy="113.1" rx="1.6" ry="1.5" opacity="0.15"/><ellipse cx="202.8" cy="114.2" rx="1.6" ry="1.3" opacity="0.35"/><ellipse cx="209.0" cy="113.2" rx="1.5" ry="1.3" opacity="0.41"/><ellipse cx="213.8" cy="112.6" rx="1.5" ry="1.5" opacity="0.66"/><ellipse cx="218.8" cy="113.0" rx="1.8" ry="1.4" opacity="0.19"/><ellipse cx="43.3" cy="117.2" rx="1.9" ry="1.3" opacity="0.63"/><ellipse cx="48.6" cy="117.3" rx="1.9" ry="1.2" opacity="0.64"/><ellipse cx="53.7" cy="118.9" rx="1.5" ry="1.6" opacity="0.17"/><ellipse cx="75.7" cy="117.4" rx="1.8" ry="1.5" opacity="0.34"/><ellipse cx="98.3" cy="118.8" rx="1.6" ry="1.2" opacity="0.46"/><ellipse cx="103.7" cy="117.7" rx="1.7" ry="1.5" opacity="0.75"/><ellipse cx="108.1" cy="117.4" rx="1.5" ry="1.5" opacity="0.54"/><ellipse cx="118.9" cy="118.3" rx="1.6" ry="1.3" opacity="0.25"/><ellipse cx="130.6" cy="118.1" rx="1.5" ry="1.5" opacity="0.19"/><ellipse cx="134.7" cy="118.3" rx="1.5" ry="1.2" opacity="0.26"/><ellipse cx="141.3" cy="117.4" rx="1.7" ry="1.5" opacity="0.13"/><ellipse cx="146.2" cy="117.6" rx="1.8" ry="1.3" opacity="0.34"/><ellipse cx="151.4" cy="118.7" rx="1.7" ry="1.5" opacity="0.24"/><ellipse cx="157.7" cy="118.4" rx="1.7" ry="1.5" opacity="0.88"/><ellipse cx="183.3" cy="117.9" rx="1.6" ry="1.2" opacity="0.43"/><ellipse cx="188.6" cy="118.1" rx="1.6" ry="1.4" opacity="0.29"/><ellipse cx="200.4" cy="117.4" rx="1.7" ry="1.2" opacity="0.26"/><ellipse cx="211.2" cy="117.3" rx="1.7" ry="1.2" opacity="0.64"/><ellipse cx="216.6" cy="118.6" rx="2.0" ry="1.2" opacity="0.45"/><ellipse cx="222.7" cy="118.1" rx="1.5" ry="1.5" opacity="0.09"/><ellipse cx="35.6" cy="123.3" rx="1.4" ry="1.4" opacity="0.46"/><ellipse cx="40.5" cy="122.3" rx="1.5" ry="1.4" opacity="0.06"/><ellipse cx="51.6" cy="123.1" rx="1.7" ry="1.5" opacity="0.79"/><ellipse cx="57.4" cy="123.2" rx="1.6" ry="1.3" opacity="0.04"/><ellipse cx="72.9" cy="123.1" rx="1.7" ry="1.4" opacity="0.69"/><ellipse cx="77.8" cy="122.4" rx="1.6" ry="1.3" opacity="0.19"/><ellipse cx="94.2" cy="122.8" rx="1.6" ry="1.4" opacity="0.43"/><ellipse cx="100.5" cy="123.0" rx="1.7" ry="1.2" opacity="0.42"/><ellipse cx="105.8" cy="123.3" rx="1.7" ry="1.4" opacity="0.46"/><ellipse cx="111.4" cy="123.4" rx="1.8" ry="1.3" opacity="0.40"/><ellipse cx="126.4" cy="122.6" rx="2.0" ry="1.3" opacity="0.05"/><ellipse cx="149.8" cy="123.3" rx="1.3" ry="1.7" opacity="0.34"/><ellipse cx="154.5" cy="122.2" rx="1.4" ry="1.5" opacity="0.54"/><ellipse cx="160.6" cy="123.3" rx="1.8" ry="1.4" opacity="0.12"/><ellipse cx="176.8" cy="122.4" rx="1.8" ry="1.5" opacity="0.30"/><ellipse cx="185.9" cy="122.4" rx="1.7" ry="1.4" opacity="0.67"/><ellipse cx="191.9" cy="123.0" rx="1.7" ry="1.4" opacity="0.46"/><ellipse cx="208.5" cy="122.1" rx="1.8" ry="1.4" opacity="0.20"/><ellipse cx="213.1" cy="122.1" rx="1.7" ry="1.5" opacity="0.11"/><ellipse cx="219.3" cy="122.7" rx="1.7" ry="1.3" opacity="0.18"/><ellipse cx="43.3" cy="126.9" rx="1.7" ry="1.4" opacity="0.05"/><ellipse cx="70.3" cy="126.6" rx="2.0" ry="1.2" opacity="0.85"/><ellipse cx="76.3" cy="126.6" rx="1.6" ry="1.2" opacity="0.14"/><ellipse cx="81.6" cy="127.1" rx="1.5" ry="1.3" opacity="0.39"/><ellipse cx="86.0" cy="126.8" rx="1.6" ry="1.4" opacity="0.09"/><ellipse cx="97.8" cy="127.2" rx="1.7" ry="1.5" opacity="0.66"/><ellipse cx="103.5" cy="127.2" rx="1.9" ry="1.2" opacity="0.44"/><ellipse cx="113.7" cy="127.5" rx="1.6" ry="1.3" opacity="0.36"/><ellipse cx="129.7" cy="127.1" rx="1.6" ry="1.5" opacity="0.41"/><ellipse cx="135.1" cy="126.8" rx="1.3" ry="1.4" opacity="0.35"/><ellipse cx="151.7" cy="127.2" rx="1.5" ry="1.5" opacity="0.22"/><ellipse cx="156.6" cy="127.8" rx="1.5" ry="1.2" opacity="0.05"/><ellipse cx="161.6" cy="126.9" rx="1.9" ry="1.3" opacity="0.42"/><ellipse cx="172.4" cy="126.5" rx="1.5" ry="1.5" opacity="0.04"/><ellipse cx="178.2" cy="127.9" rx="1.9" ry="1.4" opacity="0.18"/><ellipse cx="184.7" cy="126.5" rx="1.7" ry="1.3" opacity="0.10"/><ellipse cx="189.8" cy="127.2" rx="2.0" ry="1.2" opacity="0.65"/><ellipse cx="194.7" cy="126.7" rx="1.8" ry="1.6" opacity="0.49"/><ellipse cx="199.5" cy="127.0" rx="1.8" ry="1.3" opacity="0.20"/><ellipse cx="204.9" cy="127.6" rx="1.5" ry="1.3" opacity="0.27"/><ellipse cx="210.2" cy="126.9" rx="1.7" ry="1.3" opacity="0.11"/><ellipse cx="216.5" cy="127.0" rx="1.5" ry="1.2" opacity="0.45"/><ellipse cx="222.0" cy="127.9" rx="1.7" ry="1.4" opacity="0.42"/><ellipse cx="41.5" cy="130.8" rx="1.8" ry="1.3" opacity="0.50"/><ellipse cx="62.6" cy="131.2" rx="1.7" ry="1.5" opacity="0.37"/><ellipse cx="67.3" cy="131.8" rx="1.5" ry="1.5" opacity="0.30"/><ellipse cx="73.9" cy="131.6" rx="1.7" ry="1.3" opacity="0.58"/><ellipse cx="78.7" cy="131.4" rx="1.6" ry="1.2" opacity="0.73"/><ellipse cx="88.9" cy="131.4" rx="1.4" ry="1.4" opacity="0.05"/><ellipse cx="100.3" cy="131.3" rx="1.4" ry="1.4" opacity="0.58"/><ellipse cx="105.7" cy="131.6" rx="1.7" ry="1.5" opacity="0.36"/><ellipse cx="111.1" cy="130.8" rx="1.4" ry="1.7" opacity="0.20"/><ellipse cx="115.9" cy="132.0" rx="1.5" ry="1.3" opacity="0.34"/><ellipse cx="121.6" cy="131.0" rx="1.6" ry="1.5" opacity="0.49"/><ellipse cx="128.0" cy="130.9" rx="1.6" ry="1.2" opacity="0.36"/><ellipse cx="133.0" cy="132.4" rx="2.0" ry="1.3" opacity="0.24"/><ellipse cx="138.5" cy="131.1" rx="1.7" ry="1.4" opacity="0.38"/><ellipse cx="143.4" cy="131.2" rx="1.6" ry="1.5" opacity="0.11"/><ellipse cx="148.5" cy="132.5" rx="1.5" ry="1.6" opacity="0.16"/><ellipse cx="153.5" cy="132.0" rx="1.6" ry="1.4" opacity="0.06"/><ellipse cx="159.4" cy="132.3" rx="1.7" ry="1.3" opacity="0.13"/><ellipse cx="164.8" cy="130.8" rx="1.9" ry="1.3" opacity="0.36"/><ellipse cx="182.0" cy="132.0" rx="1.4" ry="1.7" opacity="0.50"/><ellipse cx="186.7" cy="131.2" rx="1.9" ry="1.5" opacity="0.63"/><ellipse cx="198.0" cy="131.4" rx="1.7" ry="1.3" opacity="0.47"/><ellipse cx="209.0" cy="131.3" rx="1.5" ry="1.2" opacity="0.29"/><ellipse cx="219.2" cy="132.1" rx="1.9" ry="1.4" opacity="0.28"/><ellipse cx="37.9" cy="135.9" rx="1.4" ry="1.2" opacity="0.21"/><ellipse cx="42.8" cy="137.0" rx="1.8" ry="1.3" opacity="0.10"/><ellipse cx="49.8" cy="135.8" rx="1.6" ry="1.5" opacity="0.16"/><ellipse cx="53.6" cy="137.0" rx="1.4" ry="1.4" opacity="0.27"/><ellipse cx="66.0" cy="135.6" rx="1.4" ry="1.4" opacity="0.11"/><ellipse cx="71.4" cy="135.8" rx="1.8" ry="1.3" opacity="0.33"/><ellipse cx="75.6" cy="136.1" rx="1.5" ry="1.2" opacity="0.62"/><ellipse cx="80.8" cy="135.6" rx="1.6" ry="1.2" opacity="0.09"/><ellipse cx="87.1" cy="136.3" rx="1.7" ry="1.4" opacity="0.22"/><ellipse cx="102.5" cy="135.5" rx="2.0" ry="1.4" opacity="0.31"/><ellipse cx="107.5" cy="135.5" rx="1.7" ry="1.3" opacity="0.31"/><ellipse cx="113.9" cy="135.8" rx="1.6" ry="1.4" opacity="0.21"/><ellipse cx="119.8" cy="135.7" rx="1.5" ry="1.5" opacity="0.11"/><ellipse cx="124.1" cy="135.6" rx="1.4" ry="1.3" opacity="0.63"/><ellipse cx="130.0" cy="135.5" rx="1.6" ry="1.3" opacity="0.74"/><ellipse cx="136.1" cy="136.3" rx="1.7" ry="1.4" opacity="0.13"/><ellipse cx="140.9" cy="135.7" rx="1.4" ry="1.3" opacity="0.16"/><ellipse cx="146.5" cy="136.4" rx="1.7" ry="1.5" opacity="0.08"/><ellipse cx="162.8" cy="137.0" rx="1.8" ry="1.4" opacity="0.28"/><ellipse cx="167.4" cy="136.9" rx="1.7" ry="1.5" opacity="0.38"/><ellipse cx="173.1" cy="136.0" rx="1.5" ry="1.2" opacity="0.12"/><ellipse cx="177.9" cy="136.8" rx="1.7" ry="1.5" opacity="0.45"/><ellipse cx="184.2" cy="136.3" rx="1.7" ry="1.4" opacity="0.56"/><ellipse cx="189.7" cy="137.0" rx="1.5" ry="1.4" opacity="0.71"/><ellipse cx="195.5" cy="135.6" rx="1.5" ry="1.3" opacity="0.44"/><ellipse cx="200.6" cy="136.1" rx="1.5" ry="1.4" opacity="0.28"/><ellipse cx="46.9" cy="140.0" rx="1.7" ry="1.4" opacity="0.27"/><ellipse cx="51.3" cy="141.0" rx="1.5" ry="1.4" opacity="0.14"/><ellipse cx="63.3" cy="140.2" rx="1.4" ry="1.3" opacity="0.15"/><ellipse cx="67.2" cy="140.7" rx="1.8" ry="1.3" opacity="0.41"/><ellipse cx="74.0" cy="140.9" rx="1.5" ry="1.4" opacity="0.10"/><ellipse cx="95.3" cy="140.4" rx="1.5" ry="1.4" opacity="0.11"/><ellipse cx="99.9" cy="140.2" rx="1.8" ry="1.3" opacity="0.73"/><ellipse cx="111.4" cy="140.4" rx="1.7" ry="1.4" opacity="0.20"/><ellipse cx="117.1" cy="141.4" rx="1.7" ry="1.4" opacity="0.26"/><ellipse cx="122.4" cy="141.6" rx="1.7" ry="1.3" opacity="0.16"/><ellipse cx="126.8" cy="140.3" rx="1.7" ry="1.3" opacity="0.76"/><ellipse cx="131.8" cy="140.6" rx="1.6" ry="1.4" opacity="0.12"/><ellipse cx="143.4" cy="141.6" rx="1.5" ry="1.3" opacity="0.12"/><ellipse cx="154.3" cy="140.0" rx="1.6" ry="1.2" opacity="0.59"/><ellipse cx="160.1" cy="140.9" rx="1.5" ry="1.3" opacity="0.09"/><ellipse cx="165.8" cy="140.1" rx="1.8" ry="1.4" opacity="0.40"/><ellipse cx="181.3" cy="141.4" rx="1.8" ry="1.2" opacity="0.26"/><ellipse cx="186.3" cy="140.9" rx="1.9" ry="1.3" opacity="0.30"/><ellipse cx="191.5" cy="140.1" rx="1.7" ry="1.5" opacity="0.70"/><ellipse cx="207.6" cy="140.1" rx="1.5" ry="1.7" opacity="0.45"/><ellipse cx="43.6" cy="145.5" rx="1.7" ry="1.2" opacity="0.59"/><ellipse cx="49.0" cy="146.0" rx="1.7" ry="1.3" opacity="0.35"/><ellipse cx="54.7" cy="146.0" rx="1.4" ry="1.4" opacity="0.39"/><ellipse cx="59.8" cy="144.9" rx="1.8" ry="1.3" opacity="0.18"/><ellipse cx="66.0" cy="145.1" rx="1.7" ry="1.4" opacity="0.18"/><ellipse cx="70.5" cy="145.7" rx="1.7" ry="1.2" opacity="0.45"/><ellipse cx="87.5" cy="144.9" rx="1.6" ry="1.4" opacity="0.07"/><ellipse cx="98.4" cy="145.7" rx="1.4" ry="1.4" opacity="0.60"/><ellipse cx="102.4" cy="144.7" rx="1.5" ry="1.3" opacity="0.90"/><ellipse cx="108.9" cy="144.6" rx="1.5" ry="1.2" opacity="0.46"/><ellipse cx="130.4" cy="144.4" rx="1.7" ry="1.5" opacity="0.64"/><ellipse cx="151.4" cy="144.7" rx="1.5" ry="1.4" opacity="0.48"/><ellipse cx="157.7" cy="145.6" rx="2.0" ry="1.3" opacity="0.79"/><ellipse cx="161.8" cy="144.6" rx="1.7" ry="1.4" opacity="0.75"/><ellipse cx="172.4" cy="145.2" rx="1.7" ry="1.3" opacity="0.29"/><ellipse cx="184.4" cy="146.1" rx="1.5" ry="1.3" opacity="0.45"/><ellipse cx="206.4" cy="145.8" rx="1.7" ry="1.4" opacity="0.12"/><ellipse cx="210.9" cy="145.3" rx="1.8" ry="1.4" opacity="0.55"/><ellipse cx="216.9" cy="145.9" rx="1.8" ry="1.2" opacity="0.45"/><ellipse cx="36.3" cy="150.7" rx="1.9" ry="1.2" opacity="0.44"/><ellipse cx="46.6" cy="149.3" rx="1.9" ry="1.4" opacity="0.93"/><ellipse cx="57.8" cy="149.6" rx="1.8" ry="1.3" opacity="0.12"/><ellipse cx="67.8" cy="149.9" rx="1.8" ry="1.4" opacity="0.45"/><ellipse cx="72.8" cy="150.4" rx="1.9" ry="1.3" opacity="0.34"/><ellipse cx="78.6" cy="149.1" rx="1.6" ry="1.2" opacity="0.49"/><ellipse cx="83.6" cy="149.3" rx="1.6" ry="1.4" opacity="0.26"/><ellipse cx="95.5" cy="150.4" rx="1.5" ry="1.3" opacity="0.25"/><ellipse cx="100.3" cy="149.8" rx="1.5" ry="1.4" opacity="0.97"/><ellipse cx="105.1" cy="150.5" rx="1.5" ry="1.3" opacity="0.12"/><ellipse cx="115.8" cy="150.2" rx="1.5" ry="1.4" opacity="0.29"/><ellipse cx="128.1" cy="150.3" rx="1.7" ry="1.2" opacity="0.58"/><ellipse cx="132.9" cy="149.9" rx="1.9" ry="1.2" opacity="0.17"/><ellipse cx="137.5" cy="150.3" rx="1.7" ry="1.4" opacity="0.27"/><ellipse cx="144.0" cy="149.6" rx="1.7" ry="1.5" opacity="0.35"/><ellipse cx="154.2" cy="149.2" rx="1.7" ry="1.5" opacity="0.38"/><ellipse cx="159.6" cy="149.8" rx="1.7" ry="1.4" opacity="0.40"/><ellipse cx="164.2" cy="150.2" rx="1.7" ry="1.4" opacity="0.22"/><ellipse cx="197.8" cy="150.6" rx="1.5" ry="1.6" opacity="0.30"/><ellipse cx="203.7" cy="150.3" rx="1.5" ry="1.6" opacity="0.06"/><ellipse cx="208.0" cy="150.0" rx="1.6" ry="1.3" opacity="0.33"/><ellipse cx="214.3" cy="149.4" rx="2.0" ry="1.3" opacity="0.53"/><ellipse cx="218.9" cy="149.0" rx="1.6" ry="1.4" opacity="0.35"/><ellipse cx="38.3" cy="154.7" rx="1.5" ry="1.5" opacity="0.41"/><ellipse cx="44.4" cy="154.1" rx="1.6" ry="1.5" opacity="0.30"/><ellipse cx="49.0" cy="154.2" rx="1.6" ry="1.4" opacity="0.48"/><ellipse cx="54.0" cy="154.5" rx="1.4" ry="1.4" opacity="0.47"/><ellipse cx="76.7" cy="153.8" rx="1.5" ry="1.3" opacity="0.46"/><ellipse cx="87.0" cy="154.2" rx="1.6" ry="1.4" opacity="0.19"/><ellipse cx="92.1" cy="154.1" rx="1.6" ry="1.3" opacity="0.56"/><ellipse cx="98.4" cy="154.9" rx="1.8" ry="1.3" opacity="0.51"/><ellipse cx="103.0" cy="154.1" rx="1.4" ry="1.3" opacity="0.92"/><ellipse cx="119.6" cy="154.8" rx="1.6" ry="1.5" opacity="0.22"/><ellipse cx="125.1" cy="154.2" rx="1.5" ry="1.7" opacity="0.05"/><ellipse cx="130.7" cy="154.5" rx="1.7" ry="1.2" opacity="0.70"/><ellipse cx="136.1" cy="154.8" rx="1.7" ry="1.3" opacity="0.14"/><ellipse cx="152.1" cy="154.4" rx="1.7" ry="1.5" opacity="0.73"/><ellipse cx="157.6" cy="155.1" rx="1.8" ry="1.3" opacity="0.86"/><ellipse cx="162.2" cy="154.1" rx="1.7" ry="1.4" opacity="0.68"/><ellipse cx="183.6" cy="154.8" rx="1.5" ry="1.4" opacity="0.50"/><ellipse cx="189.5" cy="154.7" rx="1.6" ry="1.4" opacity="0.73"/><ellipse cx="195.5" cy="154.6" rx="1.8" ry="1.3" opacity="0.08"/><ellipse cx="211.3" cy="153.8" rx="1.5" ry="1.4" opacity="0.31"/><ellipse cx="217.2" cy="154.7" rx="1.5" ry="1.5" opacity="0.35"/><ellipse cx="222.3" cy="154.6" rx="1.6" ry="1.4" opacity="0.14"/><ellipse cx="46.4" cy="159.4" rx="1.7" ry="1.3" opacity="0.21"/><ellipse cx="51.3" cy="158.6" rx="1.7" ry="1.2" opacity="0.45"/><ellipse cx="68.3" cy="158.5" rx="1.7" ry="1.4" opacity="0.28"/><ellipse cx="72.5" cy="159.0" rx="1.6" ry="1.5" opacity="0.26"/><ellipse cx="79.6" cy="159.6" rx="1.8" ry="1.4" opacity="0.40"/><ellipse cx="83.7" cy="159.0" rx="1.5" ry="1.3" opacity="0.14"/><ellipse cx="89.6" cy="159.4" rx="1.4" ry="1.4" opacity="0.05"/><ellipse cx="100.2" cy="158.1" rx="1.5" ry="1.4" opacity="0.06"/><ellipse cx="105.6" cy="158.3" rx="1.9" ry="1.2" opacity="0.60"/><ellipse cx="127.0" cy="159.8" rx="1.5" ry="1.6" opacity="0.44"/><ellipse cx="133.6" cy="158.5" rx="1.6" ry="1.3" opacity="0.82"/><ellipse cx="138.0" cy="159.8" rx="1.8" ry="1.4" opacity="0.58"/><ellipse cx="154.2" cy="158.4" rx="1.7" ry="1.2" opacity="0.31"/><ellipse cx="160.0" cy="159.2" rx="1.5" ry="1.4" opacity="0.64"/><ellipse cx="176.0" cy="159.8" rx="1.4" ry="1.6" opacity="0.24"/><ellipse cx="181.6" cy="158.7" rx="1.7" ry="1.3" opacity="0.76"/><ellipse cx="187.5" cy="159.1" rx="1.7" ry="1.3" opacity="0.86"/><ellipse cx="192.4" cy="158.3" rx="1.8" ry="1.3" opacity="0.90"/><ellipse cx="207.8" cy="159.7" rx="1.8" ry="1.3" opacity="0.20"/><ellipse cx="213.1" cy="158.9" rx="1.8" ry="1.2" opacity="0.44"/><ellipse cx="43.6" cy="164.1" rx="1.7" ry="1.3" opacity="0.26"/><ellipse cx="48.2" cy="162.7" rx="1.5" ry="1.3" opacity="0.05"/><ellipse cx="59.2" cy="163.2" rx="1.5" ry="1.5" opacity="0.44"/><ellipse cx="64.5" cy="163.7" rx="1.5" ry="1.4" opacity="0.39"/><ellipse cx="70.7" cy="163.9" rx="1.6" ry="1.4" opacity="0.42"/><ellipse cx="76.8" cy="163.6" rx="1.7" ry="1.3" opacity="1.00"/><ellipse cx="81.2" cy="164.2" rx="1.5" ry="1.3" opacity="0.22"/><ellipse cx="87.0" cy="163.3" rx="1.4" ry="1.3" opacity="0.03"/><ellipse cx="102.6" cy="163.2" rx="1.7" ry="1.4" opacity="0.46"/><ellipse cx="118.7" cy="162.6" rx="1.5" ry="1.5" opacity="0.15"/><ellipse cx="124.2" cy="163.3" rx="1.6" ry="1.3" opacity="0.55"/><ellipse cx="130.4" cy="163.5" rx="1.7" ry="1.3" opacity="0.34"/><ellipse cx="134.8" cy="164.2" rx="1.6" ry="1.4" opacity="0.68"/><ellipse cx="146.7" cy="163.3" rx="1.5" ry="1.3" opacity="0.07"/><ellipse cx="163.1" cy="163.3" rx="1.6" ry="1.4" opacity="0.25"/><ellipse cx="167.3" cy="163.9" rx="2.0" ry="1.2" opacity="0.22"/><ellipse cx="183.2" cy="164.4" rx="1.6" ry="1.5" opacity="0.19"/><ellipse cx="189.5" cy="163.7" rx="1.8" ry="1.3" opacity="0.27"/><ellipse cx="194.5" cy="164.1" rx="1.5" ry="1.6" opacity="0.05"/><ellipse cx="205.4" cy="163.2" rx="1.7" ry="1.3" opacity="0.10"/><ellipse cx="210.8" cy="163.8" rx="1.6" ry="1.5" opacity="0.15"/><ellipse cx="216.1" cy="163.6" rx="1.8" ry="1.2" opacity="0.38"/><ellipse cx="222.1" cy="163.8" rx="1.9" ry="1.4" opacity="0.17"/><ellipse cx="36.1" cy="168.4" rx="1.7" ry="1.3" opacity="0.24"/><ellipse cx="41.6" cy="168.6" rx="1.4" ry="1.5" opacity="0.05"/><ellipse cx="46.0" cy="168.2" rx="1.8" ry="1.4" opacity="0.18"/><ellipse cx="50.9" cy="167.3" rx="1.6" ry="1.5" opacity="0.32"/><ellipse cx="62.1" cy="167.5" rx="1.7" ry="1.5" opacity="0.18"/><ellipse cx="68.1" cy="168.7" rx="1.7" ry="1.3" opacity="0.43"/><ellipse cx="73.2" cy="167.5" rx="1.7" ry="1.4" opacity="0.77"/><ellipse cx="78.7" cy="168.4" rx="1.4" ry="1.5" opacity="0.28"/><ellipse cx="84.5" cy="167.4" rx="1.5" ry="1.5" opacity="0.38"/><ellipse cx="94.3" cy="168.8" rx="1.6" ry="1.3" opacity="0.31"/><ellipse cx="99.8" cy="168.5" rx="1.7" ry="1.3" opacity="0.44"/><ellipse cx="105.8" cy="168.8" rx="1.7" ry="1.2" opacity="0.33"/><ellipse cx="115.9" cy="168.9" rx="1.6" ry="1.3" opacity="0.31"/><ellipse cx="121.7" cy="168.6" rx="1.7" ry="1.3" opacity="0.61"/><ellipse cx="126.9" cy="167.9" rx="2.0" ry="1.2" opacity="0.23"/><ellipse cx="132.6" cy="168.5" rx="1.7" ry="1.3" opacity="0.75"/><ellipse cx="154.4" cy="168.3" rx="1.7" ry="1.4" opacity="0.25"/><ellipse cx="160.1" cy="167.9" rx="1.8" ry="1.4" opacity="0.07"/><ellipse cx="165.5" cy="167.3" rx="1.6" ry="1.6" opacity="0.19"/><ellipse cx="170.3" cy="167.8" rx="1.9" ry="1.4" opacity="0.15"/><ellipse cx="181.4" cy="168.2" rx="1.9" ry="1.2" opacity="0.40"/><ellipse cx="186.3" cy="168.2" rx="1.6" ry="1.2" opacity="0.28"/><ellipse cx="198.0" cy="168.5" rx="1.6" ry="1.3" opacity="0.08"/><ellipse cx="202.2" cy="168.9" rx="1.6" ry="1.6" opacity="0.26"/><ellipse cx="213.6" cy="168.8" rx="1.6" ry="1.3" opacity="0.12"/><ellipse cx="224.5" cy="167.5" rx="1.8" ry="1.3" opacity="0.23"/><ellipse cx="37.6" cy="172.4" rx="1.6" ry="1.2" opacity="0.33"/><ellipse cx="43.9" cy="172.7" rx="1.6" ry="1.3" opacity="0.61"/><ellipse cx="48.4" cy="173.1" rx="1.5" ry="1.4" opacity="0.32"/><ellipse cx="65.7" cy="171.8" rx="1.7" ry="1.2" opacity="0.22"/><ellipse cx="71.3" cy="172.2" rx="1.7" ry="1.4" opacity="0.62"/><ellipse cx="75.5" cy="171.7" rx="1.7" ry="1.3" opacity="0.49"/><ellipse cx="82.1" cy="172.5" rx="1.6" ry="1.5" opacity="0.10"/><ellipse cx="92.1" cy="172.7" rx="1.4" ry="1.5" opacity="0.06"/><ellipse cx="97.7" cy="172.8" rx="1.5" ry="1.4" opacity="0.77"/><ellipse cx="103.2" cy="173.2" rx="1.7" ry="1.5" opacity="0.44"/><ellipse cx="114.3" cy="172.1" rx="1.6" ry="1.3" opacity="0.13"/><ellipse cx="129.7" cy="172.4" rx="1.7" ry="1.3" opacity="0.88"/><ellipse cx="135.0" cy="172.2" rx="1.5" ry="1.4" opacity="0.31"/><ellipse cx="145.5" cy="172.1" rx="1.5" ry="1.5" opacity="0.19"/><ellipse cx="151.8" cy="173.4" rx="1.8" ry="1.3" opacity="0.62"/><ellipse cx="157.8" cy="172.1" rx="1.7" ry="1.3" opacity="0.53"/><ellipse cx="162.0" cy="173.3" rx="1.6" ry="1.2" opacity="0.47"/><ellipse cx="173.0" cy="173.3" rx="1.4" ry="1.4" opacity="0.10"/><ellipse cx="178.7" cy="172.3" rx="1.4" ry="1.5" opacity="0.30"/><ellipse cx="184.1" cy="171.7" rx="1.9" ry="1.5" opacity="0.56"/><ellipse cx="190.2" cy="173.4" rx="1.5" ry="1.3" opacity="0.33"/><ellipse cx="199.5" cy="172.6" rx="1.8" ry="1.5" opacity="0.25"/><ellipse cx="205.3" cy="172.9" rx="1.8" ry="1.3" opacity="0.20"/><ellipse cx="210.3" cy="172.7" rx="1.6" ry="1.5" opacity="0.10"/><ellipse cx="216.5" cy="172.4" rx="1.6" ry="1.2" opacity="0.56"/><ellipse cx="40.2" cy="177.2" rx="1.4" ry="1.5" opacity="0.44"/><ellipse cx="45.9" cy="177.9" rx="1.8" ry="1.5" opacity="0.35"/><ellipse cx="56.4" cy="176.7" rx="1.4" ry="1.4" opacity="0.15"/><ellipse cx="73.2" cy="177.9" rx="1.7" ry="1.4" opacity="0.32"/><ellipse cx="79.6" cy="176.8" rx="1.6" ry="1.2" opacity="0.49"/><ellipse cx="95.2" cy="177.0" rx="1.6" ry="1.5" opacity="0.39"/><ellipse cx="100.2" cy="176.7" rx="1.6" ry="1.2" opacity="0.65"/><ellipse cx="106.2" cy="177.0" rx="1.7" ry="1.5" opacity="0.39"/><ellipse cx="116.1" cy="176.3" rx="1.9" ry="1.4" opacity="0.24"/><ellipse cx="127.6" cy="176.8" rx="1.5" ry="1.5" opacity="0.58"/><ellipse cx="154.9" cy="177.2" rx="1.5" ry="1.3" opacity="0.66"/><ellipse cx="159.4" cy="177.4" rx="2.0" ry="1.4" opacity="0.23"/><ellipse cx="165.1" cy="177.8" rx="1.4" ry="1.3" opacity="0.08"/><ellipse cx="176.3" cy="177.6" rx="1.9" ry="1.4" opacity="0.11"/><ellipse cx="182.1" cy="177.1" rx="1.4" ry="1.5" opacity="0.29"/><ellipse cx="186.5" cy="176.7" rx="1.5" ry="1.5" opacity="0.40"/><ellipse cx="192.6" cy="177.4" rx="1.7" ry="1.3" opacity="0.20"/><ellipse cx="198.0" cy="177.7" rx="1.8" ry="1.4" opacity="0.10"/><ellipse cx="208.1" cy="176.3" rx="1.7" ry="1.4" opacity="0.73"/><ellipse cx="213.2" cy="177.5" rx="1.9" ry="1.4" opacity="0.88"/><ellipse cx="219.4" cy="176.5" rx="1.5" ry="1.3" opacity="0.56"/><ellipse cx="38.5" cy="181.4" rx="1.6" ry="1.3" opacity="0.06"/><ellipse cx="44.0" cy="181.6" rx="1.7" ry="1.3" opacity="0.32"/><ellipse cx="48.4" cy="181.9" rx="1.7" ry="1.2" opacity="0.57"/><ellipse cx="54.6" cy="182.3" rx="1.8" ry="1.4" opacity="0.49"/><ellipse cx="70.6" cy="182.0" rx="1.6" ry="1.5" opacity="0.50"/><ellipse cx="75.8" cy="181.4" rx="1.8" ry="1.3" opacity="0.33"/><ellipse cx="81.8" cy="181.8" rx="1.6" ry="1.4" opacity="0.25"/><ellipse cx="92.2" cy="181.6" rx="1.6" ry="1.4" opacity="0.38"/><ellipse cx="97.1" cy="181.3" rx="1.8" ry="1.4" opacity="0.15"/><ellipse cx="102.4" cy="182.5" rx="1.7" ry="1.2" opacity="0.90"/><ellipse cx="108.8" cy="181.8" rx="1.7" ry="1.4" opacity="0.52"/><ellipse cx="119.7" cy="181.2" rx="1.4" ry="1.7" opacity="0.11"/><ellipse cx="124.2" cy="181.6" rx="1.4" ry="1.2" opacity="0.28"/><ellipse cx="130.2" cy="181.1" rx="1.5" ry="1.2" opacity="0.43"/><ellipse cx="140.1" cy="181.9" rx="1.5" ry="1.4" opacity="0.23"/><ellipse cx="146.5" cy="182.2" rx="1.6" ry="1.3" opacity="0.46"/><ellipse cx="152.5" cy="180.9" rx="1.8" ry="1.3" opacity="0.21"/><ellipse cx="156.9" cy="180.8" rx="1.7" ry="1.2" opacity="1.00"/><ellipse cx="161.9" cy="182.5" rx="1.7" ry="1.4" opacity="0.61"/><ellipse cx="183.8" cy="181.2" rx="1.7" ry="1.4" opacity="0.07"/><ellipse cx="195.4" cy="180.9" rx="1.8" ry="1.5" opacity="0.20"/><ellipse cx="200.7" cy="181.8" rx="1.7" ry="1.6" opacity="0.09"/><ellipse cx="210.3" cy="181.3" rx="1.5" ry="1.4" opacity="0.82"/><ellipse cx="215.7" cy="181.7" rx="1.8" ry="1.2" opacity="1.00"/><ellipse cx="221.4" cy="182.6" rx="1.5" ry="1.4" opacity="0.57"/><ellipse cx="35.6" cy="187.1" rx="1.6" ry="1.6" opacity="0.35"/><ellipse cx="40.8" cy="186.8" rx="1.7" ry="1.2" opacity="0.18"/><ellipse cx="46.1" cy="185.8" rx="2.0" ry="1.3" opacity="0.15"/><ellipse cx="51.6" cy="187.1" rx="1.5" ry="1.5" opacity="0.03"/><ellipse cx="68.5" cy="186.4" rx="1.4" ry="1.4" opacity="0.14"/><ellipse cx="72.9" cy="185.6" rx="1.7" ry="1.3" opacity="0.04"/><ellipse cx="79.3" cy="186.6" rx="1.5" ry="1.4" opacity="0.32"/><ellipse cx="89.7" cy="186.7" rx="1.9" ry="1.2" opacity="0.32"/><ellipse cx="95.3" cy="186.4" rx="1.7" ry="1.3" opacity="0.49"/><ellipse cx="99.9" cy="186.1" rx="1.9" ry="1.4" opacity="0.80"/><ellipse cx="105.9" cy="186.5" rx="1.3" ry="1.6" opacity="0.85"/><ellipse cx="110.9" cy="185.7" rx="1.4" ry="1.4" opacity="0.42"/><ellipse cx="128.2" cy="186.9" rx="1.9" ry="1.3" opacity="0.57"/><ellipse cx="143.0" cy="186.9" rx="1.8" ry="1.5" opacity="0.34"/><ellipse cx="155.1" cy="185.4" rx="1.9" ry="1.2" opacity="0.12"/><ellipse cx="160.6" cy="185.6" rx="1.8" ry="1.2" opacity="0.40"/><ellipse cx="164.8" cy="186.6" rx="1.8" ry="1.2" opacity="0.56"/><ellipse cx="170.3" cy="185.7" rx="1.6" ry="1.3" opacity="0.11"/><ellipse cx="181.8" cy="186.7" rx="1.8" ry="1.4" opacity="0.22"/><ellipse cx="186.0" cy="185.8" rx="1.5" ry="1.5" opacity="0.23"/><ellipse cx="191.8" cy="185.4" rx="1.9" ry="1.4" opacity="0.30"/><ellipse cx="198.4" cy="186.6" rx="1.5" ry="1.3" opacity="0.30"/><ellipse cx="202.0" cy="185.7" rx="1.6" ry="1.5" opacity="0.05"/><ellipse cx="209.1" cy="185.7" rx="1.6" ry="1.4" opacity="0.45"/><ellipse cx="214.1" cy="185.9" rx="1.6" ry="1.2" opacity="0.80"/><ellipse cx="219.4" cy="186.6" rx="1.5" ry="1.5" opacity="0.14"/><ellipse cx="225.0" cy="185.7" rx="1.6" ry="1.3" opacity="0.14"/><ellipse cx="38.5" cy="191.4" rx="1.9" ry="1.4" opacity="0.36"/><ellipse cx="49.1" cy="191.4" rx="1.8" ry="1.2" opacity="0.45"/><ellipse cx="60.5" cy="190.0" rx="1.7" ry="1.4" opacity="0.21"/><ellipse cx="64.6" cy="190.1" rx="1.6" ry="1.4" opacity="0.47"/><ellipse cx="70.6" cy="190.4" rx="1.8" ry="1.4" opacity="0.26"/><ellipse cx="75.7" cy="191.6" rx="1.6" ry="1.5" opacity="1.00"/><ellipse cx="81.5" cy="190.8" rx="1.5" ry="1.3" opacity="0.12"/><ellipse cx="92.1" cy="190.6" rx="1.7" ry="1.4" opacity="0.28"/><ellipse cx="103.2" cy="190.4" rx="1.8" ry="1.2" opacity="0.51"/><ellipse cx="109.0" cy="191.3" rx="1.7" ry="1.3" opacity="0.18"/><ellipse cx="113.6" cy="191.2" rx="1.4" ry="1.4" opacity="0.24"/><ellipse cx="129.6" cy="190.9" rx="1.6" ry="1.4" opacity="0.31"/><ellipse cx="134.8" cy="190.1" rx="1.7" ry="1.2" opacity="0.55"/><ellipse cx="151.4" cy="191.1" rx="1.6" ry="1.5" opacity="0.37"/><ellipse cx="156.6" cy="191.5" rx="1.9" ry="1.4" opacity="0.66"/><ellipse cx="162.1" cy="190.4" rx="1.7" ry="1.4" opacity="0.44"/><ellipse cx="178.9" cy="191.6" rx="1.6" ry="1.5" opacity="0.20"/><ellipse cx="183.3" cy="191.3" rx="1.6" ry="1.5" opacity="0.55"/><ellipse cx="188.6" cy="191.4" rx="1.6" ry="1.2" opacity="0.29"/><ellipse cx="199.5" cy="191.5" rx="1.8" ry="1.3" opacity="0.28"/><ellipse cx="211.8" cy="190.3" rx="1.7" ry="1.5" opacity="0.29"/><ellipse cx="57.0" cy="194.8" rx="1.5" ry="1.3" opacity="0.07"/><ellipse cx="67.4" cy="195.5" rx="1.8" ry="1.5" opacity="0.47"/><ellipse cx="72.8" cy="194.5" rx="1.9" ry="1.3" opacity="1.00"/><ellipse cx="78.3" cy="194.8" rx="1.8" ry="1.4" opacity="0.95"/><ellipse cx="84.8" cy="195.1" rx="1.9" ry="1.2" opacity="0.06"/><ellipse cx="90.3" cy="195.5" rx="1.7" ry="1.4" opacity="0.19"/><ellipse cx="104.8" cy="194.6" rx="1.5" ry="1.3" opacity="0.18"/><ellipse cx="127.7" cy="196.1" rx="1.6" ry="1.4" opacity="0.30"/><ellipse cx="132.1" cy="194.9" rx="1.6" ry="1.4" opacity="0.62"/><ellipse cx="142.9" cy="195.2" rx="1.8" ry="1.4" opacity="0.11"/><ellipse cx="149.2" cy="196.0" rx="1.6" ry="1.4" opacity="0.24"/><ellipse cx="160.6" cy="195.8" rx="1.4" ry="1.4" opacity="0.39"/><ellipse cx="169.7" cy="195.3" rx="1.4" ry="1.7" opacity="0.27"/><ellipse cx="175.1" cy="194.8" rx="1.5" ry="1.4" opacity="0.28"/><ellipse cx="180.7" cy="194.6" rx="1.6" ry="1.3" opacity="0.82"/><ellipse cx="186.1" cy="194.6" rx="1.7" ry="1.2" opacity="0.70"/><ellipse cx="191.5" cy="195.0" rx="1.6" ry="1.4" opacity="0.74"/><ellipse cx="213.6" cy="195.5" rx="1.6" ry="1.4" opacity="0.54"/><ellipse cx="224.3" cy="195.2" rx="1.6" ry="1.3" opacity="0.25"/></g>
<rect x="14.5" y="0" width="9" height="200" fill="#000080" opacity="0.16"/>
<rect x="42.5" y="0" width="9" height="200" fill="#000080" opacity="0.16"/>
<rect x="70.5" y="0" width="9" height="200" fill="#000080" opacity="0.16"/>
<rect x="98.5" y="0" width="9" height="200" fill="#000080" opacity="0.16"/>
<rect x="126.5" y="0" width="9" height="200" fill="#000080" opacity="0.16"/>
<rect x="154.5" y="0" width="9" height="200" fill="#000080" opacity="0.16"/>
<rect x="182.5" y="0" width="9" height="200" fill="#000080" opacity="0.16"/>
<rect x="210.5" y="0" width="9" height="200" fill="#000080" opacity="0.16"/>
<rect x="238.5" y="0" width="9" height="200" fill="#000080" opacity="0.16"/>
</g>
<circle cx="130" cy="99.8" r="15.5" fill="url(#bg1)"/>
<g fill="#2478ff" opacity="0.85">
<circle cx="143.4" cy="103.4" r="1.8"/>
<circle cx="139.8" cy="109.6" r="1.8"/>
<circle cx="133.6" cy="113.2" r="1.8"/>
<circle cx="126.4" cy="113.2" r="1.8"/>
<circle cx="120.2" cy="109.6" r="1.8"/>
<circle cx="116.6" cy="103.4" r="1.8"/>
<circle cx="116.6" cy="96.2" r="1.8"/>
<circle cx="120.2" cy="90.0" r="1.8"/>
<circle cx="126.4" cy="86.4" r="1.8"/>
<circle cx="133.6" cy="86.4" r="1.8"/>
<circle cx="139.8" cy="90.0" r="1.8"/>
<circle cx="143.4" cy="96.2" r="1.8"/>
</g>
</g>
<g clip-path="url(#cpb)">
<rect x="323.9" y="7" width="187.6" height="187.4" fill="#000094"/>
<g filter="url(#bl2)" fill="#1428e6">
<ellipse cx="352" cy="64" rx="27" ry="10" transform="rotate(-10 352 64)" opacity="0.48"/>
<ellipse cx="433" cy="43" rx="32" ry="12" transform="rotate(-25 433 43)" opacity="0.48"/>
<ellipse cx="483" cy="60" rx="28" ry="13" transform="rotate(-10 483 60)" opacity="0.48"/>
<ellipse cx="382" cy="76" rx="28" ry="9" transform="rotate(15 382 76)" opacity="0.45"/>
<ellipse cx="462" cy="84" rx="25" ry="8" transform="rotate(10 462 84)" opacity="0.45"/>
<ellipse cx="359" cy="133" rx="35" ry="14" transform="rotate(-28 359 133)" opacity="0.48"/>
<ellipse cx="406" cy="160" rx="20" ry="9" transform="rotate(0 406 160)" opacity="0.38"/>
<ellipse cx="474" cy="133" rx="37" ry="13" transform="rotate(15 474 133)" opacity="0.48"/>
</g>
<rect x="324.9" y="8" width="185.6" height="185.4" fill="url(#vs)" opacity="0.55"/>
<line x1="324.9" y1="8" x2="510.5" y2="193.4" stroke="#1a1ac0" stroke-width="0.8" opacity="0.45"/>
<circle cx="418" cy="100" r="15.5" fill="url(#bg2)"/>
</g>
<rect x="37.3" y="8" width="185.7" height="185.4" fill="none" stroke="#151515" stroke-width="1.15"/>
<path d="M45.65 193.4v-2M45.65 8v2" stroke="#1a1a1a" stroke-width="0.8"/>
<path d="M130.15 193.4v-2M130.15 8v2" stroke="#1a1a1a" stroke-width="0.8"/>
<path d="M214.65 193.4v-2M214.65 8v2" stroke="#1a1a1a" stroke-width="0.8"/>
<path d="M37.3 16.4h2M223 16.4h-2" stroke="#1a1a1a" stroke-width="0.8"/>
<path d="M37.3 100.8h2M223 100.8h-2" stroke="#1a1a1a" stroke-width="0.8"/>
<path d="M37.3 185.2h2M223 185.2h-2" stroke="#1a1a1a" stroke-width="0.8"/>
<rect x="324.9" y="8" width="185.6" height="185.4" fill="none" stroke="#151515" stroke-width="1.15"/>
<path d="M364 193.4v-2M364 8v2" stroke="#1a1a1a" stroke-width="0.8"/>
<path d="M417.7 193.4v-2M417.7 8v2" stroke="#1a1a1a" stroke-width="0.8"/>
<path d="M471.4 193.4v-2M471.4 8v2" stroke="#1a1a1a" stroke-width="0.8"/>
<path d="M324.9 47.2h2M510.5 47.2h-2" stroke="#1a1a1a" stroke-width="0.8"/>
<path d="M324.9 100.8h2M510.5 100.8h-2" stroke="#1a1a1a" stroke-width="0.8"/>
<path d="M324.9 154.4h2M510.5 154.4h-2" stroke="#1a1a1a" stroke-width="0.8"/>
<rect x="228.2" y="8" width="12.3" height="185.4" fill="url(#cb)" stroke="#151515" stroke-width="1.15"/>
<text class="c" x="243.8" y="11.9">0</text>
<path d="M240.5 45.08h-2.5" stroke="#1a1a1a" stroke-width="0.8"/>
<text class="c" x="243.8" y="48.98">-10</text>
<path d="M240.5 82.16h-2.5" stroke="#1a1a1a" stroke-width="0.8"/>
<text class="c" x="243.8" y="86.06">-20</text>
<path d="M240.5 119.24h-2.5" stroke="#1a1a1a" stroke-width="0.8"/>
<text class="c" x="243.8" y="123.14">-30</text>
<path d="M240.5 156.32h-2.5" stroke="#1a1a1a" stroke-width="0.8"/>
<text class="c" x="243.8" y="160.22">-40</text>
<text class="c" x="243.8" y="197.3">-50</text>
<rect x="515.6" y="8" width="12.7" height="185.4" fill="url(#cb)" stroke="#151515" stroke-width="1.15"/>
<text class="c" x="531.3" y="11.9">0</text>
<path d="M528.3 45.08h-2.5" stroke="#1a1a1a" stroke-width="0.8"/>
<text class="c" x="531.3" y="48.98">-10</text>
<path d="M528.3 82.16h-2.5" stroke="#1a1a1a" stroke-width="0.8"/>
<text class="c" x="531.3" y="86.06">-20</text>
<path d="M528.3 119.24h-2.5" stroke="#1a1a1a" stroke-width="0.8"/>
<text class="c" x="531.3" y="123.14">-30</text>
<path d="M528.3 156.32h-2.5" stroke="#1a1a1a" stroke-width="0.8"/>
<text class="c" x="531.3" y="160.22">-40</text>
<text class="c" x="531.3" y="197.3">-50</text>
<text class="t" x="45.95" y="208" text-anchor="middle">-20</text>
<text class="t" x="130.45" y="208" text-anchor="middle">0</text>
<text class="t" x="214.05" y="208" text-anchor="middle">20</text>
<text class="t" x="34" y="20.7" text-anchor="end">20</text>
<text class="t" x="34" y="105.1" text-anchor="end">0</text>
<text class="t" x="34" y="189.5" text-anchor="end">-20</text>
<text class="t" x="364.3" y="208" text-anchor="middle">-10</text>
<text class="t" x="418" y="208" text-anchor="middle">0</text>
<text class="t" x="471.7" y="208" text-anchor="middle">10</text>
<text class="t" x="321.5" y="51.5" text-anchor="end">10</text>
<text class="t" x="321.5" y="105.1" text-anchor="end">0</text>
<text class="t" x="321.5" y="158.7" text-anchor="end">-10</text>
<text class="l" x="130" y="222.1" text-anchor="middle">Right Ascension(arcsec)</text>
<text class="l" x="417.5" y="222.1" text-anchor="middle">Right Ascension(arcsec)</text>
<text class="l" transform="translate(14.0 101) rotate(-90)" text-anchor="middle">Declination(arcsec)</text>
<text class="l" transform="translate(301.8 101) rotate(-90)" text-anchor="middle">Declination(arcsec)</text>
<text class="cap" x="30.7" y="243.3" textLength="12.5" lengthAdjust="spacingAndGlyphs">(<tspan class="b">a</tspan>)</text>
<text class="cap" x="47" y="243.3" textLength="47" lengthAdjust="spacingAndGlyphs">Y-shaped</text>
<text class="cap" x="99.3" y="243.3" textLength="30.2" lengthAdjust="spacingAndGlyphs">nested</text>
<text class="cap" x="134" y="243.3" textLength="26" lengthAdjust="spacingAndGlyphs">array</text>
<text class="cap" x="164" y="243.3" textLength="21" lengthAdjust="spacingAndGlyphs">with</text>
<text class="cap" x="189.2" y="243.3" textLength="10.8" lengthAdjust="spacingAndGlyphs">30</text>
<text class="cap" x="204" y="243.3" textLength="44.8" lengthAdjust="spacingAndGlyphs">antennas</text>
<text class="cap" x="318" y="243.3" textLength="13.4" lengthAdjust="spacingAndGlyphs">(<tspan class="b">b</tspan>)</text>
<text class="cap" x="335" y="243.3" textLength="47" lengthAdjust="spacingAndGlyphs">Y-shaped</text>
<text class="cap" x="387.3" y="243.3" textLength="30.2" lengthAdjust="spacingAndGlyphs">nested</text>
<text class="cap" x="422" y="243.3" textLength="26" lengthAdjust="spacingAndGlyphs">array</text>
<text class="cap" x="452" y="243.3" textLength="21" lengthAdjust="spacingAndGlyphs">with</text>
<text class="cap" x="477.2" y="243.3" textLength="10.8" lengthAdjust="spacingAndGlyphs">33</text>
<text class="cap" x="492" y="243.3" textLength="44.8" lengthAdjust="spacingAndGlyphs">antennas</text>
</svg></body></html>
